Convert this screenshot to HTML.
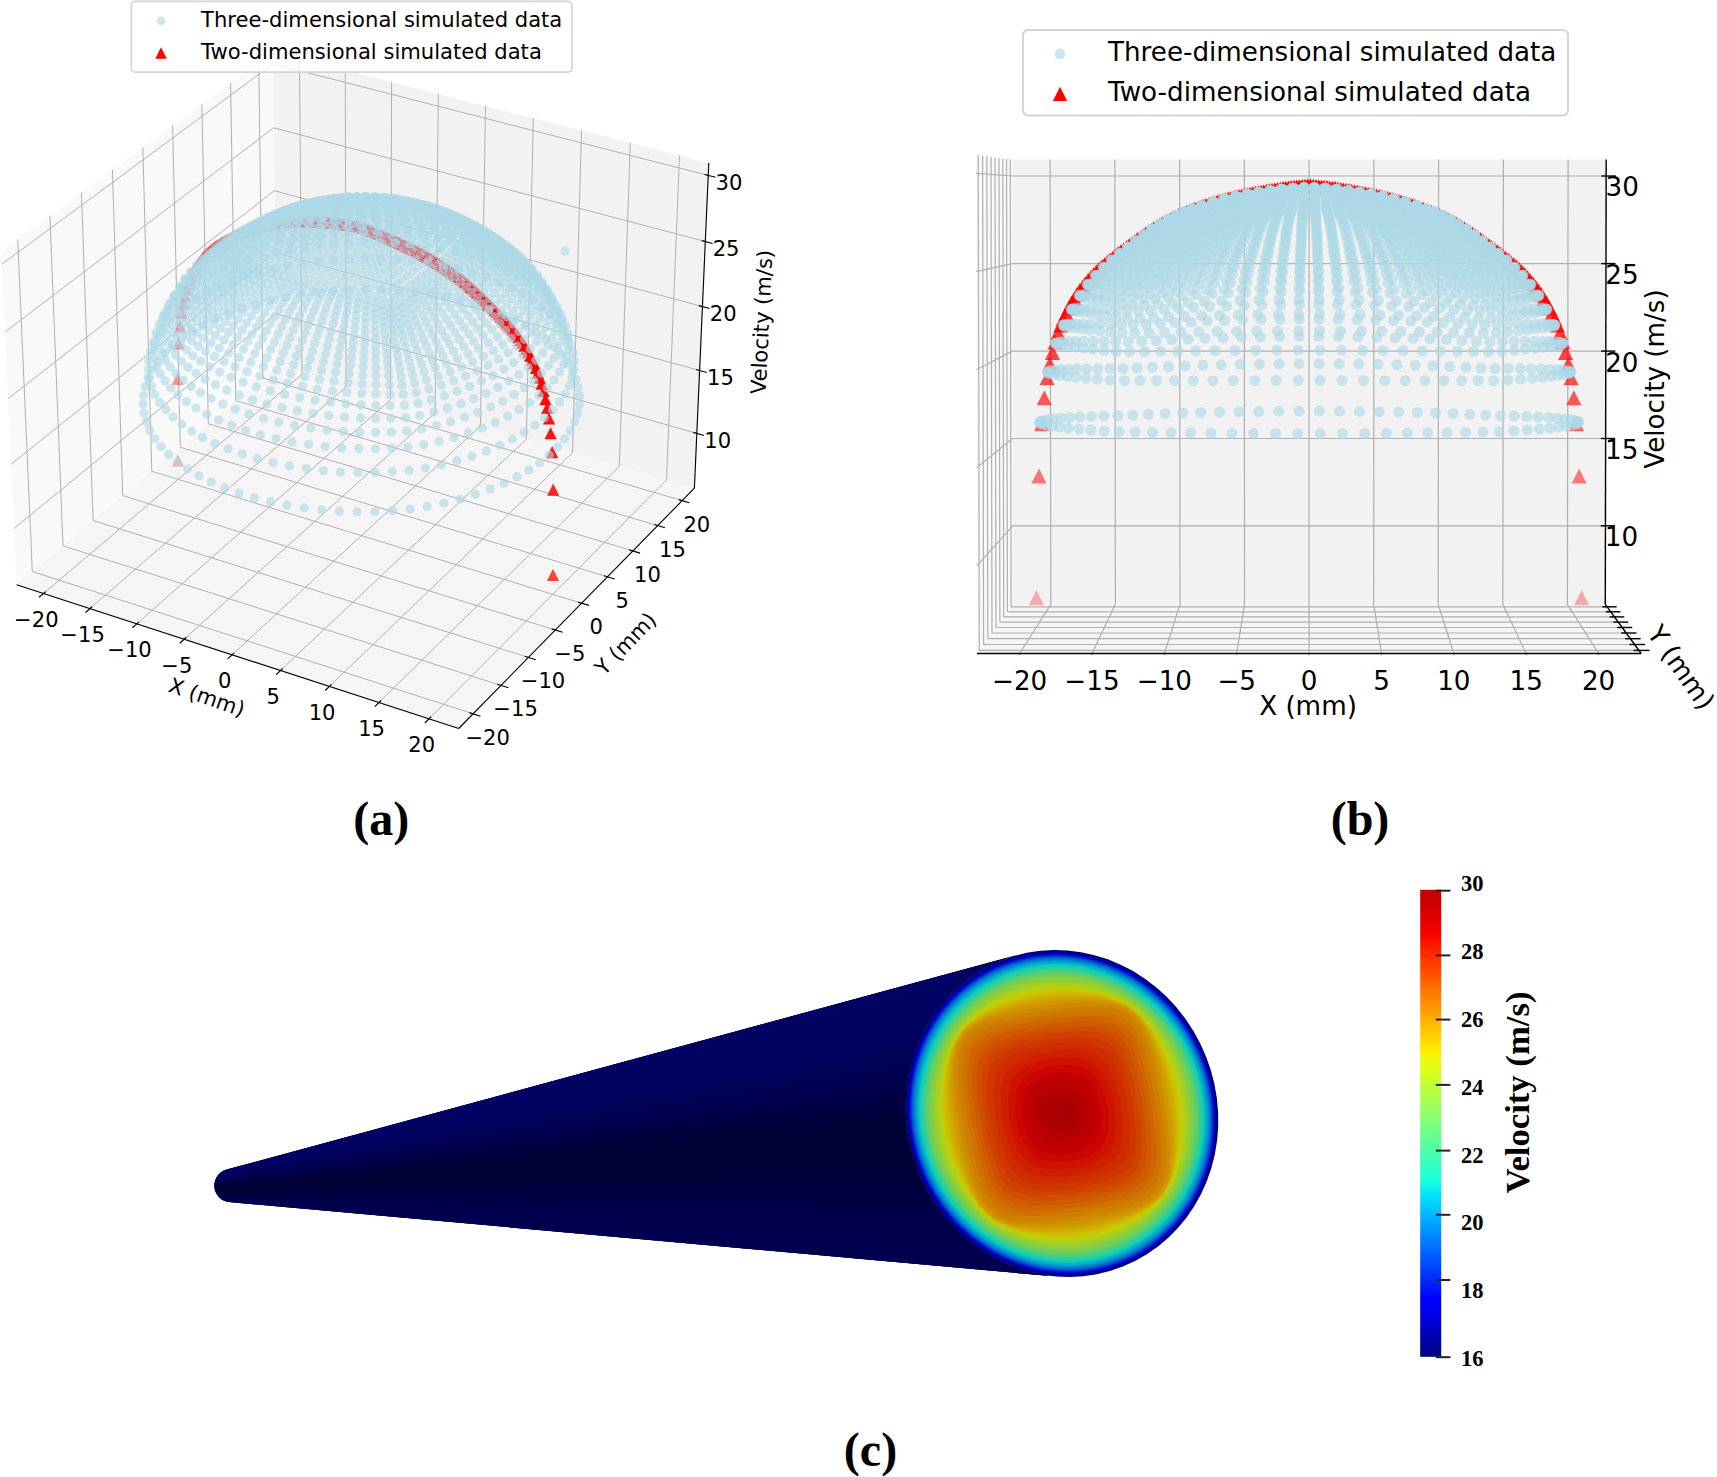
<!DOCTYPE html>
<html><head><meta charset="utf-8"><title>Velocity profiles</title>
<style>html,body{margin:0;padding:0;background:#fff}svg{display:block}</style></head>
<body><svg width="1717" height="1477" viewBox="0 0 1717 1477">
<rect width="1717" height="1477" fill="#fff"/>
<polygon points="16.5,584.7 276.3,366.7 272.9,51.8 1.1,251.4" fill="#f9f9f9"/>
<polygon points="276.3,366.7 694.4,488.2 708.8,162.9 272.9,51.8" fill="#f2f2f2"/>
<polygon points="16.5,584.7 458.7,728.5 694.4,488.2 276.3,366.7" fill="#f5f5f5"/>
<g stroke-linejoin="round"><polyline points="43.6,593.5 302,374.2 299.5,58.6" fill="none" stroke="#b0b0b0" stroke-width="1.00"/><polyline points="89.9,608.6 346,386.9 345.3,70.2" fill="none" stroke="#b0b0b0" stroke-width="1.00"/><polyline points="136.8,623.8 390.4,399.8 391.6,82" fill="none" stroke="#b0b0b0" stroke-width="1.00"/><polyline points="184.1,639.2 435.2,412.9 438.3,93.9" fill="none" stroke="#b0b0b0" stroke-width="1.00"/><polyline points="232,654.8 480.5,426 485.5,106" fill="none" stroke="#b0b0b0" stroke-width="1.00"/><polyline points="280.5,670.5 526.3,439.3 533.3,118.1" fill="none" stroke="#b0b0b0" stroke-width="1.00"/><polyline points="329.4,686.4 572.5,452.8 581.5,130.4" fill="none" stroke="#b0b0b0" stroke-width="1.00"/><polyline points="378.9,702.5 619.3,466.4 630.3,142.9" fill="none" stroke="#b0b0b0" stroke-width="1.00"/><polyline points="429,718.8 666.5,480.1 679.5,155.4" fill="none" stroke="#b0b0b0" stroke-width="1.00"/><polyline points="17.7,239.3 32.3,571.5 473.1,713.8" fill="none" stroke="#b0b0b0" stroke-width="1.00"/><polyline points="49.9,215.6 63,545.8 501,685.4" fill="none" stroke="#b0b0b0" stroke-width="1.00"/><polyline points="81.4,192.4 93.1,520.5 528.4,657.4" fill="none" stroke="#b0b0b0" stroke-width="1.00"/><polyline points="112.4,169.7 122.7,495.6 555.3,630" fill="none" stroke="#b0b0b0" stroke-width="1.00"/><polyline points="142.8,147.3 151.8,471.3 581.7,603.2" fill="none" stroke="#b0b0b0" stroke-width="1.00"/><polyline points="172.6,125.4 180.3,447.3 607.5,576.8" fill="none" stroke="#b0b0b0" stroke-width="1.00"/><polyline points="201.9,103.9 208.3,423.8 632.9,550.9" fill="none" stroke="#b0b0b0" stroke-width="1.00"/><polyline points="230.6,82.8 235.8,400.7 657.8,525.6" fill="none" stroke="#b0b0b0" stroke-width="1.00"/><polyline points="258.8,62.1 262.8,378 682.2,500.6" fill="none" stroke="#b0b0b0" stroke-width="1.00"/><polyline points="13.9,528.7 275.8,313.6 696.9,433.4" fill="none" stroke="#b0b0b0" stroke-width="1.00"/><polyline points="11,464.3 275.1,252.7 699.6,370.5" fill="none" stroke="#b0b0b0" stroke-width="1.00"/><polyline points="7.9,398.8 274.4,190.7 702.4,306.6" fill="none" stroke="#b0b0b0" stroke-width="1.00"/><polyline points="4.9,332.1 273.7,127.8 705.3,241.5" fill="none" stroke="#b0b0b0" stroke-width="1.00"/><polyline points="1.7,264.3 273,63.9 708.2,175.4" fill="none" stroke="#b0b0b0" stroke-width="1.00"/></g>
<polyline points="16.5,584.7 458.7,728.5" fill="none" stroke="#000" stroke-width="1.15"/>
<polyline points="458.7,728.5 694.4,488.2" fill="none" stroke="#000" stroke-width="1.15"/>
<polyline points="694.4,488.2 708.8,162.9" fill="none" stroke="#000" stroke-width="1.15"/>
<polyline points="39.1,597.3 45.8,591.6" fill="none" stroke="#000" stroke-width="1.15"/><polyline points="85.5,612.5 92.1,606.7" fill="none" stroke="#000" stroke-width="1.15"/><polyline points="132.4,627.7 139,621.9" fill="none" stroke="#000" stroke-width="1.15"/><polyline points="179.8,643.2 186.3,637.3" fill="none" stroke="#000" stroke-width="1.15"/><polyline points="227.7,658.8 234.2,652.8" fill="none" stroke="#000" stroke-width="1.15"/><polyline points="276.2,674.6 282.6,668.5" fill="none" stroke="#000" stroke-width="1.15"/><polyline points="325.2,690.5 331.5,684.4" fill="none" stroke="#000" stroke-width="1.15"/><polyline points="374.8,706.7 381,700.5" fill="none" stroke="#000" stroke-width="1.15"/><polyline points="424.9,723 431.1,716.7" fill="none" stroke="#000" stroke-width="1.15"/><polyline points="480.5,716.2 469.4,712.6" fill="none" stroke="#000" stroke-width="1.15"/><polyline points="508.4,687.7 497.3,684.2" fill="none" stroke="#000" stroke-width="1.15"/><polyline points="535.7,659.7 524.8,656.3" fill="none" stroke="#000" stroke-width="1.15"/><polyline points="562.6,632.3 551.7,628.9" fill="none" stroke="#000" stroke-width="1.15"/><polyline points="588.9,605.4 578,602.1" fill="none" stroke="#000" stroke-width="1.15"/><polyline points="614.7,579 603.9,575.7" fill="none" stroke="#000" stroke-width="1.15"/><polyline points="640,553.1 629.3,549.9" fill="none" stroke="#000" stroke-width="1.15"/><polyline points="664.9,527.7 654.3,524.5" fill="none" stroke="#000" stroke-width="1.15"/><polyline points="689.3,502.7 678.7,499.6" fill="none" stroke="#000" stroke-width="1.15"/><polyline points="703.9,435.5 693.3,432.4" fill="none" stroke="#000" stroke-width="1.15"/><polyline points="706.8,372.5 696.1,369.5" fill="none" stroke="#000" stroke-width="1.15"/><polyline points="709.6,308.5 698.8,305.6" fill="none" stroke="#000" stroke-width="1.15"/><polyline points="712.6,243.5 701.7,240.6" fill="none" stroke="#000" stroke-width="1.15"/><polyline points="715.5,177.3 704.6,174.5" fill="none" stroke="#000" stroke-width="1.15"/>
<g font-family="'DejaVu Sans','Liberation Sans',sans-serif" font-size="21.1" text-anchor="middle" dominant-baseline="central" fill="#000"><text x="36.3" y="619.6">−20</text><text x="82.6" y="634.7">−15</text><text x="129.5" y="649.9">−10</text><text x="176.8" y="665.3">−5</text><text x="224.7" y="680.9">0</text><text x="273.2" y="696.6">5</text><text x="322.1" y="712.5">10</text><text x="371.6" y="728.6">15</text><text x="421.7" y="744.9">20</text><text x="487.7" y="737.2">−20</text><text x="515.6" y="708.8">−15</text><text x="543" y="680.8">−10</text><text x="569.9" y="653.4">−5</text><text x="596.3" y="626.6">0</text><text x="622.1" y="600.2">5</text><text x="647.5" y="574.3">10</text><text x="672.4" y="549">15</text><text x="696.8" y="524">20</text><text x="717.7" y="440.4">10</text><text x="720.4" y="377.5">15</text><text x="723.2" y="313.6">20</text><text x="726.1" y="248.5">25</text><text x="729" y="182.4">30</text><text x="207" y="697" transform="rotate(19 207 697)">X (mm)</text><text x="625.5" y="643.5" transform="rotate(-46 625.5 643.5)">Y (mm)</text><text x="761.5" y="322" transform="rotate(-87.3 761.5 322)">Velocity (m/s)</text></g>
<g fill="#f00"><path d="M177.9 454.4l6.1 12.2h-12.2z" opacity="0.30"/><path d="M177.7 372.7l6.1 12.2h-12.2z" opacity="0.41"/><path d="M178.7 337.3l6.1 12.2h-12.2z" opacity="0.46"/><path d="M180.1 320l6.1 12.2h-12.2z" opacity="0.49"/><path d="M181.6 306.6l6.1 12.2h-12.2z" opacity="0.51"/><path d="M183.3 297.5l6.1 12.2h-12.2z" opacity="0.52"/><path d="M184.9 290.1l6.1 12.2h-12.2z" opacity="0.53"/><path d="M186.6 283.2l6.1 12.2h-12.2z" opacity="0.55"/><path d="M188.3 277.2l6.1 12.2h-12.2z" opacity="0.56"/><path d="M190.1 272.5l6.1 12.2h-12.2z" opacity="0.57"/><path d="M191.8 268.6l6.1 12.2h-12.2z" opacity="0.57"/><path d="M193.6 265.1l6.1 12.2h-12.2z" opacity="0.58"/><path d="M195.4 261.9l6.1 12.2h-12.2z" opacity="0.59"/><path d="M197.2 259l6.1 12.2h-12.2z" opacity="0.59"/><path d="M199 256.4l6.1 12.2h-12.2z" opacity="0.60"/><path d="M200.8 254l6.1 12.2h-12.2z" opacity="0.61"/><path d="M202.6 251.8l6.1 12.2h-12.2z" opacity="0.61"/><path d="M204.4 249.9l6.1 12.2h-12.2z" opacity="0.62"/><path d="M206.2 248l6.1 12.2h-12.2z" opacity="0.62"/><path d="M208.1 246.3l6.1 12.2h-12.2z" opacity="0.63"/><path d="M209.9 244.7l6.1 12.2h-12.2z" opacity="0.63"/><path d="M211.7 243.2l6.1 12.2h-12.2z" opacity="0.64"/><path d="M213.6 241.8l6.1 12.2h-12.2z" opacity="0.64"/><path d="M215.4 240.6l6.1 12.2h-12.2z" opacity="0.65"/><path d="M217.3 239.3l6.1 12.2h-12.2z" opacity="0.65"/><path d="M219.1 238.2l6.1 12.2h-12.2z" opacity="0.66"/><path d="M221 237.1l6.1 12.2h-12.2z" opacity="0.66"/><path d="M222.8 236.1l6.1 12.2h-12.2z" opacity="0.67"/><path d="M224.7 235.1l6.1 12.2h-12.2z" opacity="0.67"/><path d="M226.5 234.1l6.1 12.2h-12.2z" opacity="0.67"/><path d="M228.4 233.1l6.1 12.2h-12.2z" opacity="0.68"/><path d="M230.3 232.2l6.1 12.2h-12.2z" opacity="0.68"/><path d="M232.1 231.2l6.1 12.2h-12.2z" opacity="0.69"/><path d="M234 230.3l6.1 12.2h-12.2z" opacity="0.69"/><path d="M235.9 229.4l6.1 12.2h-12.2z" opacity="0.69"/><path d="M237.7 228.5l6.1 12.2h-12.2z" opacity="0.70"/><path d="M239.6 227.6l6.1 12.2h-12.2z" opacity="0.70"/><path d="M241.5 226.7l6.1 12.2h-12.2z" opacity="0.71"/><path d="M243.3 225.9l6.1 12.2h-12.2z" opacity="0.71"/><path d="M245.2 225.1l6.1 12.2h-12.2z" opacity="0.72"/><path d="M247.1 224.3l6.1 12.2h-12.2z" opacity="0.72"/><path d="M249 223.5l6.1 12.2h-12.2z" opacity="0.72"/><path d="M250.9 222.8l6.1 12.2h-12.2z" opacity="0.73"/><path d="M252.7 222.1l6.1 12.2h-12.2z" opacity="0.73"/><path d="M553 568.7l6.1 12.2h-12.2z" opacity="0.73"/><path d="M254.6 221.4l6.1 12.2h-12.2z" opacity="0.73"/><path d="M256.5 220.8l6.1 12.2h-12.2z" opacity="0.74"/><path d="M258.4 220.2l6.1 12.2h-12.2z" opacity="0.74"/><path d="M260.3 219.6l6.1 12.2h-12.2z" opacity="0.75"/><path d="M262.2 219.1l6.1 12.2h-12.2z" opacity="0.75"/><path d="M264.1 218.6l6.1 12.2h-12.2z" opacity="0.75"/><path d="M266 218.2l6.1 12.2h-12.2z" opacity="0.76"/><path d="M267.9 217.8l6.1 12.2h-12.2z" opacity="0.76"/><path d="M269.8 217.5l6.1 12.2h-12.2z" opacity="0.76"/><path d="M271.7 217.2l6.1 12.2h-12.2z" opacity="0.77"/><path d="M273.6 216.9l6.1 12.2h-12.2z" opacity="0.77"/><path d="M275.5 216.6l6.1 12.2h-12.2z" opacity="0.77"/><path d="M277.4 216.4l6.1 12.2h-12.2z" opacity="0.78"/><path d="M279.3 216.2l6.1 12.2h-12.2z" opacity="0.78"/><path d="M281.2 216l6.1 12.2h-12.2z" opacity="0.78"/><path d="M283.1 215.8l6.1 12.2h-12.2z" opacity="0.79"/><path d="M285 215.6l6.1 12.2h-12.2z" opacity="0.79"/><path d="M286.9 215.5l6.1 12.2h-12.2z" opacity="0.79"/><path d="M288.9 215.4l6.1 12.2h-12.2z" opacity="0.80"/><path d="M290.8 215.3l6.1 12.2h-12.2z" opacity="0.80"/><path d="M292.7 215.2l6.1 12.2h-12.2z" opacity="0.80"/><path d="M294.6 215.1l6.1 12.2h-12.2z" opacity="0.81"/><path d="M296.5 215l6.1 12.2h-12.2z" opacity="0.81"/><path d="M298.5 215l6.1 12.2h-12.2z" opacity="0.81"/><path d="M300.4 215l6.1 12.2h-12.2z" opacity="0.82"/><path d="M302.3 215l6.1 12.2h-12.2z" opacity="0.82"/><path d="M304.2 215l6.1 12.2h-12.2z" opacity="0.82"/><path d="M306.1 215l6.1 12.2h-12.2z" opacity="0.82"/><path d="M308.1 215.1l6.1 12.2h-12.2z" opacity="0.83"/><path d="M310 215.1l6.1 12.2h-12.2z" opacity="0.83"/><path d="M311.9 215.2l6.1 12.2h-12.2z" opacity="0.83"/><path d="M313.9 215.3l6.1 12.2h-12.2z" opacity="0.84"/><path d="M315.8 215.4l6.1 12.2h-12.2z" opacity="0.84"/><path d="M317.7 215.6l6.1 12.2h-12.2z" opacity="0.84"/><path d="M319.7 215.7l6.1 12.2h-12.2z" opacity="0.84"/><path d="M553.2 483.6l6.1 12.2h-12.2z" opacity="0.85"/><path d="M321.6 215.9l6.1 12.2h-12.2z" opacity="0.85"/><path d="M323.5 216l6.1 12.2h-12.2z" opacity="0.85"/><path d="M325.5 216.2l6.1 12.2h-12.2z" opacity="0.85"/><path d="M327.4 216.3l6.1 12.2h-12.2z" opacity="0.86"/><path d="M329.4 216.5l6.1 12.2h-12.2z" opacity="0.86"/><path d="M331.3 216.7l6.1 12.2h-12.2z" opacity="0.86"/><path d="M333.2 216.9l6.1 12.2h-12.2z" opacity="0.86"/><path d="M335.2 217.1l6.1 12.2h-12.2z" opacity="0.87"/><path d="M337.1 217.3l6.1 12.2h-12.2z" opacity="0.87"/><path d="M339.1 217.5l6.1 12.2h-12.2z" opacity="0.87"/><path d="M341 217.8l6.1 12.2h-12.2z" opacity="0.87"/><path d="M343 218l6.1 12.2h-12.2z" opacity="0.88"/><path d="M344.9 218.3l6.1 12.2h-12.2z" opacity="0.88"/><path d="M346.9 218.5l6.1 12.2h-12.2z" opacity="0.88"/><path d="M348.8 218.8l6.1 12.2h-12.2z" opacity="0.89"/><path d="M350.8 219.1l6.1 12.2h-12.2z" opacity="0.89"/><path d="M352.7 219.4l6.1 12.2h-12.2z" opacity="0.89"/><path d="M354.7 219.8l6.1 12.2h-12.2z" opacity="0.89"/><path d="M552.2 446l6.1 12.2h-12.2z" opacity="0.90"/><path d="M356.6 220.1l6.1 12.2h-12.2z" opacity="0.90"/><path d="M358.6 220.5l6.1 12.2h-12.2z" opacity="0.90"/><path d="M360.5 220.8l6.1 12.2h-12.2z" opacity="0.90"/><path d="M362.5 221.4l6.1 12.2h-12.2z" opacity="0.90"/><path d="M364.4 222.1l6.1 12.2h-12.2z" opacity="0.91"/><path d="M366.4 222.8l6.1 12.2h-12.2z" opacity="0.91"/><path d="M368.4 223.5l6.1 12.2h-12.2z" opacity="0.91"/><path d="M370.3 224.2l6.1 12.2h-12.2z" opacity="0.91"/><path d="M372.3 225l6.1 12.2h-12.2z" opacity="0.91"/><path d="M374.2 225.7l6.1 12.2h-12.2z" opacity="0.92"/><path d="M376.2 226.5l6.1 12.2h-12.2z" opacity="0.92"/><path d="M550.6 427.1l6.1 12.2h-12.2z" opacity="0.92"/><path d="M378.2 227.3l6.1 12.2h-12.2z" opacity="0.92"/><path d="M380.1 228.1l6.1 12.2h-12.2z" opacity="0.92"/><path d="M382.1 228.9l6.1 12.2h-12.2z" opacity="0.92"/><path d="M384.1 229.8l6.1 12.2h-12.2z" opacity="0.93"/><path d="M386 230.6l6.1 12.2h-12.2z" opacity="0.93"/><path d="M388 231.5l6.1 12.2h-12.2z" opacity="0.93"/><path d="M389.9 232.4l6.1 12.2h-12.2z" opacity="0.93"/><path d="M391.9 233.2l6.1 12.2h-12.2z" opacity="0.93"/><path d="M393.9 234.1l6.1 12.2h-12.2z" opacity="0.94"/><path d="M549 412.2l6.1 12.2h-12.2z" opacity="0.94"/><path d="M395.9 235l6.1 12.2h-12.2z" opacity="0.94"/><path d="M397.8 235.9l6.1 12.2h-12.2z" opacity="0.94"/><path d="M399.8 236.8l6.1 12.2h-12.2z" opacity="0.94"/><path d="M401.8 237.7l6.1 12.2h-12.2z" opacity="0.94"/><path d="M403.7 238.6l6.1 12.2h-12.2z" opacity="0.94"/><path d="M405.7 239.6l6.1 12.2h-12.2z" opacity="0.95"/><path d="M547.2 401.7l6.1 12.2h-12.2z" opacity="0.95"/><path d="M407.7 240.5l6.1 12.2h-12.2z" opacity="0.95"/><path d="M409.7 241.5l6.1 12.2h-12.2z" opacity="0.95"/><path d="M411.6 242.4l6.1 12.2h-12.2z" opacity="0.95"/><path d="M413.6 243.4l6.1 12.2h-12.2z" opacity="0.95"/><path d="M415.6 244.4l6.1 12.2h-12.2z" opacity="0.96"/><path d="M417.6 245.4l6.1 12.2h-12.2z" opacity="0.96"/><path d="M545.4 393l6.1 12.2h-12.2z" opacity="0.96"/><path d="M419.5 246.5l6.1 12.2h-12.2z" opacity="0.96"/><path d="M421.5 247.5l6.1 12.2h-12.2z" opacity="0.96"/><path d="M423.5 248.6l6.1 12.2h-12.2z" opacity="0.96"/><path d="M425.5 249.7l6.1 12.2h-12.2z" opacity="0.96"/><path d="M427.4 250.8l6.1 12.2h-12.2z" opacity="0.97"/><path d="M543.6 384.8l6.1 12.2h-12.2z" opacity="0.97"/><path d="M429.4 252l6.1 12.2h-12.2z" opacity="0.97"/><path d="M431.4 253.1l6.1 12.2h-12.2z" opacity="0.97"/><path d="M433.4 254.3l6.1 12.2h-12.2z" opacity="0.97"/><path d="M435.3 255.5l6.1 12.2h-12.2z" opacity="0.97"/><path d="M541.7 377.5l6.1 12.2h-12.2z" opacity="0.97"/><path d="M437.3 256.7l6.1 12.2h-12.2z" opacity="0.97"/><path d="M439.3 257.9l6.1 12.2h-12.2z" opacity="0.97"/><path d="M441.3 259.1l6.1 12.2h-12.2z" opacity="0.98"/><path d="M443.3 260.4l6.1 12.2h-12.2z" opacity="0.98"/><path d="M539.8 371.6l6.1 12.2h-12.2z" opacity="0.98"/><path d="M445.3 261.7l6.1 12.2h-12.2z" opacity="0.98"/><path d="M447.2 263l6.1 12.2h-12.2z" opacity="0.98"/><path d="M449.2 264.3l6.1 12.2h-12.2z" opacity="0.98"/><path d="M537.9 366.5l6.1 12.2h-12.2z" opacity="0.98"/><path d="M451.2 265.6l6.1 12.2h-12.2z" opacity="0.98"/><path d="M453.2 267l6.1 12.2h-12.2z" opacity="0.98"/><path d="M536 361.8l6.1 12.2h-12.2z" opacity="0.98"/><path d="M455.2 268.4l6.1 12.2h-12.2z" opacity="0.98"/><path d="M457.1 269.8l6.1 12.2h-12.2z" opacity="0.99"/><path d="M459.1 271.3l6.1 12.2h-12.2z" opacity="0.99"/><path d="M534.1 357.4l6.1 12.2h-12.2z" opacity="0.99"/><path d="M461.1 272.8l6.1 12.2h-12.2z" opacity="0.99"/><path d="M463.1 274.4l6.1 12.2h-12.2z" opacity="0.99"/><path d="M465.1 276l6.1 12.2h-12.2z" opacity="0.99"/><path d="M532.1 353.3l6.1 12.2h-12.2z" opacity="0.99"/><path d="M467.1 277.6l6.1 12.2h-12.2z" opacity="0.99"/><path d="M469 279.3l6.1 12.2h-12.2z" opacity="0.99"/><path d="M530.2 349.5l6.1 12.2h-12.2z" opacity="0.99"/><path d="M471 281l6.1 12.2h-12.2z" opacity="0.99"/><path d="M473 282.8l6.1 12.2h-12.2z" opacity="0.99"/><path d="M475 284.6l6.1 12.2h-12.2z" opacity="0.99"/><path d="M528.3 346l6.1 12.2h-12.2z" opacity="0.99"/><path d="M477 286.4l6.1 12.2h-12.2z" opacity="0.99"/><path d="M478.9 288.3l6.1 12.2h-12.2z" opacity="0.99"/><path d="M526.3 342.7l6.1 12.2h-12.2z" opacity="1.00"/><path d="M480.9 290.2l6.1 12.2h-12.2z" opacity="1.00"/><path d="M482.9 292.1l6.1 12.2h-12.2z" opacity="1.00"/><path d="M484.9 294l6.1 12.2h-12.2z" opacity="1.00"/><path d="M524.4 339.5l6.1 12.2h-12.2z" opacity="1.00"/><path d="M486.9 296l6.1 12.2h-12.2z" opacity="1.00"/><path d="M488.8 298l6.1 12.2h-12.2z" opacity="1.00"/><path d="M522.4 336.5l6.1 12.2h-12.2z" opacity="1.00"/><path d="M490.8 300l6.1 12.2h-12.2z" opacity="1.00"/><path d="M492.8 302l6.1 12.2h-12.2z" opacity="1.00"/><path d="M520.4 333.7l6.1 12.2h-12.2z" opacity="1.00"/><path d="M494.8 304l6.1 12.2h-12.2z" opacity="1.00"/><path d="M496.7 306.1l6.1 12.2h-12.2z" opacity="1.00"/><path d="M498.7 308.2l6.1 12.2h-12.2z" opacity="1.00"/><path d="M518.5 331l6.1 12.2h-12.2z" opacity="1.00"/><path d="M500.7 310.2l6.1 12.2h-12.2z" opacity="1.00"/><path d="M516.5 328.3l6.1 12.2h-12.2z" opacity="1.00"/><path d="M502.7 312.3l6.1 12.2h-12.2z" opacity="1.00"/><path d="M504.7 314.5l6.1 12.2h-12.2z" opacity="1.00"/><path d="M514.5 325.8l6.1 12.2h-12.2z" opacity="1.00"/><path d="M506.6 316.6l6.1 12.2h-12.2z" opacity="1.00"/><path d="M512.6 323.4l6.1 12.2h-12.2z" opacity="1.00"/><path d="M508.6 318.8l6.1 12.2h-12.2z" opacity="1.00"/><path d="M510.6 321.1l6.1 12.2h-12.2z" opacity="1.00"/></g>
<g fill="#add8e6" fill-opacity="0.62" class="da"><circle cx="365.5" cy="289.4" r="4.6"/><circle cx="349.2" cy="289.8" r="4.6"/><circle cx="381.9" cy="289.6" r="4.6"/><circle cx="332.9" cy="290.9" r="4.6"/><circle cx="398.2" cy="290.5" r="4.6"/><circle cx="316.8" cy="292.5" r="4.6"/><circle cx="414.3" cy="292" r="4.6"/><circle cx="301" cy="294.6" r="4.6"/><circle cx="430.2" cy="294.2" r="4.6"/><circle cx="285.5" cy="297.2" r="4.6"/><circle cx="445.7" cy="297" r="4.6"/><circle cx="270.3" cy="300.4" r="4.6"/><circle cx="460.7" cy="300.4" r="4.6"/><circle cx="364.8" cy="258.6" r="4.6"/><circle cx="348.9" cy="259.1" r="4.6"/><circle cx="380.7" cy="258.7" r="4.6"/><circle cx="333.2" cy="260.2" r="4.6"/><circle cx="255.7" cy="304.2" r="4.6"/><circle cx="396.6" cy="259.4" r="4.6"/><circle cx="475.2" cy="304.4" r="4.6"/><circle cx="317.7" cy="261.9" r="4.6"/><circle cx="412.4" cy="260.8" r="4.6"/><circle cx="302.5" cy="263.9" r="4.6"/><circle cx="428" cy="262.8" r="4.6"/><circle cx="241.5" cy="308.5" r="4.6"/><circle cx="489.1" cy="309" r="4.6"/><circle cx="287.6" cy="266.2" r="4.6"/><circle cx="443.3" cy="265.5" r="4.6"/><circle cx="364" cy="242" r="4.6"/><circle cx="348.7" cy="242.6" r="4.6"/><circle cx="379.5" cy="242" r="4.6"/><circle cx="333.5" cy="243.8" r="4.6"/><circle cx="273" cy="269.1" r="4.6"/><circle cx="228" cy="313.4" r="4.6"/><circle cx="395" cy="242.7" r="4.6"/><circle cx="318.7" cy="245.5" r="4.6"/><circle cx="502.2" cy="314.2" r="4.6"/><circle cx="458.2" cy="268.8" r="4.6"/><circle cx="410.5" cy="244" r="4.6"/><circle cx="304.1" cy="247.5" r="4.6"/><circle cx="258.8" cy="272.6" r="4.6"/><circle cx="425.8" cy="245.9" r="4.6"/><circle cx="472.5" cy="272.7" r="4.6"/><circle cx="289.8" cy="249.6" r="4.6"/><circle cx="363.3" cy="232.5" r="4.6"/><circle cx="215.3" cy="318.8" r="4.6"/><circle cx="348.5" cy="233.1" r="4.6"/><circle cx="378.3" cy="232.5" r="4.6"/><circle cx="333.9" cy="234.3" r="4.6"/><circle cx="514.5" cy="319.9" r="4.6"/><circle cx="440.8" cy="248.4" r="4.6"/><circle cx="393.4" cy="233" r="4.6"/><circle cx="319.6" cy="236" r="4.6"/><circle cx="245" cy="276.7" r="4.6"/><circle cx="408.5" cy="234.2" r="4.6"/><circle cx="275.7" cy="252.2" r="4.6"/><circle cx="305.7" cy="237.8" r="4.6"/><circle cx="486.2" cy="277.3" r="4.6"/><circle cx="455.5" cy="251.7" r="4.6"/><circle cx="423.5" cy="236.1" r="4.6"/><circle cx="203.3" cy="324.8" r="4.6"/><circle cx="348.4" cy="225.6" r="4.6"/><circle cx="362.6" cy="224.9" r="4.6"/><circle cx="292" cy="239.8" r="4.6"/><circle cx="334.3" cy="226.9" r="4.6"/><circle cx="377.2" cy="224.8" r="4.6"/><circle cx="262" cy="255.5" r="4.6"/><circle cx="526" cy="326" r="4.6"/><circle cx="231.8" cy="281.3" r="4.6"/><circle cx="320.6" cy="228.6" r="4.6"/><circle cx="391.8" cy="225.2" r="4.6"/><circle cx="438.3" cy="238.6" r="4.6"/><circle cx="469.6" cy="255.5" r="4.6"/><circle cx="499.2" cy="282.3" r="4.6"/><circle cx="406.6" cy="226.3" r="4.6"/><circle cx="307.3" cy="230.4" r="4.6"/><circle cx="278.5" cy="242.3" r="4.6"/><circle cx="248.7" cy="259.3" r="4.6"/><circle cx="452.7" cy="241.7" r="4.6"/><circle cx="421.2" cy="228" r="4.6"/><circle cx="348.2" cy="219.2" r="4.6"/><circle cx="294.2" cy="232.1" r="4.6"/><circle cx="362" cy="218.4" r="4.6"/><circle cx="334.7" cy="220.5" r="4.6"/><circle cx="192.2" cy="331.2" r="4.6"/><circle cx="376.1" cy="218.2" r="4.6"/><circle cx="483.1" cy="259.9" r="4.6"/><circle cx="219.3" cy="286.5" r="4.6"/><circle cx="321.6" cy="222.3" r="4.6"/><circle cx="265.3" cy="245.4" r="4.6"/><circle cx="536.4" cy="332.7" r="4.6"/><circle cx="390.3" cy="218.5" r="4.6"/><circle cx="435.7" cy="230.4" r="4.6"/><circle cx="511.3" cy="287.9" r="4.6"/><circle cx="308.9" cy="223.9" r="4.6"/><circle cx="466.6" cy="245.5" r="4.6"/><circle cx="281.3" cy="234.4" r="4.6"/><circle cx="404.6" cy="219.5" r="4.6"/><circle cx="235.8" cy="263.7" r="4.6"/><circle cx="348.1" cy="214.3" r="4.6"/><circle cx="361.4" cy="213.6" r="4.6"/><circle cx="252.4" cy="249" r="4.6"/><circle cx="419" cy="221.2" r="4.6"/><circle cx="449.8" cy="233.4" r="4.6"/><circle cx="335.2" cy="215.6" r="4.6"/><circle cx="296.4" cy="225.5" r="4.6"/><circle cx="495.8" cy="264.9" r="4.6"/><circle cx="375" cy="213.4" r="4.6"/><circle cx="322.6" cy="217.3" r="4.6"/><circle cx="268.6" cy="237.2" r="4.6"/><circle cx="207.5" cy="292.2" r="4.6"/><circle cx="388.8" cy="213.8" r="4.6"/><circle cx="182.1" cy="338.1" r="4.6"/><circle cx="479.8" cy="249.8" r="4.6"/><circle cx="310.5" cy="218.8" r="4.6"/><circle cx="433.1" cy="223.5" r="4.6"/><circle cx="545.9" cy="339.7" r="4.6"/><circle cx="522.4" cy="294" r="4.6"/><circle cx="402.7" cy="214.7" r="4.6"/><circle cx="284" cy="227.5" r="4.6"/><circle cx="463.5" cy="237.1" r="4.6"/><circle cx="223.6" cy="268.6" r="4.6"/><circle cx="348.1" cy="211" r="4.6"/><circle cx="335.6" cy="212.2" r="4.6"/><circle cx="239.9" cy="253.2" r="4.6"/><circle cx="360.9" cy="210.3" r="4.6"/><circle cx="298.6" cy="220.3" r="4.6"/><circle cx="323.6" cy="213.8" r="4.6"/><circle cx="416.7" cy="216.4" r="4.6"/><circle cx="374" cy="210.1" r="4.6"/><circle cx="256.1" cy="240.6" r="4.6"/><circle cx="507.7" cy="270.4" r="4.6"/><circle cx="447" cy="226.5" r="4.6"/><circle cx="387.3" cy="210.4" r="4.6"/><circle cx="312" cy="215.3" r="4.6"/><circle cx="271.8" cy="230.1" r="4.6"/><circle cx="492.3" cy="254.7" r="4.6"/><circle cx="196.6" cy="298.4" r="4.6"/><circle cx="430.5" cy="218.6" r="4.6"/><circle cx="400.8" cy="211.4" r="4.6"/><circle cx="286.8" cy="222.3" r="4.6"/><circle cx="476.5" cy="241.4" r="4.6"/><circle cx="348" cy="208.4" r="4.6"/><circle cx="336.1" cy="209.5" r="4.6"/><circle cx="173" cy="345.5" r="4.6"/><circle cx="532.7" cy="300.5" r="4.6"/><circle cx="360.3" cy="207.7" r="4.6"/><circle cx="300.8" cy="216.7" r="4.6"/><circle cx="324.6" cy="211.1" r="4.6"/><circle cx="460.4" cy="230.1" r="4.6"/><circle cx="212" cy="274.2" r="4.6"/><circle cx="228" cy="258" r="4.6"/><circle cx="554.3" cy="347.1" r="4.6"/><circle cx="373" cy="207.4" r="4.6"/><circle cx="414.4" cy="212.9" r="4.6"/><circle cx="244" cy="244.6" r="4.6"/><circle cx="259.8" cy="233.3" r="4.6"/><circle cx="313.6" cy="212.5" r="4.6"/><circle cx="444.1" cy="221.5" r="4.6"/><circle cx="385.9" cy="207.7" r="4.6"/><circle cx="518.6" cy="276.4" r="4.6"/><circle cx="275" cy="224.8" r="4.6"/><circle cx="503.9" cy="260.1" r="4.6"/><circle cx="289.5" cy="218.6" r="4.6"/><circle cx="427.9" cy="215.1" r="4.6"/><circle cx="399" cy="208.6" r="4.6"/><circle cx="488.7" cy="246.3" r="4.6"/><circle cx="336.6" cy="207.3" r="4.6"/><circle cx="348" cy="206.2" r="4.6"/><circle cx="325.6" cy="208.8" r="4.6"/><circle cx="302.9" cy="213.8" r="4.6"/><circle cx="359.8" cy="205.5" r="4.6"/><circle cx="473.1" cy="234.3" r="4.6"/><circle cx="372" cy="205.3" r="4.6"/><circle cx="186.6" cy="305.2" r="4.6"/><circle cx="457.2" cy="225" r="4.6"/><circle cx="412.2" cy="210.1" r="4.6"/><circle cx="315.1" cy="210.2" r="4.6"/><circle cx="232.4" cy="249.1" r="4.6"/><circle cx="248.1" cy="237.1" r="4.6"/><circle cx="263.5" cy="227.9" r="4.6"/><circle cx="216.7" cy="263.3" r="4.6"/><circle cx="384.5" cy="205.5" r="4.6"/><circle cx="541.8" cy="307.4" r="4.6"/><circle cx="441.2" cy="217.9" r="4.6"/><circle cx="278.3" cy="221" r="4.6"/><circle cx="201.3" cy="280.2" r="4.6"/><circle cx="292.2" cy="215.6" r="4.6"/><circle cx="165" cy="353.1" r="4.6"/><circle cx="397.2" cy="206.4" r="4.6"/><circle cx="337.1" cy="205.5" r="4.6"/><circle cx="425.3" cy="212.2" r="4.6"/><circle cx="326.6" cy="207" r="4.6"/><circle cx="561.6" cy="354.9" r="4.6"/><circle cx="305" cy="211.4" r="4.6"/><circle cx="348.1" cy="204.4" r="4.6"/><circle cx="528.5" cy="282.8" r="4.6"/><circle cx="514.6" cy="266" r="4.6"/><circle cx="500.1" cy="251.6" r="4.6"/><circle cx="359.4" cy="203.8" r="4.6"/><circle cx="485.1" cy="239" r="4.6"/><circle cx="316.7" cy="208.2" r="4.6"/><circle cx="469.7" cy="229.1" r="4.6"/><circle cx="371.1" cy="203.5" r="4.6"/><circle cx="410" cy="207.8" r="4.6"/><circle cx="454" cy="221.4" r="4.6"/><circle cx="267.2" cy="224" r="4.6"/><circle cx="281.4" cy="217.9" r="4.6"/><circle cx="252.2" cy="231.6" r="4.6"/><circle cx="383.1" cy="203.8" r="4.6"/><circle cx="438.3" cy="214.9" r="4.6"/><circle cx="236.8" cy="241.5" r="4.6"/><circle cx="294.8" cy="213.1" r="4.6"/><circle cx="221.4" cy="254.3" r="4.6"/><circle cx="327.5" cy="205.5" r="4.6"/><circle cx="337.6" cy="204.1" r="4.6"/><circle cx="307.1" cy="209.4" r="4.6"/><circle cx="348.1" cy="203" r="4.6"/><circle cx="395.4" cy="204.6" r="4.6"/><circle cx="177.6" cy="312.3" r="4.6"/><circle cx="422.8" cy="209.8" r="4.6"/><circle cx="206.1" cy="269.2" r="4.6"/><circle cx="359" cy="202.3" r="4.6"/><circle cx="318.2" cy="206.7" r="4.6"/><circle cx="550" cy="314.6" r="4.6"/><circle cx="191.4" cy="286.7" r="4.6"/><circle cx="370.2" cy="202.1" r="4.6"/><circle cx="481.4" cy="233.8" r="4.6"/><circle cx="496.2" cy="244.2" r="4.6"/><circle cx="510.5" cy="257.4" r="4.6"/><circle cx="466.2" cy="225.4" r="4.6"/><circle cx="524.3" cy="272.2" r="4.6"/><circle cx="407.8" cy="205.9" r="4.6"/><circle cx="450.8" cy="218.3" r="4.6"/><circle cx="270.8" cy="220.7" r="4.6"/><circle cx="537.5" cy="289.5" r="4.6"/><circle cx="284.6" cy="215.2" r="4.6"/><circle cx="256.3" cy="227.5" r="4.6"/><circle cx="297.4" cy="211" r="4.6"/><circle cx="381.8" cy="202.3" r="4.6"/><circle cx="158.2" cy="361.2" r="4.6"/><circle cx="328.5" cy="204.1" r="4.6"/><circle cx="435.3" cy="212.5" r="4.6"/><circle cx="241.2" cy="235.8" r="4.6"/><circle cx="309.1" cy="207.8" r="4.6"/><circle cx="338.2" cy="202.8" r="4.6"/><circle cx="567.7" cy="363" r="4.6"/><circle cx="348.2" cy="201.7" r="4.6"/><circle cx="319.7" cy="205.3" r="4.6"/><circle cx="393.6" cy="203" r="4.6"/><circle cx="226.1" cy="246.4" r="4.6"/><circle cx="420.2" cy="207.9" r="4.6"/><circle cx="358.6" cy="201" r="4.6"/><circle cx="211" cy="259.9" r="4.6"/><circle cx="369.4" cy="200.7" r="4.6"/><circle cx="274.4" cy="217.9" r="4.6"/><circle cx="477.6" cy="229.9" r="4.6"/><circle cx="287.7" cy="213.1" r="4.6"/><circle cx="462.7" cy="222.2" r="4.6"/><circle cx="405.6" cy="204.3" r="4.6"/><circle cx="300" cy="209.3" r="4.6"/><circle cx="492.2" cy="238.9" r="4.6"/><circle cx="260.3" cy="224" r="4.6"/><circle cx="447.5" cy="215.8" r="4.6"/><circle cx="329.5" cy="202.9" r="4.6"/><circle cx="196.5" cy="275.6" r="4.6"/><circle cx="506.3" cy="249.9" r="4.6"/><circle cx="380.5" cy="200.8" r="4.6"/><circle cx="311.2" cy="206.2" r="4.6"/><circle cx="338.7" cy="201.5" r="4.6"/><circle cx="245.7" cy="231.6" r="4.6"/><circle cx="519.9" cy="263.5" r="4.6"/><circle cx="432.4" cy="210.5" r="4.6"/><circle cx="169.7" cy="319.8" r="4.6"/><circle cx="321.1" cy="204" r="4.6"/><circle cx="348.3" cy="200.5" r="4.6"/><circle cx="182.6" cy="293.7" r="4.6"/><circle cx="532.9" cy="278.8" r="4.6"/><circle cx="557" cy="322.1" r="4.6"/><circle cx="391.9" cy="201.5" r="4.6"/><circle cx="230.8" cy="240.6" r="4.6"/><circle cx="417.6" cy="206.1" r="4.6"/><circle cx="358.2" cy="199.7" r="4.6"/><circle cx="545.3" cy="296.5" r="4.6"/><circle cx="290.8" cy="211.2" r="4.6"/><circle cx="278" cy="215.6" r="4.6"/><circle cx="368.6" cy="199.4" r="4.6"/><circle cx="302.5" cy="207.6" r="4.6"/><circle cx="330.5" cy="201.7" r="4.6"/><circle cx="264.3" cy="221.1" r="4.6"/><circle cx="459.1" cy="219.6" r="4.6"/><circle cx="216" cy="252" r="4.6"/><circle cx="473.8" cy="226.6" r="4.6"/><circle cx="403.4" cy="202.7" r="4.6"/><circle cx="444.2" cy="213.7" r="4.6"/><circle cx="313.2" cy="204.8" r="4.6"/><circle cx="488.2" cy="234.9" r="4.6"/><circle cx="152.6" cy="369.4" r="4.6"/><circle cx="339.3" cy="200.4" r="4.6"/><circle cx="250.1" cy="228" r="4.6"/><circle cx="379.2" cy="199.5" r="4.6"/><circle cx="322.6" cy="202.7" r="4.6"/><circle cx="572.5" cy="371.1" r="4.6"/><circle cx="502.1" cy="244.3" r="4.6"/><circle cx="429.4" cy="208.6" r="4.6"/><circle cx="348.4" cy="199.3" r="4.6"/><circle cx="201.6" cy="266.2" r="4.6"/><circle cx="515.5" cy="255.9" r="4.6"/><circle cx="235.5" cy="236.3" r="4.6"/><circle cx="357.9" cy="198.6" r="4.6"/><circle cx="390.2" cy="200.1" r="4.6"/><circle cx="415" cy="204.5" r="4.6"/><circle cx="528.3" cy="269.9" r="4.6"/><circle cx="293.8" cy="209.4" r="4.6"/><circle cx="281.5" cy="213.5" r="4.6"/><circle cx="187.8" cy="282.4" r="4.6"/><circle cx="331.5" cy="200.7" r="4.6"/><circle cx="305.1" cy="206" r="4.6"/><circle cx="268.4" cy="218.7" r="4.6"/><circle cx="367.8" cy="198.3" r="4.6"/><circle cx="315.1" cy="203.5" r="4.6"/><circle cx="455.5" cy="217.4" r="4.6"/><circle cx="470" cy="223.9" r="4.6"/><circle cx="540.5" cy="285.6" r="4.6"/><circle cx="221" cy="246" r="4.6"/><circle cx="339.9" cy="199.4" r="4.6"/><circle cx="324" cy="201.6" r="4.6"/><circle cx="440.9" cy="211.7" r="4.6"/><circle cx="484.1" cy="231.5" r="4.6"/><circle cx="254.5" cy="224.9" r="4.6"/><circle cx="401.3" cy="201.3" r="4.6"/><circle cx="163.1" cy="327.6" r="4.6"/><circle cx="174.9" cy="301.1" r="4.6"/><circle cx="378" cy="198.4" r="4.6"/><circle cx="562.9" cy="329.9" r="4.6"/><circle cx="497.8" cy="240.2" r="4.6"/><circle cx="348.6" cy="198.4" r="4.6"/><circle cx="552.1" cy="303.9" r="4.6"/><circle cx="426.5" cy="206.9" r="4.6"/><circle cx="240.3" cy="232.5" r="4.6"/><circle cx="206.7" cy="258" r="4.6"/><circle cx="357.7" cy="197.8" r="4.6"/><circle cx="511.1" cy="250.2" r="4.6"/><circle cx="296.8" cy="207.7" r="4.6"/><circle cx="285.1" cy="211.6" r="4.6"/><circle cx="332.5" cy="199.8" r="4.6"/><circle cx="388.5" cy="199" r="4.6"/><circle cx="412.5" cy="203" r="4.6"/><circle cx="307.6" cy="204.6" r="4.6"/><circle cx="272.3" cy="216.4" r="4.6"/><circle cx="317.1" cy="202.3" r="4.6"/><circle cx="523.7" cy="262.2" r="4.6"/><circle cx="367.1" cy="197.5" r="4.6"/><circle cx="325.5" cy="200.7" r="4.6"/><circle cx="340.5" cy="198.6" r="4.6"/><circle cx="466.1" cy="221.6" r="4.6"/><circle cx="226" cy="241.5" r="4.6"/><circle cx="451.9" cy="215.3" r="4.6"/><circle cx="258.9" cy="222.3" r="4.6"/><circle cx="193.1" cy="272.8" r="4.6"/><circle cx="480" cy="228.6" r="4.6"/><circle cx="437.6" cy="209.9" r="4.6"/><circle cx="148.3" cy="377.9" r="4.6"/><circle cx="399.2" cy="200.1" r="4.6"/><circle cx="535.7" cy="276.6" r="4.6"/><circle cx="348.8" cy="197.7" r="4.6"/><circle cx="493.5" cy="236.7" r="4.6"/><circle cx="376.8" cy="197.6" r="4.6"/><circle cx="576.2" cy="379.3" r="4.6"/><circle cx="245" cy="229.3" r="4.6"/><circle cx="423.5" cy="205.3" r="4.6"/><circle cx="333.5" cy="199" r="4.6"/><circle cx="357.4" cy="197.1" r="4.6"/><circle cx="299.8" cy="206.2" r="4.6"/><circle cx="506.6" cy="245.9" r="4.6"/><circle cx="288.5" cy="209.8" r="4.6"/><circle cx="211.9" cy="252" r="4.6"/><circle cx="180.2" cy="289.6" r="4.6"/><circle cx="310" cy="203.4" r="4.6"/><circle cx="547.1" cy="292.7" r="4.6"/><circle cx="276.3" cy="214.3" r="4.6"/><circle cx="319" cy="201.4" r="4.6"/><circle cx="386.9" cy="198.2" r="4.6"/><circle cx="326.9" cy="199.9" r="4.6"/><circle cx="409.9" cy="201.8" r="4.6"/><circle cx="341.1" cy="198" r="4.6"/><circle cx="231" cy="237.5" r="4.6"/><circle cx="263.3" cy="219.9" r="4.6"/><circle cx="366.4" cy="196.9" r="4.6"/><circle cx="462.2" cy="219.4" r="4.6"/><circle cx="519" cy="256.2" r="4.6"/><circle cx="448.2" cy="213.4" r="4.6"/><circle cx="475.9" cy="226.2" r="4.6"/><circle cx="557.8" cy="311.4" r="4.6"/><circle cx="168.3" cy="308.8" r="4.6"/><circle cx="434.3" cy="208.2" r="4.6"/><circle cx="349" cy="197.2" r="4.6"/><circle cx="157.6" cy="335.7" r="4.6"/><circle cx="567.5" cy="337.6" r="4.6"/><circle cx="397.1" cy="199.2" r="4.6"/><circle cx="489.2" cy="233.7" r="4.6"/><circle cx="198.4" cy="264.6" r="4.6"/><circle cx="249.7" cy="226.5" r="4.6"/><circle cx="375.7" cy="197" r="4.6"/><circle cx="334.5" cy="198.5" r="4.6"/><circle cx="530.9" cy="268.8" r="4.6"/><circle cx="420.6" cy="204" r="4.6"/><circle cx="302.8" cy="204.9" r="4.6"/><circle cx="292" cy="208.1" r="4.6"/><circle cx="312.4" cy="202.4" r="4.6"/><circle cx="217.2" cy="247.2" r="4.6"/><circle cx="502" cy="242.2" r="4.6"/><circle cx="357.2" cy="196.7" r="4.6"/><circle cx="320.9" cy="200.6" r="4.6"/><circle cx="328.3" cy="199.3" r="4.6"/><circle cx="280.2" cy="212.3" r="4.6"/><circle cx="341.7" cy="197.6" r="4.6"/><circle cx="385.3" cy="197.7" r="4.6"/><circle cx="236" cy="234.2" r="4.6"/><circle cx="267.6" cy="217.6" r="4.6"/><circle cx="407.4" cy="200.9" r="4.6"/><circle cx="542.1" cy="283.6" r="4.6"/><circle cx="185.7" cy="279.9" r="4.6"/><circle cx="365.8" cy="196.6" r="4.6"/><circle cx="514.3" cy="251.8" r="4.6"/><circle cx="458.2" cy="217.4" r="4.6"/><circle cx="471.7" cy="223.9" r="4.6"/><circle cx="444.6" cy="211.6" r="4.6"/><circle cx="349.3" cy="197" r="4.6"/><circle cx="254.5" cy="223.9" r="4.6"/><circle cx="484.8" cy="231.1" r="4.6"/><circle cx="335.5" cy="198.2" r="4.6"/><circle cx="430.9" cy="206.8" r="4.6"/><circle cx="203.8" cy="258.3" r="4.6"/><circle cx="145.2" cy="386.6" r="4.6"/><circle cx="395" cy="198.7" r="4.6"/><circle cx="374.6" cy="196.9" r="4.6"/><circle cx="552.6" cy="299.9" r="4.6"/><circle cx="305.7" cy="203.8" r="4.6"/><circle cx="329.7" cy="199" r="4.6"/><circle cx="314.8" cy="201.6" r="4.6"/><circle cx="322.8" cy="200.1" r="4.6"/><circle cx="526" cy="262.6" r="4.6"/><circle cx="295.4" cy="206.7" r="4.6"/><circle cx="222.4" cy="243.1" r="4.6"/><circle cx="497.5" cy="239" r="4.6"/><circle cx="578.5" cy="387.7" r="4.6"/><circle cx="417.6" cy="203" r="4.6"/><circle cx="357.1" cy="196.7" r="4.6"/><circle cx="284.1" cy="210.6" r="4.6"/><circle cx="173.8" cy="297.2" r="4.6"/><circle cx="342.4" cy="197.5" r="4.6"/><circle cx="241.1" cy="231.2" r="4.6"/><circle cx="272" cy="215.5" r="4.6"/><circle cx="383.7" cy="197.5" r="4.6"/><circle cx="509.6" cy="247.9" r="4.6"/><circle cx="404.9" cy="200.3" r="4.6"/><circle cx="365.2" cy="196.7" r="4.6"/><circle cx="537.1" cy="275.5" r="4.6"/><circle cx="454.2" cy="215.5" r="4.6"/><circle cx="467.5" cy="221.8" r="4.6"/><circle cx="562.3" cy="318.7" r="4.6"/><circle cx="440.9" cy="210.1" r="4.6"/><circle cx="349.5" cy="197.1" r="4.6"/><circle cx="259.2" cy="221.4" r="4.6"/><circle cx="191.1" cy="271.5" r="4.6"/><circle cx="480.4" cy="228.8" r="4.6"/><circle cx="163" cy="316.7" r="4.6"/><circle cx="209.2" cy="253.5" r="4.6"/><circle cx="427.6" cy="205.7" r="4.6"/><circle cx="324.7" cy="199.8" r="4.6"/><circle cx="317.2" cy="201.1" r="4.6"/><circle cx="308.6" cy="203" r="4.6"/><circle cx="571" cy="345.3" r="4.6"/><circle cx="153.4" cy="344" r="4.6"/><circle cx="334.1" cy="198.5" r="4.6"/><circle cx="227.7" cy="239.6" r="4.6"/><circle cx="393" cy="198.6" r="4.6"/><circle cx="521.1" cy="257.9" r="4.6"/><circle cx="298.8" cy="205.6" r="4.6"/><circle cx="492.9" cy="236.3" r="4.6"/><circle cx="373.6" cy="197.1" r="4.6"/><circle cx="288" cy="209.1" r="4.6"/><circle cx="356.9" cy="197" r="4.6"/><circle cx="547.5" cy="290.7" r="4.6"/><circle cx="414.6" cy="202.4" r="4.6"/><circle cx="246.1" cy="228.5" r="4.6"/><circle cx="276.3" cy="213.5" r="4.6"/><circle cx="504.8" cy="244.6" r="4.6"/><circle cx="340.7" cy="198" r="4.6"/><circle cx="179.4" cy="287.3" r="4.6"/><circle cx="382.2" cy="197.8" r="4.6"/><circle cx="364.6" cy="197.2" r="4.6"/><circle cx="402.4" cy="200.2" r="4.6"/><circle cx="463.2" cy="219.7" r="4.6"/><circle cx="532.1" cy="269.1" r="4.6"/><circle cx="450.2" cy="213.8" r="4.6"/><circle cx="263.9" cy="219.1" r="4.6"/><circle cx="475.9" cy="226.4" r="4.6"/><circle cx="437.1" cy="208.8" r="4.6"/><circle cx="196.7" cy="265.1" r="4.6"/><circle cx="214.7" cy="249.2" r="4.6"/><circle cx="319.5" cy="201" r="4.6"/><circle cx="311.4" cy="202.6" r="4.6"/><circle cx="329.4" cy="199.5" r="4.6"/><circle cx="233" cy="236.5" r="4.6"/><circle cx="347.6" cy="197.9" r="4.6"/><circle cx="516.3" cy="253.8" r="4.6"/><circle cx="488.2" cy="233.8" r="4.6"/><circle cx="302.1" cy="204.8" r="4.6"/><circle cx="424.2" cy="204.9" r="4.6"/><circle cx="556.9" cy="306.9" r="4.6"/><circle cx="391" cy="199" r="4.6"/><circle cx="372.5" cy="197.7" r="4.6"/><circle cx="291.8" cy="207.9" r="4.6"/><circle cx="251.1" cy="225.8" r="4.6"/><circle cx="143.5" cy="395.4" r="4.6"/><circle cx="542.4" cy="282.5" r="4.6"/><circle cx="280.6" cy="211.9" r="4.6"/><circle cx="411.7" cy="202.2" r="4.6"/><circle cx="500.1" cy="241.7" r="4.6"/><circle cx="168.6" cy="304.9" r="4.6"/><circle cx="354.7" cy="197.9" r="4.6"/><circle cx="565" cy="251.1" r="4.6"/><circle cx="579.6" cy="396.2" r="4.6"/><circle cx="527.1" cy="264.1" r="4.6"/><circle cx="380.7" cy="198.5" r="4.6"/><circle cx="268.6" cy="217.1" r="4.6"/><circle cx="458.9" cy="217.9" r="4.6"/><circle cx="446.2" cy="212.4" r="4.6"/><circle cx="399.9" cy="200.5" r="4.6"/><circle cx="471.4" cy="224.3" r="4.6"/><circle cx="220.2" cy="245.5" r="4.6"/><circle cx="185" cy="278.7" r="4.6"/><circle cx="511.4" cy="250.3" r="4.6"/><circle cx="202.3" cy="260.1" r="4.6"/><circle cx="314.2" cy="202.5" r="4.6"/><circle cx="433.4" cy="207.9" r="4.6"/><circle cx="238.3" cy="233.5" r="4.6"/><circle cx="324.5" cy="200.8" r="4.6"/><circle cx="362.1" cy="198.1" r="4.6"/><circle cx="483.6" cy="231.4" r="4.6"/><circle cx="565.5" cy="325.9" r="4.6"/><circle cx="305.5" cy="204.4" r="4.6"/><circle cx="336.9" cy="199.5" r="4.6"/><circle cx="295.6" cy="207.1" r="4.6"/><circle cx="420.8" cy="204.6" r="4.6"/><circle cx="256.2" cy="223.3" r="4.6"/><circle cx="158.9" cy="324.8" r="4.6"/><circle cx="551.5" cy="297.3" r="4.6"/><circle cx="389" cy="199.6" r="4.6"/><circle cx="495.3" cy="239.1" r="4.6"/><circle cx="284.8" cy="210.6" r="4.6"/><circle cx="537.3" cy="275.7" r="4.6"/><circle cx="573.2" cy="353.1" r="4.6"/><circle cx="150.4" cy="352.5" r="4.6"/><circle cx="369.8" cy="198.6" r="4.6"/><circle cx="408.7" cy="202.4" r="4.6"/><circle cx="522.1" cy="259.9" r="4.6"/><circle cx="343.6" cy="199.3" r="4.6"/><circle cx="273.3" cy="215.3" r="4.6"/><circle cx="506.5" cy="247.2" r="4.6"/><circle cx="225.7" cy="242.2" r="4.6"/><circle cx="454.6" cy="216.3" r="4.6"/><circle cx="174.3" cy="295" r="4.6"/><circle cx="466.9" cy="222.3" r="4.6"/><circle cx="442.1" cy="211.3" r="4.6"/><circle cx="207.9" cy="255.6" r="4.6"/><circle cx="243.6" cy="230.7" r="4.6"/><circle cx="397.4" cy="201.1" r="4.6"/><circle cx="319.5" cy="202.4" r="4.6"/><circle cx="478.9" cy="229.1" r="4.6"/><circle cx="308.7" cy="204.4" r="4.6"/><circle cx="190.7" cy="272.2" r="4.6"/><circle cx="429.6" cy="207.4" r="4.6"/><circle cx="377.6" cy="199.4" r="4.6"/><circle cx="332.2" cy="200.8" r="4.6"/><circle cx="350.5" cy="199.3" r="4.6"/><circle cx="299.4" cy="206.7" r="4.6"/><circle cx="261.2" cy="221.1" r="4.6"/><circle cx="490.5" cy="236.5" r="4.6"/><circle cx="417.4" cy="204.8" r="4.6"/><circle cx="532.2" cy="270.5" r="4.6"/><circle cx="559.9" cy="313.6" r="4.6"/><circle cx="546.2" cy="288.8" r="4.6"/><circle cx="289.1" cy="209.8" r="4.6"/><circle cx="517.1" cy="256.2" r="4.6"/><circle cx="357.8" cy="199.5" r="4.6"/><circle cx="405.7" cy="203" r="4.6"/><circle cx="385.7" cy="200.5" r="4.6"/><circle cx="501.6" cy="244.4" r="4.6"/><circle cx="278" cy="213.9" r="4.6"/><circle cx="231.2" cy="239.1" r="4.6"/><circle cx="164.6" cy="312.9" r="4.6"/><circle cx="213.6" cy="251.8" r="4.6"/><circle cx="450.2" cy="215.1" r="4.6"/><circle cx="462.4" cy="220.5" r="4.6"/><circle cx="249" cy="228" r="4.6"/><circle cx="437.9" cy="210.7" r="4.6"/><circle cx="474.2" cy="226.9" r="4.6"/><circle cx="143.1" cy="404.2" r="4.6"/><circle cx="314.3" cy="204.3" r="4.6"/><circle cx="196.4" cy="267" r="4.6"/><circle cx="327.3" cy="202.3" r="4.6"/><circle cx="365.3" cy="200" r="4.6"/><circle cx="425.8" cy="207.4" r="4.6"/><circle cx="303.2" cy="206.7" r="4.6"/><circle cx="527.2" cy="266.1" r="4.6"/><circle cx="180" cy="286.2" r="4.6"/><circle cx="485.7" cy="234" r="4.6"/><circle cx="339.7" cy="201.1" r="4.6"/><circle cx="266.3" cy="219.2" r="4.6"/><circle cx="512.2" cy="252.9" r="4.6"/><circle cx="393.8" cy="202" r="4.6"/><circle cx="579.3" cy="404.8" r="4.6"/><circle cx="293.3" cy="209.3" r="4.6"/><circle cx="540.9" cy="281.7" r="4.6"/><circle cx="413.9" cy="205.2" r="4.6"/><circle cx="496.7" cy="241.7" r="4.6"/><circle cx="567.6" cy="333.2" r="4.6"/><circle cx="554.3" cy="303.5" r="4.6"/><circle cx="373" cy="200.7" r="4.6"/><circle cx="346.5" cy="201.1" r="4.6"/><circle cx="236.8" cy="236.1" r="4.6"/><circle cx="282.6" cy="212.9" r="4.6"/><circle cx="156" cy="333.1" r="4.6"/><circle cx="219.3" cy="248.3" r="4.6"/><circle cx="254.3" cy="225.6" r="4.6"/><circle cx="457.8" cy="219.1" r="4.6"/><circle cx="445.8" cy="214.2" r="4.6"/><circle cx="469.5" cy="225" r="4.6"/><circle cx="522.1" cy="262.1" r="4.6"/><circle cx="433.8" cy="210.4" r="4.6"/><circle cx="401.9" cy="203.8" r="4.6"/><circle cx="507.2" cy="249.9" r="4.6"/><circle cx="202.2" cy="262.4" r="4.6"/><circle cx="480.9" cy="231.7" r="4.6"/><circle cx="148.8" cy="361" r="4.6"/><circle cx="574.2" cy="361.1" r="4.6"/><circle cx="322.2" cy="204.1" r="4.6"/><circle cx="309" cy="206.5" r="4.6"/><circle cx="421.9" cy="207.7" r="4.6"/><circle cx="271.3" cy="217.6" r="4.6"/><circle cx="353.5" cy="201.3" r="4.6"/><circle cx="335" cy="202.6" r="4.6"/><circle cx="535.7" cy="276.2" r="4.6"/><circle cx="170.4" cy="302.8" r="4.6"/><circle cx="381" cy="201.8" r="4.6"/><circle cx="185.8" cy="279.4" r="4.6"/><circle cx="297.6" cy="209.3" r="4.6"/><circle cx="491.9" cy="239.1" r="4.6"/><circle cx="242.4" cy="233.2" r="4.6"/><circle cx="548.7" cy="294.6" r="4.6"/><circle cx="287.3" cy="212.4" r="4.6"/><circle cx="517.2" cy="258.6" r="4.6"/><circle cx="225" cy="245" r="4.6"/><circle cx="360.8" cy="201.7" r="4.6"/><circle cx="409.9" cy="205.9" r="4.6"/><circle cx="502.3" cy="247.1" r="4.6"/><circle cx="259.7" cy="223.5" r="4.6"/><circle cx="453.2" cy="217.9" r="4.6"/><circle cx="561.8" cy="320.6" r="4.6"/><circle cx="464.8" cy="223.3" r="4.6"/><circle cx="441.4" cy="213.7" r="4.6"/><circle cx="389.2" cy="203.2" r="4.6"/><circle cx="208" cy="258.3" r="4.6"/><circle cx="530.4" cy="271.5" r="4.6"/><circle cx="476.1" cy="229.6" r="4.6"/><circle cx="429.6" cy="210.5" r="4.6"/><circle cx="276.4" cy="216.5" r="4.6"/><circle cx="487" cy="236.7" r="4.6"/><circle cx="368.5" cy="202.4" r="4.6"/><circle cx="330.1" cy="204.3" r="4.6"/><circle cx="317" cy="206.2" r="4.6"/><circle cx="191.7" cy="274.1" r="4.6"/><circle cx="161.8" cy="320.9" r="4.6"/><circle cx="303.6" cy="209" r="4.6"/><circle cx="342.6" cy="203.2" r="4.6"/><circle cx="512.2" cy="255.4" r="4.6"/><circle cx="417.7" cy="208.4" r="4.6"/><circle cx="176.2" cy="293.8" r="4.6"/><circle cx="497.4" cy="244.3" r="4.6"/><circle cx="248" cy="230.6" r="4.6"/><circle cx="543.1" cy="287.1" r="4.6"/><circle cx="292" cy="212.2" r="4.6"/><circle cx="397.3" cy="205" r="4.6"/><circle cx="230.8" cy="241.8" r="4.6"/><circle cx="525.3" cy="267.2" r="4.6"/><circle cx="265" cy="221.8" r="4.6"/><circle cx="448.5" cy="217.2" r="4.6"/><circle cx="144" cy="413.1" r="4.6"/><circle cx="460" cy="221.9" r="4.6"/><circle cx="213.9" cy="254.7" r="4.6"/><circle cx="376.4" cy="203.4" r="4.6"/><circle cx="436.9" cy="213.6" r="4.6"/><circle cx="349.4" cy="203.4" r="4.6"/><circle cx="471.3" cy="227.7" r="4.6"/><circle cx="556" cy="310" r="4.6"/><circle cx="281.4" cy="215.9" r="4.6"/><circle cx="482.1" cy="234.4" r="4.6"/><circle cx="507.3" cy="252.5" r="4.6"/><circle cx="577.7" cy="413.4" r="4.6"/><circle cx="568.5" cy="340.8" r="4.6"/><circle cx="197.6" cy="269.3" r="4.6"/><circle cx="492.5" cy="241.7" r="4.6"/><circle cx="425.1" cy="211.1" r="4.6"/><circle cx="356.5" cy="203.8" r="4.6"/><circle cx="520.1" cy="263.4" r="4.6"/><circle cx="324.9" cy="206.4" r="4.6"/><circle cx="537.6" cy="281.3" r="4.6"/><circle cx="405.3" cy="207.2" r="4.6"/><circle cx="337.8" cy="204.9" r="4.6"/><circle cx="154.4" cy="341.4" r="4.6"/><circle cx="311.6" cy="208.7" r="4.6"/><circle cx="384.5" cy="204.8" r="4.6"/><circle cx="253.6" cy="228.3" r="4.6"/><circle cx="236.5" cy="238.8" r="4.6"/><circle cx="298.3" cy="211.9" r="4.6"/><circle cx="270.4" cy="220.5" r="4.6"/><circle cx="182.1" cy="286.8" r="4.6"/><circle cx="455.2" cy="220.9" r="4.6"/><circle cx="443.8" cy="216.8" r="4.6"/><circle cx="219.7" cy="251.2" r="4.6"/><circle cx="167.7" cy="310.7" r="4.6"/><circle cx="466.4" cy="226.1" r="4.6"/><circle cx="502.4" cy="249.6" r="4.6"/><circle cx="148.4" cy="369.6" r="4.6"/><circle cx="477.3" cy="232.3" r="4.6"/><circle cx="363.9" cy="204.5" r="4.6"/><circle cx="574" cy="369.2" r="4.6"/><circle cx="286.5" cy="215.5" r="4.6"/><circle cx="515" cy="260" r="4.6"/><circle cx="532" cy="276.2" r="4.6"/><circle cx="550.2" cy="300.6" r="4.6"/><circle cx="487.7" cy="239.2" r="4.6"/><circle cx="203.5" cy="265.1" r="4.6"/><circle cx="432.3" cy="214.1" r="4.6"/><circle cx="413" cy="209.6" r="4.6"/><circle cx="392.7" cy="206.6" r="4.6"/><circle cx="259.2" cy="226.4" r="4.6"/><circle cx="242.3" cy="236" r="4.6"/><circle cx="497.6" cy="246.8" r="4.6"/><circle cx="371.8" cy="205.4" r="4.6"/><circle cx="332.9" cy="206.9" r="4.6"/><circle cx="275.8" cy="219.7" r="4.6"/><circle cx="562.6" cy="327.8" r="4.6"/><circle cx="450.4" cy="220.3" r="4.6"/><circle cx="319.6" cy="208.7" r="4.6"/><circle cx="345.5" cy="205.9" r="4.6"/><circle cx="461.6" cy="224.8" r="4.6"/><circle cx="225.6" cy="247.8" r="4.6"/><circle cx="509.9" cy="256.8" r="4.6"/><circle cx="188" cy="281.3" r="4.6"/><circle cx="472.4" cy="230.4" r="4.6"/><circle cx="306.2" cy="211.5" r="4.6"/><circle cx="526.5" cy="271.7" r="4.6"/><circle cx="482.8" cy="236.9" r="4.6"/><circle cx="293" cy="215.1" r="4.6"/><circle cx="160.3" cy="329" r="4.6"/><circle cx="544.4" cy="292.9" r="4.6"/><circle cx="209.4" cy="261.3" r="4.6"/><circle cx="439" cy="217.2" r="4.6"/><circle cx="400.7" cy="208.7" r="4.6"/><circle cx="173.6" cy="301.5" r="4.6"/><circle cx="420.4" cy="212.4" r="4.6"/><circle cx="352.3" cy="206.3" r="4.6"/><circle cx="492.8" cy="244.2" r="4.6"/><circle cx="379.9" cy="206.8" r="4.6"/><circle cx="504.9" cy="253.7" r="4.6"/><circle cx="264.9" cy="224.9" r="4.6"/><circle cx="248.1" cy="233.5" r="4.6"/><circle cx="456.7" cy="223.8" r="4.6"/><circle cx="521.1" cy="267.6" r="4.6"/><circle cx="281.2" cy="219.1" r="4.6"/><circle cx="467.5" cy="228.8" r="4.6"/><circle cx="231.5" cy="244.6" r="4.6"/><circle cx="194" cy="276.3" r="4.6"/><circle cx="478" cy="234.9" r="4.6"/><circle cx="359.5" cy="206.9" r="4.6"/><circle cx="340.7" cy="207.8" r="4.6"/><circle cx="327.6" cy="209.2" r="4.6"/><circle cx="556.7" cy="316.8" r="4.6"/><circle cx="538.7" cy="286.7" r="4.6"/><circle cx="146.3" cy="421.9" r="4.6"/><circle cx="488" cy="241.7" r="4.6"/><circle cx="215.4" cy="257.6" r="4.6"/><circle cx="314.2" cy="211.5" r="4.6"/><circle cx="445.5" cy="220.5" r="4.6"/><circle cx="388" cy="208.5" r="4.6"/><circle cx="499.9" cy="250.7" r="4.6"/><circle cx="408.4" cy="211.2" r="4.6"/><circle cx="427.5" cy="215.4" r="4.6"/><circle cx="515.6" cy="263.8" r="4.6"/><circle cx="568.2" cy="348.5" r="4.6"/><circle cx="270.6" cy="223.9" r="4.6"/><circle cx="300.9" cy="214.7" r="4.6"/><circle cx="179.5" cy="294.3" r="4.6"/><circle cx="574.7" cy="422" r="4.6"/><circle cx="367.2" cy="207.8" r="4.6"/><circle cx="254" cy="231.3" r="4.6"/><circle cx="462.7" cy="227.5" r="4.6"/><circle cx="154.1" cy="349.7" r="4.6"/><circle cx="473.2" cy="233" r="4.6"/><circle cx="237.4" cy="241.6" r="4.6"/><circle cx="166.1" cy="318.6" r="4.6"/><circle cx="532.9" cy="281.3" r="4.6"/><circle cx="287.9" cy="218.6" r="4.6"/><circle cx="199.9" cy="271.9" r="4.6"/><circle cx="483.3" cy="239.4" r="4.6"/><circle cx="495" cy="247.8" r="4.6"/><circle cx="510.2" cy="260.2" r="4.6"/><circle cx="221.3" cy="254.1" r="4.6"/><circle cx="451.6" cy="223.9" r="4.6"/><circle cx="396" cy="210.7" r="4.6"/><circle cx="550.8" cy="306.9" r="4.6"/><circle cx="149.3" cy="378.1" r="4.6"/><circle cx="335.6" cy="210" r="4.6"/><circle cx="375.2" cy="209.1" r="4.6"/><circle cx="415.7" cy="214" r="4.6"/><circle cx="434.1" cy="218.5" r="4.6"/><circle cx="348.3" cy="209.2" r="4.6"/><circle cx="276.2" cy="223.1" r="4.6"/><circle cx="322.3" cy="211.9" r="4.6"/><circle cx="468.4" cy="231.4" r="4.6"/><circle cx="572.4" cy="377.5" r="4.6"/><circle cx="259.8" cy="229.6" r="4.6"/><circle cx="527.2" cy="276.4" r="4.6"/><circle cx="478.6" cy="237.4" r="4.6"/><circle cx="185.4" cy="288.6" r="4.6"/><circle cx="490.1" cy="245.1" r="4.6"/><circle cx="504.9" cy="256.8" r="4.6"/><circle cx="243.4" cy="238.9" r="4.6"/><circle cx="205.9" cy="267.9" r="4.6"/><circle cx="308.9" cy="214.6" r="4.6"/><circle cx="355.2" cy="209.8" r="4.6"/><circle cx="562.3" cy="335.1" r="4.6"/><circle cx="457.5" cy="227.4" r="4.6"/><circle cx="227.3" cy="250.7" r="4.6"/><circle cx="383.4" cy="210.8" r="4.6"/><circle cx="295.8" cy="218.2" r="4.6"/><circle cx="521.5" cy="272" r="4.6"/><circle cx="544.9" cy="298.9" r="4.6"/><circle cx="403.7" cy="213.2" r="4.6"/><circle cx="172" cy="309.3" r="4.6"/><circle cx="473.9" cy="235.5" r="4.6"/><circle cx="485.2" cy="242.6" r="4.6"/><circle cx="440.3" cy="221.8" r="4.6"/><circle cx="422.6" cy="217" r="4.6"/><circle cx="499.6" cy="253.4" r="4.6"/><circle cx="265.7" cy="228.3" r="4.6"/><circle cx="159.9" cy="337.1" r="4.6"/><circle cx="362.6" cy="210.6" r="4.6"/><circle cx="283.1" cy="222.4" r="4.6"/><circle cx="343.5" cy="211.3" r="4.6"/><circle cx="191.4" cy="283.4" r="4.6"/><circle cx="249.4" cy="236.5" r="4.6"/><circle cx="211.9" cy="264.1" r="4.6"/><circle cx="330.3" cy="212.6" r="4.6"/><circle cx="515.8" cy="267.9" r="4.6"/><circle cx="463.2" cy="231" r="4.6"/><circle cx="480.4" cy="240.4" r="4.6"/><circle cx="538.9" cy="292.5" r="4.6"/><circle cx="233.3" cy="247.4" r="4.6"/><circle cx="494.3" cy="250.3" r="4.6"/><circle cx="316.9" cy="215" r="4.6"/><circle cx="391.4" cy="213" r="4.6"/><circle cx="271.6" cy="227.3" r="4.6"/><circle cx="446.3" cy="225.1" r="4.6"/><circle cx="370.5" cy="211.7" r="4.6"/><circle cx="556.3" cy="323.7" r="4.6"/><circle cx="410.9" cy="216" r="4.6"/><circle cx="429" cy="220.1" r="4.6"/><circle cx="510.1" cy="264" r="4.6"/><circle cx="177.9" cy="301.8" r="4.6"/><circle cx="303.8" cy="218.1" r="4.6"/><circle cx="255.3" cy="234.5" r="4.6"/><circle cx="197.3" cy="278.8" r="4.6"/><circle cx="475.5" cy="238.3" r="4.6"/><circle cx="217.9" cy="260.4" r="4.6"/><circle cx="149.9" cy="430.4" r="4.6"/><circle cx="489" cy="247.3" r="4.6"/><circle cx="533" cy="286.7" r="4.6"/><circle cx="468.7" cy="234.8" r="4.6"/><circle cx="239.3" cy="244.5" r="4.6"/><circle cx="165.7" cy="326.5" r="4.6"/><circle cx="291" cy="222" r="4.6"/><circle cx="154.9" cy="358" r="4.6"/><circle cx="351.2" cy="212.8" r="4.6"/><circle cx="338.4" cy="213.7" r="4.6"/><circle cx="566.7" cy="356.4" r="4.6"/><circle cx="504.5" cy="260.2" r="4.6"/><circle cx="378.7" cy="213.3" r="4.6"/><circle cx="452" cy="228.5" r="4.6"/><circle cx="570.3" cy="430.6" r="4.6"/><circle cx="399" cy="215.5" r="4.6"/><circle cx="483.8" cy="244.6" r="4.6"/><circle cx="527.1" cy="281.5" r="4.6"/><circle cx="324.9" cy="215.6" r="4.6"/><circle cx="261.4" cy="232.9" r="4.6"/><circle cx="278.6" cy="226.5" r="4.6"/><circle cx="203.3" cy="274.6" r="4.6"/><circle cx="435" cy="223.3" r="4.6"/><circle cx="417.5" cy="218.9" r="4.6"/><circle cx="223.9" cy="256.8" r="4.6"/><circle cx="550.3" cy="313.5" r="4.6"/><circle cx="183.8" cy="295.8" r="4.6"/><circle cx="358.2" cy="213.5" r="4.6"/><circle cx="498.9" cy="256.5" r="4.6"/><circle cx="151.5" cy="386.6" r="4.6"/><circle cx="245.3" cy="241.9" r="4.6"/><circle cx="311.7" cy="218.4" r="4.6"/><circle cx="478.6" cy="242.1" r="4.6"/><circle cx="521.2" cy="276.7" r="4.6"/><circle cx="457.5" cy="232" r="4.6"/><circle cx="267.4" cy="231.7" r="4.6"/><circle cx="386.7" cy="215.5" r="4.6"/><circle cx="569.5" cy="385.7" r="4.6"/><circle cx="209.3" cy="270.7" r="4.6"/><circle cx="493.3" cy="253.1" r="4.6"/><circle cx="365.8" cy="214.5" r="4.6"/><circle cx="229.9" cy="253.4" r="4.6"/><circle cx="298.9" cy="222" r="4.6"/><circle cx="171.5" cy="317" r="4.6"/><circle cx="346.4" cy="215" r="4.6"/><circle cx="440.8" cy="226.5" r="4.6"/><circle cx="473.4" cy="240" r="4.6"/><circle cx="406" cy="218.3" r="4.6"/><circle cx="544.3" cy="305.2" r="4.6"/><circle cx="189.7" cy="290.5" r="4.6"/><circle cx="515.3" cy="272.3" r="4.6"/><circle cx="466.4" cy="236.5" r="4.6"/><circle cx="423.7" cy="222" r="4.6"/><circle cx="251.4" cy="239.6" r="4.6"/><circle cx="560.7" cy="342.7" r="4.6"/><circle cx="333" cy="216.6" r="4.6"/><circle cx="160.6" cy="345.1" r="4.6"/><circle cx="286.5" cy="226.1" r="4.6"/><circle cx="487.7" cy="249.8" r="4.6"/><circle cx="509.4" cy="268" r="4.6"/><circle cx="215.2" cy="266.8" r="4.6"/><circle cx="319.7" cy="219.1" r="4.6"/><circle cx="538.3" cy="298.4" r="4.6"/><circle cx="235.9" cy="250.2" r="4.6"/><circle cx="374" cy="216" r="4.6"/><circle cx="274.4" cy="230.8" r="4.6"/><circle cx="195.6" cy="285.7" r="4.6"/><circle cx="446.3" cy="229.8" r="4.6"/><circle cx="257.5" cy="237.7" r="4.6"/><circle cx="394.2" cy="218.1" r="4.6"/><circle cx="482.2" cy="246.9" r="4.6"/><circle cx="177.3" cy="309.3" r="4.6"/><circle cx="429.6" cy="225.1" r="4.6"/><circle cx="412.4" cy="221.2" r="4.6"/><circle cx="503.6" cy="263.9" r="4.6"/><circle cx="306.9" cy="222.3" r="4.6"/><circle cx="532.2" cy="292.4" r="4.6"/><circle cx="455.2" cy="234" r="4.6"/><circle cx="354.2" cy="216.7" r="4.6"/><circle cx="221.2" cy="263" r="4.6"/><circle cx="476.7" cy="244.3" r="4.6"/><circle cx="554.8" cy="330.9" r="4.6"/><circle cx="341.1" cy="217.7" r="4.6"/><circle cx="241.9" cy="247.4" r="4.6"/><circle cx="263.5" cy="236.2" r="4.6"/><circle cx="201.5" cy="281.3" r="4.6"/><circle cx="497.7" cy="259.9" r="4.6"/><circle cx="166.4" cy="334.4" r="4.6"/><circle cx="294.6" cy="226.1" r="4.6"/><circle cx="382" cy="218.1" r="4.6"/><circle cx="464.1" cy="238.5" r="4.6"/><circle cx="526.2" cy="286.8" r="4.6"/><circle cx="471.2" cy="242" r="4.6"/><circle cx="154.9" cy="438.6" r="4.6"/><circle cx="327.7" cy="220" r="4.6"/><circle cx="361.3" cy="217.5" r="4.6"/><circle cx="183.2" cy="303" r="4.6"/><circle cx="156.9" cy="366.3" r="4.6"/><circle cx="435.1" cy="228.2" r="4.6"/><circle cx="400.9" cy="220.9" r="4.6"/><circle cx="227.1" cy="259.4" r="4.6"/><circle cx="248" cy="244.8" r="4.6"/><circle cx="491.9" cy="256.2" r="4.6"/><circle cx="418.3" cy="224.1" r="4.6"/><circle cx="282.5" cy="230.4" r="4.6"/><circle cx="207.4" cy="277.2" r="4.6"/><circle cx="563.8" cy="364.3" r="4.6"/><circle cx="520.2" cy="281.8" r="4.6"/><circle cx="564.6" cy="439" r="4.6"/><circle cx="314.9" cy="223" r="4.6"/><circle cx="548.8" cy="320.3" r="4.6"/><circle cx="270.7" cy="235.2" r="4.6"/><circle cx="444" cy="232" r="4.6"/><circle cx="486.1" cy="252.7" r="4.6"/><circle cx="349.2" cy="219" r="4.6"/><circle cx="369.2" cy="218.8" r="4.6"/><circle cx="254" cy="242.7" r="4.6"/><circle cx="189" cy="297.5" r="4.6"/><circle cx="514.1" cy="277" r="4.6"/><circle cx="233.1" cy="256.1" r="4.6"/><circle cx="389.3" cy="220.8" r="4.6"/><circle cx="154.9" cy="394.7" r="4.6"/><circle cx="213.3" cy="273.2" r="4.6"/><circle cx="172" cy="324.7" r="4.6"/><circle cx="480.3" cy="249.6" r="4.6"/><circle cx="302.6" cy="226.4" r="4.6"/><circle cx="423.8" cy="227.1" r="4.6"/><circle cx="406.9" cy="223.8" r="4.6"/><circle cx="452.8" cy="236.2" r="4.6"/><circle cx="335.8" cy="220.9" r="4.6"/><circle cx="508.1" cy="272.4" r="4.6"/><circle cx="260.1" cy="240.9" r="4.6"/><circle cx="542.7" cy="311.7" r="4.6"/><circle cx="474.6" cy="246.8" r="4.6"/><circle cx="239" cy="253" r="4.6"/><circle cx="194.8" cy="292.5" r="4.6"/><circle cx="565.2" cy="393.9" r="4.6"/><circle cx="290.7" cy="230.3" r="4.6"/><circle cx="162.5" cy="353.1" r="4.6"/><circle cx="219.1" cy="269.3" r="4.6"/><circle cx="461.6" cy="240.9" r="4.6"/><circle cx="502.1" cy="267.9" r="4.6"/><circle cx="432.7" cy="230.6" r="4.6"/><circle cx="323" cy="223.8" r="4.6"/><circle cx="468.8" cy="244.4" r="4.6"/><circle cx="557.9" cy="350.3" r="4.6"/><circle cx="377.3" cy="220.9" r="4.6"/><circle cx="536.6" cy="304.7" r="4.6"/><circle cx="278.9" cy="234.8" r="4.6"/><circle cx="177.7" cy="316.7" r="4.6"/><circle cx="395.6" cy="223.6" r="4.6"/><circle cx="245" cy="250.1" r="4.6"/><circle cx="357.1" cy="220.8" r="4.6"/><circle cx="412.5" cy="226.6" r="4.6"/><circle cx="496.1" cy="263.7" r="4.6"/><circle cx="200.5" cy="287.9" r="4.6"/><circle cx="225" cy="265.5" r="4.6"/><circle cx="267.2" cy="239.7" r="4.6"/><circle cx="441.5" cy="234.5" r="4.6"/><circle cx="343.8" cy="222.1" r="4.6"/><circle cx="310.7" cy="227" r="4.6"/><circle cx="530.5" cy="298.3" r="4.6"/><circle cx="490.1" cy="259.7" r="4.6"/><circle cx="250.9" cy="247.7" r="4.6"/><circle cx="206.2" cy="283.7" r="4.6"/><circle cx="364.5" cy="221.8" r="4.6"/><circle cx="421.4" cy="229.7" r="4.6"/><circle cx="183.4" cy="310.2" r="4.6"/><circle cx="230.8" cy="261.9" r="4.6"/><circle cx="168" cy="342.2" r="4.6"/><circle cx="484.1" cy="255.9" r="4.6"/><circle cx="524.4" cy="292.5" r="4.6"/><circle cx="298.9" cy="230.6" r="4.6"/><circle cx="450.3" cy="238.8" r="4.6"/><circle cx="384.1" cy="223.6" r="4.6"/><circle cx="331" cy="224.8" r="4.6"/><circle cx="552" cy="338.1" r="4.6"/><circle cx="256.9" cy="245.6" r="4.6"/><circle cx="401.2" cy="226.4" r="4.6"/><circle cx="478.1" cy="252.6" r="4.6"/><circle cx="212" cy="279.5" r="4.6"/><circle cx="518.3" cy="287.2" r="4.6"/><circle cx="287.2" cy="234.7" r="4.6"/><circle cx="236.6" cy="258.6" r="4.6"/><circle cx="189" cy="304.5" r="4.6"/><circle cx="160.3" cy="373.9" r="4.6"/><circle cx="430.2" cy="233.2" r="4.6"/><circle cx="472.2" cy="249.6" r="4.6"/><circle cx="161.1" cy="446.6" r="4.6"/><circle cx="458.9" cy="243.5" r="4.6"/><circle cx="352" cy="223.5" r="4.6"/><circle cx="318.9" cy="227.9" r="4.6"/><circle cx="512.2" cy="282.1" r="4.6"/><circle cx="275.6" cy="239.2" r="4.6"/><circle cx="466.2" cy="247.1" r="4.6"/><circle cx="410.1" cy="229.3" r="4.6"/><circle cx="372.4" cy="224" r="4.6"/><circle cx="217.6" cy="275.5" r="4.6"/><circle cx="242.4" cy="255.5" r="4.6"/><circle cx="264.1" cy="244.3" r="4.6"/><circle cx="173.5" cy="332.3" r="4.6"/><circle cx="546" cy="327.3" r="4.6"/><circle cx="506.1" cy="277.1" r="4.6"/><circle cx="389.9" cy="226.4" r="4.6"/><circle cx="559.6" cy="372.2" r="4.6"/><circle cx="194.6" cy="299.2" r="4.6"/><circle cx="557.6" cy="447.2" r="4.6"/><circle cx="438.9" cy="237.2" r="4.6"/><circle cx="307.2" cy="231.2" r="4.6"/><circle cx="339.1" cy="225.9" r="4.6"/><circle cx="248.2" cy="252.8" r="4.6"/><circle cx="223.3" cy="271.5" r="4.6"/><circle cx="500" cy="272.3" r="4.6"/><circle cx="159.8" cy="402.3" r="4.6"/><circle cx="418.8" cy="232.6" r="4.6"/><circle cx="200.2" cy="294.4" r="4.6"/><circle cx="295.6" cy="234.9" r="4.6"/><circle cx="253.9" cy="250.4" r="4.6"/><circle cx="493.9" cy="267.8" r="4.6"/><circle cx="540" cy="318.5" r="4.6"/><circle cx="398.7" cy="229.2" r="4.6"/><circle cx="228.9" cy="267.8" r="4.6"/><circle cx="360" cy="225.4" r="4.6"/><circle cx="327.2" cy="228.9" r="4.6"/><circle cx="447.5" cy="241.6" r="4.6"/><circle cx="179" cy="324" r="4.6"/><circle cx="378.6" cy="226.6" r="4.6"/><circle cx="165.7" cy="360.4" r="4.6"/><circle cx="487.8" cy="263.5" r="4.6"/><circle cx="205.7" cy="290" r="4.6"/><circle cx="284" cy="239.1" r="4.6"/><circle cx="559.6" cy="402" r="4.6"/><circle cx="234.5" cy="264.3" r="4.6"/><circle cx="533.9" cy="311.2" r="4.6"/><circle cx="481.7" cy="259.5" r="4.6"/><circle cx="427.5" cy="236.2" r="4.6"/><circle cx="272.6" cy="243.8" r="4.6"/><circle cx="347.3" cy="227.3" r="4.6"/><circle cx="315.6" cy="232.1" r="4.6"/><circle cx="553.8" cy="358" r="4.6"/><circle cx="475.6" cy="256" r="4.6"/><circle cx="211.2" cy="285.8" r="4.6"/><circle cx="456" cy="246.4" r="4.6"/><circle cx="261.1" cy="249" r="4.6"/><circle cx="184.4" cy="317.2" r="4.6"/><circle cx="407.4" cy="232.4" r="4.6"/><circle cx="469.4" cy="252.9" r="4.6"/><circle cx="240.1" cy="261" r="4.6"/><circle cx="527.8" cy="304.5" r="4.6"/><circle cx="387.3" cy="229.4" r="4.6"/><circle cx="463.3" cy="250.2" r="4.6"/><circle cx="367.2" cy="227.3" r="4.6"/><circle cx="216.7" cy="281.6" r="4.6"/><circle cx="304.1" cy="235.4" r="4.6"/><circle cx="245.7" cy="258" r="4.6"/><circle cx="521.7" cy="298.4" r="4.6"/><circle cx="335.7" cy="230" r="4.6"/><circle cx="171.1" cy="349.1" r="4.6"/><circle cx="436" cy="240.3" r="4.6"/><circle cx="189.8" cy="311.3" r="4.6"/><circle cx="251.2" cy="255.4" r="4.6"/><circle cx="222.1" cy="277.6" r="4.6"/><circle cx="515.6" cy="292.8" r="4.6"/><circle cx="292.6" cy="239.1" r="4.6"/><circle cx="415.9" cy="235.9" r="4.6"/><circle cx="355.8" cy="228.8" r="4.6"/><circle cx="195.2" cy="305.9" r="4.6"/><circle cx="324.2" cy="232.9" r="4.6"/><circle cx="547.9" cy="345.5" r="4.6"/><circle cx="509.4" cy="287.4" r="4.6"/><circle cx="395.8" cy="232.5" r="4.6"/><circle cx="227.4" cy="273.7" r="4.6"/><circle cx="281.2" cy="243.5" r="4.6"/><circle cx="375.7" cy="229.9" r="4.6"/><circle cx="444.5" cy="244.8" r="4.6"/><circle cx="503.3" cy="282.1" r="4.6"/><circle cx="269.7" cy="248.3" r="4.6"/><circle cx="200.5" cy="300.9" r="4.6"/><circle cx="165" cy="381" r="4.6"/><circle cx="232.8" cy="270" r="4.6"/><circle cx="176.5" cy="338.9" r="4.6"/><circle cx="168.7" cy="454.4" r="4.6"/><circle cx="312.8" cy="236.1" r="4.6"/><circle cx="258.3" cy="253.7" r="4.6"/><circle cx="344.4" cy="231.1" r="4.6"/><circle cx="497.2" cy="277" r="4.6"/><circle cx="424.4" cy="239.6" r="4.6"/><circle cx="238.1" cy="266.5" r="4.6"/><circle cx="205.7" cy="296.3" r="4.6"/><circle cx="491" cy="272.2" r="4.6"/><circle cx="363" cy="230.7" r="4.6"/><circle cx="452.9" cy="249.6" r="4.6"/><circle cx="404.2" cy="235.9" r="4.6"/><circle cx="484.9" cy="267.7" r="4.6"/><circle cx="542" cy="334.4" r="4.6"/><circle cx="301.3" cy="239.5" r="4.6"/><circle cx="243.4" cy="263.3" r="4.6"/><circle cx="210.9" cy="292" r="4.6"/><circle cx="333" cy="233.8" r="4.6"/><circle cx="384" cy="233" r="4.6"/><circle cx="478.7" cy="263.5" r="4.6"/><circle cx="549.2" cy="455.2" r="4.6"/><circle cx="554" cy="380.1" r="4.6"/><circle cx="248.6" cy="260.4" r="4.6"/><circle cx="472.5" cy="259.7" r="4.6"/><circle cx="460.1" cy="253.5" r="4.6"/><circle cx="466.3" cy="256.4" r="4.6"/><circle cx="181.8" cy="330.2" r="4.6"/><circle cx="216.1" cy="287.7" r="4.6"/><circle cx="289.9" cy="243.4" r="4.6"/><circle cx="432.7" cy="243.7" r="4.6"/><circle cx="165.9" cy="409.8" r="4.6"/><circle cx="321.6" cy="236.8" r="4.6"/><circle cx="536" cy="325.4" r="4.6"/><circle cx="221.2" cy="283.6" r="4.6"/><circle cx="278.5" cy="247.9" r="4.6"/><circle cx="350.5" cy="233.2" r="4.6"/><circle cx="170.3" cy="367" r="4.6"/><circle cx="187.1" cy="323.1" r="4.6"/><circle cx="412.5" cy="239.5" r="4.6"/><circle cx="267" cy="252.9" r="4.6"/><circle cx="226.3" cy="279.6" r="4.6"/><circle cx="255.6" cy="258.4" r="4.6"/><circle cx="371.1" cy="233.8" r="4.6"/><circle cx="392.1" cy="236.3" r="4.6"/><circle cx="530" cy="317.8" r="4.6"/><circle cx="310.2" cy="240" r="4.6"/><circle cx="231.3" cy="275.8" r="4.6"/><circle cx="192.4" cy="316.9" r="4.6"/><circle cx="441.1" cy="248.2" r="4.6"/><circle cx="338.8" cy="235.8" r="4.6"/><circle cx="236.3" cy="272.1" r="4.6"/><circle cx="552.6" cy="410" r="4.6"/><circle cx="523.9" cy="310.9" r="4.6"/><circle cx="241.3" cy="268.7" r="4.6"/><circle cx="298.7" cy="243.5" r="4.6"/><circle cx="197.6" cy="311.2" r="4.6"/><circle cx="548.3" cy="365.6" r="4.6"/><circle cx="246.2" cy="265.6" r="4.6"/><circle cx="517.9" cy="304.5" r="4.6"/><circle cx="420.8" cy="243.2" r="4.6"/><circle cx="202.8" cy="305.9" r="4.6"/><circle cx="327.2" cy="238.6" r="4.6"/><circle cx="175.7" cy="355.2" r="4.6"/><circle cx="358.5" cy="235.4" r="4.6"/><circle cx="287.3" cy="247.6" r="4.6"/><circle cx="511.8" cy="298.7" r="4.6"/><circle cx="400.3" cy="239.7" r="4.6"/><circle cx="449.4" cy="253" r="4.6"/><circle cx="379.3" cy="236.9" r="4.6"/><circle cx="208" cy="301.1" r="4.6"/><circle cx="505.7" cy="293" r="4.6"/><circle cx="275.9" cy="252.3" r="4.6"/><circle cx="499.6" cy="287.4" r="4.6"/><circle cx="213.1" cy="296.5" r="4.6"/><circle cx="264.4" cy="257.5" r="4.6"/><circle cx="315.7" cy="241.7" r="4.6"/><circle cx="456.6" cy="257.1" r="4.6"/><circle cx="493.5" cy="282.1" r="4.6"/><circle cx="253" cy="263.3" r="4.6"/><circle cx="218.1" cy="291.9" r="4.6"/><circle cx="365.9" cy="237" r="4.6"/><circle cx="462.8" cy="260.2" r="4.6"/><circle cx="487.4" cy="277" r="4.6"/><circle cx="429" cy="247.3" r="4.6"/><circle cx="481.2" cy="272.2" r="4.6"/><circle cx="223.1" cy="287.5" r="4.6"/><circle cx="468.9" cy="263.7" r="4.6"/><circle cx="345.6" cy="238" r="4.6"/><circle cx="475.1" cy="267.7" r="4.6"/><circle cx="542.5" cy="352.9" r="4.6"/><circle cx="181" cy="344.5" r="4.6"/><circle cx="228.1" cy="283.3" r="4.6"/><circle cx="304.2" cy="245.1" r="4.6"/><circle cx="233" cy="279.3" r="4.6"/><circle cx="408.5" cy="243.3" r="4.6"/><circle cx="237.9" cy="275.4" r="4.6"/><circle cx="170.9" cy="388" r="4.6"/><circle cx="387.4" cy="240.2" r="4.6"/><circle cx="177.6" cy="461.9" r="4.6"/><circle cx="242.8" cy="271.8" r="4.6"/><circle cx="247.6" cy="268.5" r="4.6"/><circle cx="333.5" cy="240.7" r="4.6"/><circle cx="292.8" cy="249" r="4.6"/><circle cx="437.3" cy="251.8" r="4.6"/><circle cx="186.3" cy="335.5" r="4.6"/><circle cx="281.3" cy="253.4" r="4.6"/><circle cx="536.7" cy="341.6" r="4.6"/><circle cx="321.7" cy="243.7" r="4.6"/><circle cx="539.6" cy="462.8" r="4.6"/><circle cx="269.9" cy="258.4" r="4.6"/><circle cx="373.9" cy="240.4" r="4.6"/><circle cx="353.7" cy="240.2" r="4.6"/><circle cx="191.6" cy="328" r="4.6"/><circle cx="416.6" cy="247" r="4.6"/><circle cx="258.4" cy="264" r="4.6"/><circle cx="547.2" cy="387.8" r="4.6"/><circle cx="395.6" cy="243.6" r="4.6"/><circle cx="445.5" cy="256.7" r="4.6"/><circle cx="196.8" cy="321.4" r="4.6"/><circle cx="310.1" cy="246.9" r="4.6"/><circle cx="530.8" cy="332.4" r="4.6"/><circle cx="173.2" cy="417.1" r="4.6"/><circle cx="202.1" cy="315.3" r="4.6"/><circle cx="176.1" cy="373.6" r="4.6"/><circle cx="207.3" cy="309.7" r="4.6"/><circle cx="340.8" cy="243" r="4.6"/><circle cx="212.5" cy="304.4" r="4.6"/><circle cx="298.5" cy="250.6" r="4.6"/><circle cx="361.7" cy="242" r="4.6"/><circle cx="452.6" cy="260.9" r="4.6"/><circle cx="524.9" cy="324.6" r="4.6"/><circle cx="217.6" cy="299.4" r="4.6"/><circle cx="253" cy="269.1" r="4.6"/><circle cx="424.8" cy="251.2" r="4.6"/><circle cx="222.8" cy="294.4" r="4.6"/><circle cx="248" cy="272.7" r="4.6"/><circle cx="227.9" cy="289.6" r="4.6"/><circle cx="243" cy="276.5" r="4.6"/><circle cx="232.9" cy="285.1" r="4.6"/><circle cx="238" cy="280.7" r="4.6"/><circle cx="382.1" cy="243.9" r="4.6"/><circle cx="458.7" cy="264.3" r="4.6"/><circle cx="518.9" cy="317.4" r="4.6"/><circle cx="287" cy="254.8" r="4.6"/><circle cx="403.8" cy="247.2" r="4.6"/><circle cx="513" cy="310.8" r="4.6"/><circle cx="328.5" cy="245.9" r="4.6"/><circle cx="464.8" cy="268" r="4.6"/><circle cx="275.5" cy="259.6" r="4.6"/><circle cx="544.3" cy="417.8" r="4.6"/><circle cx="368.9" cy="243.7" r="4.6"/><circle cx="507" cy="304.7" r="4.6"/><circle cx="501" cy="298.7" r="4.6"/><circle cx="470.8" cy="272.2" r="4.6"/><circle cx="264" cy="265" r="4.6"/><circle cx="181.3" cy="361.3" r="4.6"/><circle cx="495" cy="292.9" r="4.6"/><circle cx="476.9" cy="276.9" r="4.6"/><circle cx="541.6" cy="373.2" r="4.6"/><circle cx="489" cy="287.3" r="4.6"/><circle cx="482.9" cy="281.9" r="4.6"/><circle cx="433" cy="255.7" r="4.6"/><circle cx="316.5" cy="248.9" r="4.6"/><circle cx="348.9" cy="245.3" r="4.6"/><circle cx="411.9" cy="251" r="4.6"/><circle cx="390.4" cy="247.5" r="4.6"/><circle cx="304.7" cy="252.4" r="4.6"/><circle cx="186.5" cy="350.1" r="4.6"/><circle cx="258.6" cy="270.1" r="4.6"/><circle cx="441.2" cy="260.5" r="4.6"/><circle cx="293" cy="256.5" r="4.6"/><circle cx="336" cy="248.2" r="4.6"/><circle cx="376.8" cy="247.4" r="4.6"/><circle cx="253.5" cy="273.9" r="4.6"/><circle cx="535.9" cy="360.3" r="4.6"/><circle cx="187.7" cy="469" r="4.6"/><circle cx="281.4" cy="261.1" r="4.6"/><circle cx="357.1" cy="247.2" r="4.6"/><circle cx="191.7" cy="340.8" r="4.6"/><circle cx="248.4" cy="277.9" r="4.6"/><circle cx="178" cy="394.9" r="4.6"/><circle cx="269.8" cy="266.2" r="4.6"/><circle cx="420.1" cy="255.1" r="4.6"/><circle cx="243.3" cy="282.3" r="4.6"/><circle cx="448.2" cy="264.8" r="4.6"/><circle cx="238.2" cy="287" r="4.6"/><circle cx="196.9" cy="333" r="4.6"/><circle cx="398.6" cy="251.1" r="4.6"/><circle cx="323.5" cy="251.2" r="4.6"/><circle cx="233.1" cy="292" r="4.6"/><circle cx="228" cy="297.1" r="4.6"/><circle cx="202.2" cy="326" r="4.6"/><circle cx="222.9" cy="302.4" r="4.6"/><circle cx="217.7" cy="307.9" r="4.6"/><circle cx="207.4" cy="319.5" r="4.6"/><circle cx="212.5" cy="313.5" r="4.6"/><circle cx="528.9" cy="470.1" r="4.6"/><circle cx="454.1" cy="268.5" r="4.6"/><circle cx="364.8" cy="248.9" r="4.6"/><circle cx="530.2" cy="348.7" r="4.6"/><circle cx="311.3" cy="254.5" r="4.6"/><circle cx="428.3" cy="259.6" r="4.6"/><circle cx="460" cy="272.5" r="4.6"/><circle cx="385" cy="251.1" r="4.6"/><circle cx="344.1" cy="250.5" r="4.6"/><circle cx="539" cy="395.4" r="4.6"/><circle cx="264.4" cy="271.5" r="4.6"/><circle cx="299.4" cy="258.4" r="4.6"/><circle cx="371.9" cy="250.6" r="4.6"/><circle cx="406.8" cy="254.9" r="4.6"/><circle cx="524.4" cy="339.3" r="4.6"/><circle cx="465.9" cy="276.9" r="4.6"/><circle cx="183" cy="380.1" r="4.6"/><circle cx="181.8" cy="424.2" r="4.6"/><circle cx="287.6" cy="262.8" r="4.6"/><circle cx="471.8" cy="281.8" r="4.6"/><circle cx="259.3" cy="275.3" r="4.6"/><circle cx="518.6" cy="331.3" r="4.6"/><circle cx="477.7" cy="287.1" r="4.6"/><circle cx="275.9" cy="267.7" r="4.6"/><circle cx="331.1" cy="253.5" r="4.6"/><circle cx="512.8" cy="323.9" r="4.6"/><circle cx="483.5" cy="292.7" r="4.6"/><circle cx="436.5" cy="264.5" r="4.6"/><circle cx="489.4" cy="298.6" r="4.6"/><circle cx="507" cy="317.1" r="4.6"/><circle cx="495.3" cy="304.6" r="4.6"/><circle cx="501.1" cy="310.8" r="4.6"/><circle cx="254.2" cy="279.6" r="4.6"/><circle cx="352.3" cy="252.5" r="4.6"/><circle cx="393.2" cy="254.8" r="4.6"/><circle cx="249.2" cy="284.3" r="4.6"/><circle cx="415.1" cy="259.1" r="4.6"/><circle cx="188.1" cy="367.3" r="4.6"/><circle cx="534.8" cy="425.2" r="4.6"/><circle cx="318.5" cy="256.7" r="4.6"/><circle cx="443.4" cy="268.9" r="4.6"/><circle cx="244.1" cy="289.2" r="4.6"/><circle cx="379.8" cy="254.5" r="4.6"/><circle cx="533.6" cy="380.6" r="4.6"/><circle cx="239" cy="294.5" r="4.6"/><circle cx="306.3" cy="260.4" r="4.6"/><circle cx="360.4" cy="254.3" r="4.6"/><circle cx="270.6" cy="273.1" r="4.6"/><circle cx="233.9" cy="300" r="4.6"/><circle cx="193.1" cy="355.8" r="4.6"/><circle cx="339.2" cy="255.8" r="4.6"/><circle cx="449.1" cy="272.9" r="4.6"/><circle cx="294.2" cy="264.7" r="4.6"/><circle cx="228.8" cy="305.7" r="4.6"/><circle cx="423.3" cy="263.6" r="4.6"/><circle cx="401.5" cy="258.8" r="4.6"/><circle cx="223.7" cy="311.5" r="4.6"/><circle cx="282.3" cy="269.4" r="4.6"/><circle cx="198.2" cy="346.1" r="4.6"/><circle cx="218.6" cy="317.5" r="4.6"/><circle cx="265.6" cy="277.1" r="4.6"/><circle cx="199" cy="475.8" r="4.6"/><circle cx="367.9" cy="256.1" r="4.6"/><circle cx="213.5" cy="323.8" r="4.6"/><circle cx="203.3" cy="338" r="4.6"/><circle cx="454.7" cy="277" r="4.6"/><circle cx="208.4" cy="330.6" r="4.6"/><circle cx="528" cy="367.5" r="4.6"/><circle cx="326.3" cy="259" r="4.6"/><circle cx="186.4" cy="401.6" r="4.6"/><circle cx="387.9" cy="258.4" r="4.6"/><circle cx="260.5" cy="281.5" r="4.6"/><circle cx="431.5" cy="268.5" r="4.6"/><circle cx="460.4" cy="281.7" r="4.6"/><circle cx="374.9" cy="257.8" r="4.6"/><circle cx="517" cy="476.9" r="4.6"/><circle cx="347.5" cy="257.8" r="4.6"/><circle cx="409.8" cy="263" r="4.6"/><circle cx="313.6" cy="262.6" r="4.6"/><circle cx="466" cy="286.8" r="4.6"/><circle cx="255.5" cy="286.4" r="4.6"/><circle cx="277.2" cy="274.9" r="4.6"/><circle cx="522.5" cy="355.8" r="4.6"/><circle cx="301.2" cy="266.7" r="4.6"/><circle cx="471.7" cy="292.3" r="4.6"/><circle cx="438.3" cy="273.1" r="4.6"/><circle cx="250.5" cy="291.6" r="4.6"/><circle cx="477.3" cy="298.2" r="4.6"/><circle cx="289" cy="271.3" r="4.6"/><circle cx="355.7" cy="259.8" r="4.6"/><circle cx="334.4" cy="261.3" r="4.6"/><circle cx="396.1" cy="262.5" r="4.6"/><circle cx="191.2" cy="386.4" r="4.6"/><circle cx="483" cy="304.2" r="4.6"/><circle cx="529.7" cy="402.7" r="4.6"/><circle cx="516.9" cy="346.2" r="4.6"/><circle cx="191.7" cy="431" r="4.6"/><circle cx="245.5" cy="297.2" r="4.6"/><circle cx="418.1" cy="267.6" r="4.6"/><circle cx="488.6" cy="310.5" r="4.6"/><circle cx="272.2" cy="279.1" r="4.6"/><circle cx="511.2" cy="338" r="4.6"/><circle cx="494.3" cy="316.9" r="4.6"/><circle cx="499.9" cy="323.4" r="4.6"/><circle cx="505.6" cy="330.4" r="4.6"/><circle cx="443.6" cy="277.2" r="4.6"/><circle cx="240.5" cy="303" r="4.6"/><circle cx="382.8" cy="261.9" r="4.6"/><circle cx="321.4" cy="264.9" r="4.6"/><circle cx="363.5" cy="261.6" r="4.6"/><circle cx="235.5" cy="309" r="4.6"/><circle cx="196" cy="373.3" r="4.6"/><circle cx="267.3" cy="283.7" r="4.6"/><circle cx="230.5" cy="315.2" r="4.6"/><circle cx="426.3" cy="272.6" r="4.6"/><circle cx="524.2" cy="432.3" r="4.6"/><circle cx="448.9" cy="281.6" r="4.6"/><circle cx="404.4" cy="266.9" r="4.6"/><circle cx="308.7" cy="268.9" r="4.6"/><circle cx="342.7" cy="263.4" r="4.6"/><circle cx="284.1" cy="276.9" r="4.6"/><circle cx="225.5" cy="321.6" r="4.6"/><circle cx="371" cy="263.5" r="4.6"/><circle cx="524.4" cy="387.7" r="4.6"/><circle cx="296.2" cy="273.4" r="4.6"/><circle cx="262.4" cy="288.8" r="4.6"/><circle cx="200.8" cy="361.3" r="4.6"/><circle cx="220.5" cy="328.2" r="4.6"/><circle cx="454.3" cy="286.5" r="4.6"/><circle cx="390.9" cy="266.2" r="4.6"/><circle cx="215.6" cy="335.3" r="4.6"/><circle cx="205.7" cy="351.4" r="4.6"/><circle cx="210.7" cy="343" r="4.6"/><circle cx="432.9" cy="277.3" r="4.6"/><circle cx="211.4" cy="482.1" r="4.6"/><circle cx="377.9" cy="265.4" r="4.6"/><circle cx="329.5" cy="267.1" r="4.6"/><circle cx="257.5" cy="294.3" r="4.6"/><circle cx="459.6" cy="291.9" r="4.6"/><circle cx="279.4" cy="281.3" r="4.6"/><circle cx="412.7" cy="271.6" r="4.6"/><circle cx="351" cy="265.5" r="4.6"/><circle cx="504" cy="483.3" r="4.6"/><circle cx="465" cy="297.6" r="4.6"/><circle cx="519" cy="374.5" r="4.6"/><circle cx="252.7" cy="300.1" r="4.6"/><circle cx="196" cy="408" r="4.6"/><circle cx="316.5" cy="271.1" r="4.6"/><circle cx="437.8" cy="281.6" r="4.6"/><circle cx="470.3" cy="303.6" r="4.6"/><circle cx="399" cy="270.8" r="4.6"/><circle cx="291.5" cy="279" r="4.6"/><circle cx="274.7" cy="286.1" r="4.6"/><circle cx="359" cy="267.5" r="4.6"/><circle cx="247.8" cy="306.2" r="4.6"/><circle cx="421" cy="276.7" r="4.6"/><circle cx="303.8" cy="275.5" r="4.6"/><circle cx="475.7" cy="309.8" r="4.6"/><circle cx="337.9" cy="269.4" r="4.6"/><circle cx="385.8" cy="269.9" r="4.6"/><circle cx="513.6" cy="362.6" r="4.6"/><circle cx="481.1" cy="316.3" r="4.6"/><circle cx="243" cy="312.5" r="4.6"/><circle cx="442.8" cy="286.2" r="4.6"/><circle cx="366.7" cy="269.4" r="4.6"/><circle cx="486.5" cy="322.9" r="4.6"/><circle cx="270" cy="291.4" r="4.6"/><circle cx="200.5" cy="392.6" r="4.6"/><circle cx="508.2" cy="352.8" r="4.6"/><circle cx="202.7" cy="437.4" r="4.6"/><circle cx="491.9" cy="329.6" r="4.6"/><circle cx="519.2" cy="409.7" r="4.6"/><circle cx="238.2" cy="319" r="4.6"/><circle cx="502.8" cy="344.4" r="4.6"/><circle cx="287" cy="283.7" r="4.6"/><circle cx="497.3" cy="336.7" r="4.6"/><circle cx="407.3" cy="275.6" r="4.6"/><circle cx="427.4" cy="281.5" r="4.6"/><circle cx="324.7" cy="273.4" r="4.6"/><circle cx="447.7" cy="291.4" r="4.6"/><circle cx="374" cy="271.4" r="4.6"/><circle cx="346.2" cy="271.5" r="4.6"/><circle cx="233.4" cy="325.7" r="4.6"/><circle cx="265.3" cy="297.1" r="4.6"/><circle cx="393.8" cy="274.6" r="4.6"/><circle cx="311.6" cy="277.8" r="4.6"/><circle cx="205.1" cy="379.1" r="4.6"/><circle cx="299.2" cy="281.3" r="4.6"/><circle cx="228.6" cy="332.6" r="4.6"/><circle cx="512.5" cy="439" r="4.6"/><circle cx="452.7" cy="296.9" r="4.6"/><circle cx="381" cy="273.5" r="4.6"/><circle cx="431.8" cy="285.9" r="4.6"/><circle cx="282.6" cy="288.6" r="4.6"/><circle cx="415.6" cy="280.7" r="4.6"/><circle cx="223.8" cy="340" r="4.6"/><circle cx="260.6" cy="303.1" r="4.6"/><circle cx="354.3" cy="273.6" r="4.6"/><circle cx="209.7" cy="366.8" r="4.6"/><circle cx="224.8" cy="487.9" r="4.6"/><circle cx="219.1" cy="348" r="4.6"/><circle cx="333" cy="275.7" r="4.6"/><circle cx="514.1" cy="394.5" r="4.6"/><circle cx="457.7" cy="302.8" r="4.6"/><circle cx="214.4" cy="356.6" r="4.6"/><circle cx="256" cy="309.5" r="4.6"/><circle cx="490.2" cy="489.1" r="4.6"/><circle cx="402" cy="279.6" r="4.6"/><circle cx="295.1" cy="286.1" r="4.6"/><circle cx="462.7" cy="308.9" r="4.6"/><circle cx="436.3" cy="290.8" r="4.6"/><circle cx="278.1" cy="294.1" r="4.6"/><circle cx="362.2" cy="275.7" r="4.6"/><circle cx="319.8" cy="280" r="4.6"/><circle cx="421.7" cy="285.6" r="4.6"/><circle cx="388.8" cy="278.4" r="4.6"/><circle cx="307.4" cy="283.6" r="4.6"/><circle cx="467.8" cy="315.3" r="4.6"/><circle cx="251.4" cy="316.1" r="4.6"/><circle cx="508.9" cy="381.1" r="4.6"/><circle cx="341.3" cy="277.9" r="4.6"/><circle cx="206.8" cy="414.2" r="4.6"/><circle cx="369.8" cy="277.8" r="4.6"/><circle cx="472.9" cy="321.9" r="4.6"/><circle cx="440.9" cy="296.1" r="4.6"/><circle cx="273.7" cy="300" r="4.6"/><circle cx="246.8" cy="322.9" r="4.6"/><circle cx="410.3" cy="284.8" r="4.6"/><circle cx="291" cy="291.3" r="4.6"/><circle cx="478" cy="328.6" r="4.6"/><circle cx="425.8" cy="290.3" r="4.6"/><circle cx="503.8" cy="369.1" r="4.6"/><circle cx="377" cy="280" r="4.6"/><circle cx="483.1" cy="335.5" r="4.6"/><circle cx="328.1" cy="282.3" r="4.6"/><circle cx="445.5" cy="301.8" r="4.6"/><circle cx="349.6" cy="280.1" r="4.6"/><circle cx="242.2" cy="329.9" r="4.6"/><circle cx="396.9" cy="283.6" r="4.6"/><circle cx="488.3" cy="342.8" r="4.6"/><circle cx="214.9" cy="443.5" r="4.6"/><circle cx="498.6" cy="359.2" r="4.6"/><circle cx="303.7" cy="288.6" r="4.6"/><circle cx="269.4" cy="306.3" r="4.6"/><circle cx="211" cy="398.5" r="4.6"/><circle cx="493.4" cy="350.7" r="4.6"/><circle cx="507.7" cy="416.2" r="4.6"/><circle cx="384" cy="282.3" r="4.6"/><circle cx="315.8" cy="286" r="4.6"/><circle cx="237.7" cy="337" r="4.6"/><circle cx="416.1" cy="289.8" r="4.6"/><circle cx="450.1" cy="307.8" r="4.6"/><circle cx="287" cy="296.9" r="4.6"/><circle cx="429.8" cy="295.3" r="4.6"/><circle cx="357.6" cy="282.3" r="4.6"/><circle cx="265" cy="312.9" r="4.6"/><circle cx="215.4" cy="384.7" r="4.6"/><circle cx="239.2" cy="493.2" r="4.6"/><circle cx="499.8" cy="445.2" r="4.6"/><circle cx="233.1" cy="344.7" r="4.6"/><circle cx="336.5" cy="284.6" r="4.6"/><circle cx="454.7" cy="314.1" r="4.6"/><circle cx="405" cy="288.9" r="4.6"/><circle cx="228.6" cy="352.9" r="4.6"/><circle cx="475.4" cy="494.4" r="4.6"/><circle cx="300" cy="293.9" r="4.6"/><circle cx="219.7" cy="372.2" r="4.6"/><circle cx="224.2" cy="361.8" r="4.6"/><circle cx="365.4" cy="284.5" r="4.6"/><circle cx="433.9" cy="300.7" r="4.6"/><circle cx="260.7" cy="319.7" r="4.6"/><circle cx="282.9" cy="303" r="4.6"/><circle cx="502.8" cy="400.9" r="4.6"/><circle cx="419.7" cy="294.6" r="4.6"/><circle cx="391.9" cy="287.6" r="4.6"/><circle cx="324.3" cy="288.3" r="4.6"/><circle cx="459.4" cy="320.6" r="4.6"/><circle cx="312.6" cy="291.1" r="4.6"/><circle cx="344.8" cy="286.9" r="4.6"/><circle cx="372.9" cy="286.8" r="4.6"/><circle cx="464.1" cy="327.3" r="4.6"/><circle cx="256.3" cy="326.8" r="4.6"/><circle cx="438" cy="306.6" r="4.6"/><circle cx="410.6" cy="294" r="4.6"/><circle cx="278.8" cy="309.4" r="4.6"/><circle cx="296.3" cy="299.7" r="4.6"/><circle cx="497.9" cy="387.4" r="4.6"/><circle cx="423.2" cy="299.8" r="4.6"/><circle cx="468.9" cy="334.1" r="4.6"/><circle cx="380.1" cy="289.1" r="4.6"/><circle cx="218.7" cy="420" r="4.6"/><circle cx="333" cy="290.7" r="4.6"/><circle cx="399.9" cy="293" r="4.6"/><circle cx="252" cy="334" r="4.6"/><circle cx="352.9" cy="289.2" r="4.6"/><circle cx="442.2" cy="312.7" r="4.6"/><circle cx="473.7" cy="341.1" r="4.6"/><circle cx="309.3" cy="296.6" r="4.6"/><circle cx="321.7" cy="293.6" r="4.6"/><circle cx="387" cy="291.6" r="4.6"/><circle cx="493.1" cy="375.3" r="4.6"/><circle cx="478.5" cy="348.5" r="4.6"/><circle cx="274.8" cy="316.2" r="4.6"/><circle cx="413.6" cy="298.9" r="4.6"/><circle cx="228.1" cy="449.1" r="4.6"/><circle cx="483.3" cy="356.5" r="4.6"/><circle cx="426.8" cy="305.3" r="4.6"/><circle cx="247.7" cy="341.3" r="4.6"/><circle cx="488.2" cy="365.2" r="4.6"/><circle cx="292.7" cy="305.9" r="4.6"/><circle cx="446.4" cy="319.1" r="4.6"/><circle cx="254.4" cy="497.8" r="4.6"/><circle cx="360.8" cy="291.5" r="4.6"/><circle cx="495.3" cy="422.3" r="4.6"/><circle cx="222.7" cy="404.1" r="4.6"/><circle cx="341.6" cy="293" r="4.6"/><circle cx="459.9" cy="499.1" r="4.6"/><circle cx="405.2" cy="298.3" r="4.6"/><circle cx="243.5" cy="349.2" r="4.6"/><circle cx="270.8" cy="323.3" r="4.6"/><circle cx="486.2" cy="450.9" r="4.6"/><circle cx="450.7" cy="325.7" r="4.6"/><circle cx="306.1" cy="302.5" r="4.6"/><circle cx="368.5" cy="293.8" r="4.6"/><circle cx="330.8" cy="296" r="4.6"/><circle cx="430.5" cy="311.2" r="4.6"/><circle cx="394.9" cy="297.2" r="4.6"/><circle cx="416.7" cy="304.2" r="4.6"/><circle cx="226.8" cy="390.1" r="4.6"/><circle cx="239.2" cy="357.7" r="4.6"/><circle cx="318.9" cy="299.1" r="4.6"/><circle cx="289" cy="312.6" r="4.6"/><circle cx="350" cy="295.3" r="4.6"/><circle cx="235" cy="366.8" r="4.6"/><circle cx="230.9" cy="377.3" r="4.6"/><circle cx="455" cy="332.4" r="4.6"/><circle cx="376" cy="296.3" r="4.6"/><circle cx="266.8" cy="330.5" r="4.6"/><circle cx="490.7" cy="406.8" r="4.6"/><circle cx="407.7" cy="303.3" r="4.6"/><circle cx="434.2" cy="317.4" r="4.6"/><circle cx="419.8" cy="309.8" r="4.6"/><circle cx="340" cy="298.3" r="4.6"/><circle cx="459.3" cy="339.3" r="4.6"/><circle cx="383.1" cy="298.8" r="4.6"/><circle cx="302.9" cy="308.8" r="4.6"/><circle cx="358.3" cy="297.6" r="4.6"/><circle cx="399.9" cy="302.7" r="4.6"/><circle cx="285.3" cy="319.5" r="4.6"/><circle cx="262.8" cy="337.9" r="4.6"/><circle cx="328.6" cy="301.6" r="4.6"/><circle cx="390.1" cy="301.6" r="4.6"/><circle cx="316.2" cy="305.1" r="4.6"/><circle cx="437.9" cy="323.8" r="4.6"/><circle cx="463.7" cy="346.4" r="4.6"/><circle cx="486.2" cy="393.3" r="4.6"/><circle cx="270.4" cy="501.9" r="4.6"/><circle cx="410.3" cy="308.6" r="4.6"/><circle cx="231.7" cy="425.4" r="4.6"/><circle cx="366.3" cy="300" r="4.6"/><circle cx="443.8" cy="503.1" r="4.6"/><circle cx="423" cy="315.8" r="4.6"/><circle cx="348.9" cy="300.6" r="4.6"/><circle cx="468.1" cy="353.9" r="4.6"/><circle cx="258.8" cy="345.5" r="4.6"/><circle cx="281.7" cy="326.7" r="4.6"/><circle cx="481.6" cy="381" r="4.6"/><circle cx="401.9" cy="307.7" r="4.6"/><circle cx="472.6" cy="362" r="4.6"/><circle cx="441.7" cy="330.5" r="4.6"/><circle cx="299.7" cy="315.6" r="4.6"/><circle cx="242.3" cy="454.1" r="4.6"/><circle cx="374" cy="302.5" r="4.6"/><circle cx="477.1" cy="370.8" r="4.6"/><circle cx="338.3" cy="304" r="4.6"/><circle cx="482.1" cy="427.9" r="4.6"/><circle cx="394.8" cy="307.2" r="4.6"/><circle cx="357.7" cy="302.9" r="4.6"/><circle cx="412.9" cy="314.3" r="4.6"/><circle cx="254.8" cy="353.6" r="4.6"/><circle cx="426.2" cy="322" r="4.6"/><circle cx="313.5" cy="311.6" r="4.6"/><circle cx="235.4" cy="409.3" r="4.6"/><circle cx="471.9" cy="456.1" r="4.6"/><circle cx="381.5" cy="305.2" r="4.6"/><circle cx="326.4" cy="307.7" r="4.6"/><circle cx="445.6" cy="337.3" r="4.6"/><circle cx="278" cy="334.2" r="4.6"/><circle cx="388.7" cy="308" r="4.6"/><circle cx="366.1" cy="305.3" r="4.6"/><circle cx="404" cy="313.1" r="4.6"/><circle cx="250.9" cy="362.2" r="4.6"/><circle cx="296.4" cy="322.7" r="4.6"/><circle cx="347.8" cy="306.4" r="4.6"/><circle cx="239.2" cy="395.1" r="4.6"/><circle cx="429.4" cy="328.4" r="4.6"/><circle cx="449.5" cy="344.1" r="4.6"/><circle cx="415.5" cy="320.2" r="4.6"/><circle cx="396.3" cy="312.2" r="4.6"/><circle cx="374.3" cy="307.8" r="4.6"/><circle cx="247" cy="371.5" r="4.6"/><circle cx="287" cy="505.2" r="4.6"/><circle cx="243.1" cy="382.2" r="4.6"/><circle cx="427.2" cy="506.5" r="4.6"/><circle cx="477.9" cy="412.3" r="4.6"/><circle cx="274.4" cy="341.7" r="4.6"/><circle cx="336.6" cy="310.2" r="4.6"/><circle cx="310.7" cy="318.5" r="4.6"/><circle cx="382.2" cy="310.4" r="4.6"/><circle cx="357" cy="308.7" r="4.6"/><circle cx="324.2" cy="314.3" r="4.6"/><circle cx="453.4" cy="351.3" r="4.6"/><circle cx="406.1" cy="318.7" r="4.6"/><circle cx="389.8" cy="313.1" r="4.6"/><circle cx="293.2" cy="330" r="4.6"/><circle cx="432.7" cy="335" r="4.6"/><circle cx="418.2" cy="326.4" r="4.6"/><circle cx="366" cy="311.1" r="4.6"/><circle cx="397.8" cy="317.5" r="4.6"/><circle cx="473.8" cy="398.7" r="4.6"/><circle cx="457.4" cy="358.9" r="4.6"/><circle cx="270.7" cy="349.5" r="4.6"/><circle cx="346.6" cy="312.6" r="4.6"/><circle cx="374.6" cy="313.4" r="4.6"/><circle cx="245.6" cy="430.4" r="4.6"/><circle cx="461.4" cy="367.1" r="4.6"/><circle cx="307.9" cy="325.6" r="4.6"/><circle cx="436.1" cy="341.8" r="4.6"/><circle cx="257.3" cy="458.7" r="4.6"/><circle cx="382.9" cy="315.9" r="4.6"/><circle cx="408.2" cy="324.6" r="4.6"/><circle cx="469.6" cy="386.4" r="4.6"/><circle cx="334.9" cy="316.8" r="4.6"/><circle cx="390.9" cy="318.5" r="4.6"/><circle cx="465.5" cy="376" r="4.6"/><circle cx="289.9" cy="337.6" r="4.6"/><circle cx="304.1" cy="507.9" r="4.6"/><circle cx="410.1" cy="509" r="4.6"/><circle cx="420.9" cy="332.8" r="4.6"/><circle cx="321.9" cy="321.2" r="4.6"/><circle cx="356.3" cy="314.9" r="4.6"/><circle cx="456.9" cy="460.7" r="4.6"/><circle cx="267.1" cy="357.7" r="4.6"/><circle cx="468.2" cy="432.9" r="4.6"/><circle cx="399.4" cy="323.1" r="4.6"/><circle cx="365.8" cy="317.2" r="4.6"/><circle cx="439.5" cy="348.7" r="4.6"/><circle cx="249.1" cy="414.1" r="4.6"/><circle cx="410.3" cy="330.7" r="4.6"/><circle cx="345.4" cy="319.1" r="4.6"/><circle cx="374.9" cy="319.4" r="4.6"/><circle cx="263.4" cy="366.4" r="4.6"/><circle cx="305.1" cy="333.1" r="4.6"/><circle cx="423.7" cy="339.4" r="4.6"/><circle cx="286.6" cy="345.3" r="4.6"/><circle cx="383.6" cy="321.7" r="4.6"/><circle cx="392" cy="324.1" r="4.6"/><circle cx="392.6" cy="510.6" r="4.6"/><circle cx="321.6" cy="509.9" r="4.6"/><circle cx="252.7" cy="399.8" r="4.6"/><circle cx="333.1" cy="323.7" r="4.6"/><circle cx="442.9" cy="355.9" r="4.6"/><circle cx="401" cy="328.9" r="4.6"/><circle cx="319.6" cy="328.4" r="4.6"/><circle cx="259.8" cy="375.9" r="4.6"/><circle cx="464.5" cy="417.3" r="4.6"/><circle cx="355.6" cy="321.4" r="4.6"/><circle cx="256.2" cy="386.7" r="4.6"/><circle cx="412.5" cy="337" r="4.6"/><circle cx="426.5" cy="346.1" r="4.6"/><circle cx="365.5" cy="323.6" r="4.6"/><circle cx="446.4" cy="363.6" r="4.6"/><circle cx="374.9" cy="511.5" r="4.6"/><circle cx="339.3" cy="511.2" r="4.6"/><circle cx="283.3" cy="353.1" r="4.6"/><circle cx="302.2" cy="340.7" r="4.6"/><circle cx="393.1" cy="330" r="4.6"/><circle cx="375.1" cy="325.7" r="4.6"/><circle cx="384.3" cy="327.8" r="4.6"/><circle cx="344.1" cy="326" r="4.6"/><circle cx="460.8" cy="403.7" r="4.6"/><circle cx="357.1" cy="511.7" r="4.6"/><circle cx="402.6" cy="334.9" r="4.6"/><circle cx="450" cy="371.8" r="4.6"/><circle cx="273.1" cy="462.6" r="4.6"/><circle cx="317.2" cy="335.9" r="4.6"/><circle cx="441.4" cy="464.7" r="4.6"/><circle cx="331.2" cy="330.9" r="4.6"/><circle cx="260.5" cy="434.8" r="4.6"/><circle cx="457.2" cy="391.3" r="4.6"/><circle cx="429.4" cy="352.9" r="4.6"/><circle cx="414.7" cy="343.5" r="4.6"/><circle cx="453.5" cy="380.7" r="4.6"/><circle cx="354.9" cy="328.2" r="4.6"/><circle cx="280.1" cy="361.4" r="4.6"/><circle cx="453.8" cy="437.5" r="4.6"/><circle cx="394.2" cy="336" r="4.6"/><circle cx="299.4" cy="348.5" r="4.6"/><circle cx="365.3" cy="330.3" r="4.6"/><circle cx="404.2" cy="341" r="4.6"/><circle cx="384.9" cy="334.2" r="4.6"/><circle cx="375.3" cy="332.3" r="4.6"/><circle cx="432.3" cy="360.1" r="4.6"/><circle cx="342.8" cy="333.2" r="4.6"/><circle cx="276.8" cy="370.3" r="4.6"/><circle cx="417" cy="350.1" r="4.6"/><circle cx="263.7" cy="418.5" r="4.6"/><circle cx="314.8" cy="343.5" r="4.6"/><circle cx="329.4" cy="338.4" r="4.6"/><circle cx="354" cy="335.3" r="4.6"/><circle cx="395.3" cy="342.3" r="4.6"/><circle cx="450.6" cy="421.7" r="4.6"/><circle cx="435.2" cy="367.8" r="4.6"/><circle cx="296.5" cy="356.4" r="4.6"/><circle cx="405.8" cy="347.4" r="4.6"/><circle cx="273.5" cy="379.9" r="4.6"/><circle cx="266.9" cy="404" r="4.6"/><circle cx="385.6" cy="340.7" r="4.6"/><circle cx="364.9" cy="337.2" r="4.6"/><circle cx="270.2" cy="390.8" r="4.6"/><circle cx="375.5" cy="339" r="4.6"/><circle cx="419.3" cy="356.8" r="4.6"/><circle cx="425.4" cy="468" r="4.6"/><circle cx="289.4" cy="465.9" r="4.6"/><circle cx="438.2" cy="376.1" r="4.6"/><circle cx="341.4" cy="340.6" r="4.6"/><circle cx="447.5" cy="408.1" r="4.6"/><circle cx="312.4" cy="351.3" r="4.6"/><circle cx="327.5" cy="346" r="4.6"/><circle cx="396.5" cy="348.7" r="4.6"/><circle cx="441.3" cy="385.1" r="4.6"/><circle cx="293.6" cy="364.8" r="4.6"/><circle cx="407.5" cy="353.8" r="4.6"/><circle cx="444.4" cy="395.7" r="4.6"/><circle cx="276" cy="438.6" r="4.6"/><circle cx="353.2" cy="342.6" r="4.6"/><circle cx="421.6" cy="364" r="4.6"/><circle cx="438.9" cy="441.4" r="4.6"/><circle cx="386.2" cy="347.4" r="4.6"/><circle cx="364.6" cy="344.4" r="4.6"/><circle cx="375.6" cy="346" r="4.6"/><circle cx="290.7" cy="373.8" r="4.6"/><circle cx="340" cy="348.2" r="4.6"/><circle cx="310" cy="359.3" r="4.6"/><circle cx="409.2" cy="360.5" r="4.6"/><circle cx="424" cy="371.7" r="4.6"/><circle cx="397.6" cy="355.2" r="4.6"/><circle cx="278.9" cy="422.2" r="4.6"/><circle cx="409" cy="470.4" r="4.6"/><circle cx="325.5" cy="353.8" r="4.6"/><circle cx="306.2" cy="468.6" r="4.6"/><circle cx="436.3" cy="425.6" r="4.6"/><circle cx="352.3" cy="350.1" r="4.6"/><circle cx="386.9" cy="354.2" r="4.6"/><circle cx="287.7" cy="383.4" r="4.6"/><circle cx="426.4" cy="380" r="4.6"/><circle cx="281.9" cy="407.7" r="4.6"/><circle cx="375.7" cy="353.1" r="4.6"/><circle cx="364.2" cy="351.7" r="4.6"/><circle cx="284.8" cy="394.5" r="4.6"/><circle cx="410.9" cy="367.7" r="4.6"/><circle cx="433.8" cy="412.1" r="4.6"/><circle cx="307.5" cy="367.7" r="4.6"/><circle cx="398.7" cy="362" r="4.6"/><circle cx="428.8" cy="389" r="4.6"/><circle cx="338.5" cy="355.9" r="4.6"/><circle cx="431.3" cy="399.7" r="4.6"/><circle cx="423.6" cy="444.8" r="4.6"/><circle cx="292" cy="441.9" r="4.6"/><circle cx="323.5" cy="361.8" r="4.6"/><circle cx="392.3" cy="471.8" r="4.6"/><circle cx="323.4" cy="470.6" r="4.6"/><circle cx="387.5" cy="361.2" r="4.6"/><circle cx="412.7" cy="375.3" r="4.6"/><circle cx="351.3" cy="357.7" r="4.6"/><circle cx="305" cy="376.8" r="4.6"/><circle cx="375.8" cy="360.3" r="4.6"/><circle cx="399.8" cy="369.2" r="4.6"/><circle cx="363.8" cy="359.1" r="4.6"/><circle cx="375.2" cy="472.5" r="4.6"/><circle cx="340.6" cy="471.9" r="4.6"/><circle cx="421.7" cy="429" r="4.6"/><circle cx="294.6" cy="425.4" r="4.6"/><circle cx="337" cy="363.9" r="4.6"/><circle cx="414.4" cy="383.5" r="4.6"/><circle cx="321.5" cy="370.2" r="4.6"/><circle cx="357.9" cy="472.5" r="4.6"/><circle cx="302.4" cy="386.4" r="4.6"/><circle cx="388.1" cy="368.7" r="4.6"/><circle cx="419.8" cy="415.5" r="4.6"/><circle cx="297.3" cy="410.8" r="4.6"/><circle cx="416.2" cy="392.5" r="4.6"/><circle cx="407.9" cy="447.1" r="4.6"/><circle cx="401" cy="376.9" r="4.6"/><circle cx="299.8" cy="397.6" r="4.6"/><circle cx="350.3" cy="365.6" r="4.6"/><circle cx="418" cy="403.3" r="4.6"/><circle cx="308.5" cy="444.5" r="4.6"/><circle cx="375.9" cy="367.9" r="4.6"/><circle cx="363.3" cy="366.9" r="4.6"/><circle cx="319.4" cy="379.3" r="4.6"/><circle cx="335.5" cy="372.3" r="4.6"/><circle cx="402.1" cy="385.2" r="4.6"/><circle cx="388.7" cy="376.6" r="4.6"/><circle cx="406.7" cy="431.1" r="4.6"/><circle cx="310.7" cy="428" r="4.6"/><circle cx="349.2" cy="373.9" r="4.6"/><circle cx="391.8" cy="448.2" r="4.6"/><circle cx="375.9" cy="376.1" r="4.6"/><circle cx="317.3" cy="389" r="4.6"/><circle cx="403.3" cy="394.3" r="4.6"/><circle cx="405.6" cy="417.6" r="4.6"/><circle cx="362.8" cy="375.2" r="4.6"/><circle cx="325.2" cy="446.5" r="4.6"/><circle cx="404.4" cy="405.2" r="4.6"/><circle cx="333.9" cy="381.3" r="4.6"/><circle cx="312.9" cy="413.4" r="4.6"/><circle cx="389.2" cy="385.1" r="4.6"/><circle cx="315.1" cy="400.2" r="4.6"/><circle cx="375.4" cy="448.7" r="4.6"/><circle cx="342" cy="447.9" r="4.6"/><circle cx="391.3" cy="432" r="4.6"/><circle cx="348.2" cy="382.9" r="4.6"/><circle cx="375.9" cy="384.8" r="4.6"/><circle cx="327" cy="430" r="4.6"/><circle cx="389.8" cy="394.5" r="4.6"/><circle cx="358.8" cy="448.6" r="4.6"/><circle cx="332.2" cy="391" r="4.6"/><circle cx="362.2" cy="384" r="4.6"/><circle cx="390.8" cy="418.2" r="4.6"/><circle cx="390.3" cy="405.5" r="4.6"/><circle cx="328.8" cy="415.5" r="4.6"/><circle cx="330.5" cy="402.2" r="4.6"/><circle cx="375.6" cy="432.4" r="4.6"/><circle cx="375.9" cy="394.2" r="4.6"/><circle cx="347" cy="392.5" r="4.6"/><circle cx="343.3" cy="431.4" r="4.6"/><circle cx="361.6" cy="393.6" r="4.6"/><circle cx="359.5" cy="432.2" r="4.6"/><circle cx="375.7" cy="418.3" r="4.6"/><circle cx="375.8" cy="405.4" r="4.6"/><circle cx="344.6" cy="417" r="4.6"/><circle cx="345.8" cy="403.7" r="4.6"/><circle cx="360.3" cy="417.9" r="4.6"/><circle cx="360.9" cy="404.8" r="4.6"/></g><rect x="131.2" y="1.4" width="440.8" height="70.7" rx="4.2" fill="#fff" fill-opacity="0.8" stroke="#d4d4d4" stroke-width="1.6"/><circle cx="161" cy="20.9" r="4.3" fill="#add8e6" opacity="0.64"/><path d="M161 47.3l5.8 11.5h-11.5z" fill="#f00"/><g font-family="'DejaVu Sans','Liberation Sans',sans-serif" font-size="21.1" fill="#000"><text x="201.1" y="26.6">Three-dimensional simulated data</text><text x="201.1" y="58.7">Two-dimensional simulated data</text></g>
<polygon points="977,653.5 1012.9,604.3 1012,159.6 976,155" fill="#f9f9f9"/>
<polygon points="1012.9,604.3 1605.3,604.3 1606.2,159.6 1012,159.6" fill="#f2f2f2"/>
<polygon points="977,653.5 1641.2,653.5 1605.3,604.3 1012.9,604.3" fill="#f5f5f5"/>
<g stroke-linejoin="round"><polyline points="1019.6,653.5 1050.8,604.3 1050.1,159.6" fill="none" stroke="#b0b0b0" stroke-width="1.24"/><polyline points="1092,653.5 1115.4,604.3 1114.8,159.6" fill="none" stroke="#b0b0b0" stroke-width="1.24"/><polyline points="1164.4,653.5 1180,604.3 1179.6,159.6" fill="none" stroke="#b0b0b0" stroke-width="1.24"/><polyline points="1236.7,653.5 1244.5,604.3 1244.3,159.6" fill="none" stroke="#b0b0b0" stroke-width="1.24"/><polyline points="1309.1,653.5 1309.1,604.3 1309.1,159.6" fill="none" stroke="#b0b0b0" stroke-width="1.24"/><polyline points="1381.5,653.5 1373.7,604.3 1373.9,159.6" fill="none" stroke="#b0b0b0" stroke-width="1.24"/><polyline points="1453.8,653.5 1438.2,604.3 1438.6,159.6" fill="none" stroke="#b0b0b0" stroke-width="1.24"/><polyline points="1526.2,653.5 1502.8,604.3 1503.4,159.6" fill="none" stroke="#b0b0b0" stroke-width="1.24"/><polyline points="1598.6,653.5 1567.4,604.3 1568.1,159.6" fill="none" stroke="#b0b0b0" stroke-width="1.24"/><polyline points="978.2,155.3 979.3,650.4 1638.9,650.4" fill="none" stroke="#b0b0b0" stroke-width="1.24"/><polyline points="982.6,155.8 983.6,644.5 1634.6,644.5" fill="none" stroke="#b0b0b0" stroke-width="1.24"/><polyline points="986.8,156.3 987.8,638.7 1630.4,638.7" fill="none" stroke="#b0b0b0" stroke-width="1.24"/><polyline points="991,156.9 992,633 1626.2,633" fill="none" stroke="#b0b0b0" stroke-width="1.24"/><polyline points="995,157.4 996,627.5 1622.2,627.5" fill="none" stroke="#b0b0b0" stroke-width="1.24"/><polyline points="999,157.9 999.9,622.1 1618.3,622.1" fill="none" stroke="#b0b0b0" stroke-width="1.24"/><polyline points="1002.8,158.4 1003.7,616.9 1614.5,616.9" fill="none" stroke="#b0b0b0" stroke-width="1.24"/><polyline points="1006.5,158.9 1007.4,611.8 1610.8,611.8" fill="none" stroke="#b0b0b0" stroke-width="1.24"/><polyline points="1010.2,159.3 1011.1,606.8 1607.1,606.8" fill="none" stroke="#b0b0b0" stroke-width="1.24"/><polyline points="976.9,565.6 1012.7,525.8 1605.5,525.8" fill="none" stroke="#b0b0b0" stroke-width="1.24"/><polyline points="976.6,467.7 1012.5,438.5 1605.7,438.5" fill="none" stroke="#b0b0b0" stroke-width="1.24"/><polyline points="976.4,369.7 1012.4,351.1 1605.8,351.1" fill="none" stroke="#b0b0b0" stroke-width="1.24"/><polyline points="976.2,271.7 1012.2,263.6 1606,263.6" fill="none" stroke="#b0b0b0" stroke-width="1.24"/><polyline points="976,173.4 1012,176 1606.2,176" fill="none" stroke="#b0b0b0" stroke-width="1.24"/></g>
<polyline points="977,653.5 1641.2,653.5" fill="none" stroke="#000" stroke-width="1.42"/>
<polyline points="1641.2,653.5 1605.3,604.3" fill="none" stroke="#000" stroke-width="1.42"/>
<polyline points="1605.3,604.3 1606.2,159.6" fill="none" stroke="#000" stroke-width="1.42"/>
<polyline points="1019,654.4 1019.9,653.1" fill="none" stroke="#000" stroke-width="1.42"/><polyline points="1091.6,654.4 1092.2,653.1" fill="none" stroke="#000" stroke-width="1.42"/><polyline points="1164.1,654.4 1164.5,653.1" fill="none" stroke="#000" stroke-width="1.42"/><polyline points="1236.6,654.4 1236.8,653.1" fill="none" stroke="#000" stroke-width="1.42"/><polyline points="1309.1,654.4 1309.1,653.1" fill="none" stroke="#000" stroke-width="1.42"/><polyline points="1381.6,654.4 1381.4,653.1" fill="none" stroke="#000" stroke-width="1.42"/><polyline points="1454.1,654.4 1453.7,653.1" fill="none" stroke="#000" stroke-width="1.42"/><polyline points="1526.6,654.4 1526,653.1" fill="none" stroke="#000" stroke-width="1.42"/><polyline points="1599.2,654.4 1598.3,653.1" fill="none" stroke="#000" stroke-width="1.42"/><polyline points="1649.5,650.4 1633.6,650.4" fill="none" stroke="#000" stroke-width="1.42"/><polyline points="1645,644.5 1629.4,644.5" fill="none" stroke="#000" stroke-width="1.42"/><polyline points="1640.6,638.7 1625.2,638.7" fill="none" stroke="#000" stroke-width="1.42"/><polyline points="1636.4,633 1621.2,633" fill="none" stroke="#000" stroke-width="1.42"/><polyline points="1632.2,627.5 1617.2,627.5" fill="none" stroke="#000" stroke-width="1.42"/><polyline points="1628.2,622.1 1613.4,622.1" fill="none" stroke="#000" stroke-width="1.42"/><polyline points="1624.3,616.9 1609.6,616.9" fill="none" stroke="#000" stroke-width="1.42"/><polyline points="1620.4,611.8 1605.9,611.8" fill="none" stroke="#000" stroke-width="1.42"/><polyline points="1616.7,606.8 1602.4,606.8" fill="none" stroke="#000" stroke-width="1.42"/><polyline points="1615,525.8 1600.7,525.8" fill="none" stroke="#000" stroke-width="1.42"/><polyline points="1615.1,438.5 1600.9,438.5" fill="none" stroke="#000" stroke-width="1.42"/><polyline points="1615.3,351.1 1601.1,351.1" fill="none" stroke="#000" stroke-width="1.42"/><polyline points="1615.5,263.6 1601.2,263.6" fill="none" stroke="#000" stroke-width="1.42"/><polyline points="1615.7,176 1601.4,176" fill="none" stroke="#000" stroke-width="1.42"/>
<g font-family="'DejaVu Sans','Liberation Sans',sans-serif" font-size="26.2" text-anchor="middle" dominant-baseline="central" fill="#000"><text x="1019.6" y="681.4">−20</text><text x="1092" y="681.4">−15</text><text x="1164.4" y="681.4">−10</text><text x="1236.7" y="681.4">−5</text><text x="1309.1" y="681.4">0</text><text x="1381.5" y="681.4">5</text><text x="1453.8" y="681.4">10</text><text x="1526.2" y="681.4">15</text><text x="1598.6" y="681.4">20</text><text x="1621.5" y="537.2">10</text><text x="1621.7" y="449.9">15</text><text x="1621.8" y="362.5">20</text><text x="1622" y="275">25</text><text x="1622.2" y="187.4">30</text><text x="1308" y="706">X (mm)</text><text x="1681" y="667.5" transform="rotate(55 1681 667.5)">Y (mm)</text><text x="1654.5" y="379" transform="rotate(-90 1654.5 379)">Velocity (m/s)</text></g>
<g fill="#f00"><path d="M1036.5 590.1l7.5 15.1h-15.1z" opacity="0.30"/><path d="M1581.7 590.1l7.5 15.1h-15.1z" opacity="0.30"/><path d="M1579.2 468.5l7.5 15.1h-15.1z" opacity="0.51"/><path d="M1039 468.5l7.5 15.1h-15.1z" opacity="0.51"/><path d="M1041.6 416.1l7.5 15.1h-15.1z" opacity="0.60"/><path d="M1576.6 416.1l7.5 15.1h-15.1z" opacity="0.60"/><path d="M1573.9 390.2l7.5 15.1h-15.1z" opacity="0.64"/><path d="M1044.3 390.2l7.5 15.1h-15.1z" opacity="0.64"/><path d="M1047.1 370.1l7.5 15.1h-15.1z" opacity="0.67"/><path d="M1571.1 370.1l7.5 15.1h-15.1z" opacity="0.67"/><path d="M1568.4 356.3l7.5 15.1h-15.1z" opacity="0.70"/><path d="M1049.8 356.3l7.5 15.1h-15.1z" opacity="0.70"/><path d="M1052.5 344.9l7.5 15.1h-15.1z" opacity="0.72"/><path d="M1565.7 344.9l7.5 15.1h-15.1z" opacity="0.72"/><path d="M1563 334.3l7.5 15.1h-15.1z" opacity="0.73"/><path d="M1055.2 334.3l7.5 15.1h-15.1z" opacity="0.73"/><path d="M1058 324.9l7.5 15.1h-15.1z" opacity="0.75"/><path d="M1560.2 324.9l7.5 15.1h-15.1z" opacity="0.75"/><path d="M1557.5 317.5l7.5 15.1h-15.1z" opacity="0.76"/><path d="M1060.7 317.5l7.5 15.1h-15.1z" opacity="0.76"/><path d="M1063.4 311.2l7.5 15.1h-15.1z" opacity="0.77"/><path d="M1554.8 311.2l7.5 15.1h-15.1z" opacity="0.77"/><path d="M1552 305.5l7.5 15.1h-15.1z" opacity="0.78"/><path d="M1066.2 305.5l7.5 15.1h-15.1z" opacity="0.78"/><path d="M1068.9 300.2l7.5 15.1h-15.1z" opacity="0.79"/><path d="M1549.3 300.2l7.5 15.1h-15.1z" opacity="0.79"/><path d="M1546.6 295.3l7.5 15.1h-15.1z" opacity="0.80"/><path d="M1071.6 295.3l7.5 15.1h-15.1z" opacity="0.80"/><path d="M1074.4 290.9l7.5 15.1h-15.1z" opacity="0.81"/><path d="M1543.8 290.9l7.5 15.1h-15.1z" opacity="0.81"/><path d="M1541.1 286.7l7.5 15.1h-15.1z" opacity="0.82"/><path d="M1077.1 286.7l7.5 15.1h-15.1z" opacity="0.82"/><path d="M1079.8 282.9l7.5 15.1h-15.1z" opacity="0.82"/><path d="M1538.4 282.9l7.5 15.1h-15.1z" opacity="0.82"/><path d="M1535.6 279.4l7.5 15.1h-15.1z" opacity="0.83"/><path d="M1082.6 279.4l7.5 15.1h-15.1z" opacity="0.83"/><path d="M1085.3 276l7.5 15.1h-15.1z" opacity="0.83"/><path d="M1532.9 276l7.5 15.1h-15.1z" opacity="0.83"/><path d="M1530.1 272.8l7.5 15.1h-15.1z" opacity="0.84"/><path d="M1088.1 272.8l7.5 15.1h-15.1z" opacity="0.84"/><path d="M1090.8 269.9l7.5 15.1h-15.1z" opacity="0.84"/><path d="M1527.4 269.9l7.5 15.1h-15.1z" opacity="0.84"/><path d="M1524.6 267l7.5 15.1h-15.1z" opacity="0.85"/><path d="M1093.6 267l7.5 15.1h-15.1z" opacity="0.85"/><path d="M1096.3 264.3l7.5 15.1h-15.1z" opacity="0.85"/><path d="M1521.9 264.3l7.5 15.1h-15.1z" opacity="0.85"/><path d="M1519.2 261.8l7.5 15.1h-15.1z" opacity="0.86"/><path d="M1099 261.8l7.5 15.1h-15.1z" opacity="0.86"/><path d="M1101.8 259.3l7.5 15.1h-15.1z" opacity="0.86"/><path d="M1516.4 259.3l7.5 15.1h-15.1z" opacity="0.86"/><path d="M1513.7 257l7.5 15.1h-15.1z" opacity="0.87"/><path d="M1104.5 257l7.5 15.1h-15.1z" opacity="0.87"/><path d="M1107.3 254.7l7.5 15.1h-15.1z" opacity="0.87"/><path d="M1510.9 254.7l7.5 15.1h-15.1z" opacity="0.87"/><path d="M1508.2 252.5l7.5 15.1h-15.1z" opacity="0.87"/><path d="M1110 252.5l7.5 15.1h-15.1z" opacity="0.87"/><path d="M1112.8 250.4l7.5 15.1h-15.1z" opacity="0.88"/><path d="M1505.4 250.4l7.5 15.1h-15.1z" opacity="0.88"/><path d="M1502.7 248.2l7.5 15.1h-15.1z" opacity="0.88"/><path d="M1115.5 248.2l7.5 15.1h-15.1z" opacity="0.88"/><path d="M1118.2 246.1l7.5 15.1h-15.1z" opacity="0.88"/><path d="M1500 246.1l7.5 15.1h-15.1z" opacity="0.88"/><path d="M1497.2 244.1l7.5 15.1h-15.1z" opacity="0.89"/><path d="M1121 244.1l7.5 15.1h-15.1z" opacity="0.89"/><path d="M1123.7 242l7.5 15.1h-15.1z" opacity="0.89"/><path d="M1494.5 242l7.5 15.1h-15.1z" opacity="0.89"/><path d="M1491.7 240l7.5 15.1h-15.1z" opacity="0.90"/><path d="M1126.5 240l7.5 15.1h-15.1z" opacity="0.90"/><path d="M1129.2 237.9l7.5 15.1h-15.1z" opacity="0.90"/><path d="M1489 237.9l7.5 15.1h-15.1z" opacity="0.90"/><path d="M1486.2 235.9l7.5 15.1h-15.1z" opacity="0.90"/><path d="M1132 235.9l7.5 15.1h-15.1z" opacity="0.90"/><path d="M1134.7 234l7.5 15.1h-15.1z" opacity="0.91"/><path d="M1483.5 234l7.5 15.1h-15.1z" opacity="0.91"/><path d="M1480.8 232l7.5 15.1h-15.1z" opacity="0.91"/><path d="M1137.4 232l7.5 15.1h-15.1z" opacity="0.91"/><path d="M1140.2 230.1l7.5 15.1h-15.1z" opacity="0.91"/><path d="M1478 230.1l7.5 15.1h-15.1z" opacity="0.91"/><path d="M1475.3 228.3l7.5 15.1h-15.1z" opacity="0.92"/><path d="M1142.9 228.3l7.5 15.1h-15.1z" opacity="0.92"/><path d="M1145.7 226.4l7.5 15.1h-15.1z" opacity="0.92"/><path d="M1472.5 226.4l7.5 15.1h-15.1z" opacity="0.92"/><path d="M1469.8 224.6l7.5 15.1h-15.1z" opacity="0.92"/><path d="M1148.4 224.6l7.5 15.1h-15.1z" opacity="0.92"/><path d="M1151.2 222.9l7.5 15.1h-15.1z" opacity="0.92"/><path d="M1467 222.9l7.5 15.1h-15.1z" opacity="0.92"/><path d="M1464.3 221.2l7.5 15.1h-15.1z" opacity="0.93"/><path d="M1153.9 221.2l7.5 15.1h-15.1z" opacity="0.93"/><path d="M1156.7 219.5l7.5 15.1h-15.1z" opacity="0.93"/><path d="M1461.5 219.5l7.5 15.1h-15.1z" opacity="0.93"/><path d="M1458.8 217.9l7.5 15.1h-15.1z" opacity="0.93"/><path d="M1159.4 217.9l7.5 15.1h-15.1z" opacity="0.93"/><path d="M1162.2 216.3l7.5 15.1h-15.1z" opacity="0.94"/><path d="M1456 216.3l7.5 15.1h-15.1z" opacity="0.94"/><path d="M1453.3 214.8l7.5 15.1h-15.1z" opacity="0.94"/><path d="M1164.9 214.8l7.5 15.1h-15.1z" opacity="0.94"/><path d="M1167.6 213.4l7.5 15.1h-15.1z" opacity="0.94"/><path d="M1450.6 213.4l7.5 15.1h-15.1z" opacity="0.94"/><path d="M1447.8 212l7.5 15.1h-15.1z" opacity="0.94"/><path d="M1170.4 212l7.5 15.1h-15.1z" opacity="0.94"/><path d="M1173.1 210.6l7.5 15.1h-15.1z" opacity="0.95"/><path d="M1445.1 210.6l7.5 15.1h-15.1z" opacity="0.95"/><path d="M1442.3 209.4l7.5 15.1h-15.1z" opacity="0.95"/><path d="M1175.9 209.4l7.5 15.1h-15.1z" opacity="0.95"/><path d="M1178.6 208.1l7.5 15.1h-15.1z" opacity="0.95"/><path d="M1439.6 208.1l7.5 15.1h-15.1z" opacity="0.95"/><path d="M1436.8 207l7.5 15.1h-15.1z" opacity="0.95"/><path d="M1181.4 207l7.5 15.1h-15.1z" opacity="0.95"/><path d="M1184.1 205.9l7.5 15.1h-15.1z" opacity="0.95"/><path d="M1434.1 205.9l7.5 15.1h-15.1z" opacity="0.95"/><path d="M1431.3 204.8l7.5 15.1h-15.1z" opacity="0.96"/><path d="M1186.9 204.8l7.5 15.1h-15.1z" opacity="0.96"/><path d="M1189.6 203.8l7.5 15.1h-15.1z" opacity="0.96"/><path d="M1428.6 203.8l7.5 15.1h-15.1z" opacity="0.96"/><path d="M1425.8 202.7l7.5 15.1h-15.1z" opacity="0.96"/><path d="M1192.4 202.7l7.5 15.1h-15.1z" opacity="0.96"/><path d="M1195.1 201.7l7.5 15.1h-15.1z" opacity="0.96"/><path d="M1423.1 201.7l7.5 15.1h-15.1z" opacity="0.96"/><path d="M1420.4 200.7l7.5 15.1h-15.1z" opacity="0.96"/><path d="M1197.8 200.7l7.5 15.1h-15.1z" opacity="0.96"/><path d="M1200.6 199.8l7.5 15.1h-15.1z" opacity="0.96"/><path d="M1417.6 199.8l7.5 15.1h-15.1z" opacity="0.96"/><path d="M1414.9 198.8l7.5 15.1h-15.1z" opacity="0.97"/><path d="M1203.3 198.8l7.5 15.1h-15.1z" opacity="0.97"/><path d="M1206.1 197.9l7.5 15.1h-15.1z" opacity="0.97"/><path d="M1412.1 197.9l7.5 15.1h-15.1z" opacity="0.97"/><path d="M1409.4 197.1l7.5 15.1h-15.1z" opacity="0.97"/><path d="M1208.8 197.1l7.5 15.1h-15.1z" opacity="0.97"/><path d="M1406.6 196.2l7.5 15.1h-15.1z" opacity="0.97"/><path d="M1211.6 196.2l7.5 15.1h-15.1z" opacity="0.97"/><path d="M1214.3 195.4l7.5 15.1h-15.1z" opacity="0.97"/><path d="M1403.9 195.4l7.5 15.1h-15.1z" opacity="0.97"/><path d="M1401.1 194.6l7.5 15.1h-15.1z" opacity="0.97"/><path d="M1217.1 194.6l7.5 15.1h-15.1z" opacity="0.97"/><path d="M1219.8 193.8l7.5 15.1h-15.1z" opacity="0.97"/><path d="M1398.4 193.8l7.5 15.1h-15.1z" opacity="0.97"/><path d="M1395.6 193l7.5 15.1h-15.1z" opacity="0.98"/><path d="M1222.6 193l7.5 15.1h-15.1z" opacity="0.98"/><path d="M1225.3 192.3l7.5 15.1h-15.1z" opacity="0.98"/><path d="M1392.9 192.3l7.5 15.1h-15.1z" opacity="0.98"/><path d="M1390.1 191.6l7.5 15.1h-15.1z" opacity="0.98"/><path d="M1228.1 191.6l7.5 15.1h-15.1z" opacity="0.98"/><path d="M1230.8 190.9l7.5 15.1h-15.1z" opacity="0.98"/><path d="M1387.4 190.9l7.5 15.1h-15.1z" opacity="0.98"/><path d="M1384.6 190.2l7.5 15.1h-15.1z" opacity="0.98"/><path d="M1233.6 190.2l7.5 15.1h-15.1z" opacity="0.98"/><path d="M1236.3 189.6l7.5 15.1h-15.1z" opacity="0.98"/><path d="M1381.9 189.6l7.5 15.1h-15.1z" opacity="0.98"/><path d="M1379.2 189l7.5 15.1h-15.1z" opacity="0.98"/><path d="M1239 189l7.5 15.1h-15.1z" opacity="0.98"/><path d="M1241.8 188.4l7.5 15.1h-15.1z" opacity="0.98"/><path d="M1376.4 188.4l7.5 15.1h-15.1z" opacity="0.98"/><path d="M1373.7 187.8l7.5 15.1h-15.1z" opacity="0.98"/><path d="M1244.5 187.8l7.5 15.1h-15.1z" opacity="0.98"/><path d="M1247.3 187.3l7.5 15.1h-15.1z" opacity="0.99"/><path d="M1370.9 187.3l7.5 15.1h-15.1z" opacity="0.99"/><path d="M1368.2 186.8l7.5 15.1h-15.1z" opacity="0.99"/><path d="M1250 186.8l7.5 15.1h-15.1z" opacity="0.99"/><path d="M1252.8 186.2l7.5 15.1h-15.1z" opacity="0.99"/><path d="M1365.4 186.2l7.5 15.1h-15.1z" opacity="0.99"/><path d="M1362.7 185.7l7.5 15.1h-15.1z" opacity="0.99"/><path d="M1255.5 185.7l7.5 15.1h-15.1z" opacity="0.99"/><path d="M1258.3 185.2l7.5 15.1h-15.1z" opacity="0.99"/><path d="M1359.9 185.2l7.5 15.1h-15.1z" opacity="0.99"/><path d="M1357.2 184.7l7.5 15.1h-15.1z" opacity="0.99"/><path d="M1261 184.7l7.5 15.1h-15.1z" opacity="0.99"/><path d="M1263.8 184.2l7.5 15.1h-15.1z" opacity="0.99"/><path d="M1354.4 184.2l7.5 15.1h-15.1z" opacity="0.99"/><path d="M1266.5 183.7l7.5 15.1h-15.1z" opacity="0.99"/><path d="M1351.7 183.7l7.5 15.1h-15.1z" opacity="0.99"/><path d="M1348.9 183.3l7.5 15.1h-15.1z" opacity="0.99"/><path d="M1269.3 183.3l7.5 15.1h-15.1z" opacity="0.99"/><path d="M1272 182.8l7.5 15.1h-15.1z" opacity="0.99"/><path d="M1346.2 182.8l7.5 15.1h-15.1z" opacity="0.99"/><path d="M1343.4 182.4l7.5 15.1h-15.1z" opacity="0.99"/><path d="M1274.8 182.4l7.5 15.1h-15.1z" opacity="0.99"/><path d="M1277.5 182l7.5 15.1h-15.1z" opacity="0.99"/><path d="M1340.7 182l7.5 15.1h-15.1z" opacity="0.99"/><path d="M1337.9 181.5l7.5 15.1h-15.1z" opacity="0.99"/><path d="M1280.3 181.5l7.5 15.1h-15.1z" opacity="0.99"/><path d="M1283 181.1l7.5 15.1h-15.1z" opacity="1.00"/><path d="M1335.2 181.1l7.5 15.1h-15.1z" opacity="1.00"/><path d="M1332.5 180.8l7.5 15.1h-15.1z" opacity="1.00"/><path d="M1285.7 180.8l7.5 15.1h-15.1z" opacity="1.00"/><path d="M1288.5 180.4l7.5 15.1h-15.1z" opacity="1.00"/><path d="M1329.7 180.4l7.5 15.1h-15.1z" opacity="1.00"/><path d="M1327 180.1l7.5 15.1h-15.1z" opacity="1.00"/><path d="M1291.2 180.1l7.5 15.1h-15.1z" opacity="1.00"/><path d="M1294 179.8l7.5 15.1h-15.1z" opacity="1.00"/><path d="M1324.2 179.8l7.5 15.1h-15.1z" opacity="1.00"/><path d="M1321.5 179.5l7.5 15.1h-15.1z" opacity="1.00"/><path d="M1296.7 179.5l7.5 15.1h-15.1z" opacity="1.00"/><path d="M1318.7 179.2l7.5 15.1h-15.1z" opacity="1.00"/><path d="M1299.5 179.2l7.5 15.1h-15.1z" opacity="1.00"/><path d="M1302.2 178.9l7.5 15.1h-15.1z" opacity="1.00"/><path d="M1316 178.9l7.5 15.1h-15.1z" opacity="1.00"/><path d="M1305 178.7l7.5 15.1h-15.1z" opacity="1.00"/><path d="M1313.2 178.7l7.5 15.1h-15.1z" opacity="1.00"/><path d="M1310.5 178.5l7.5 15.1h-15.1z" opacity="1.00"/><path d="M1307.7 178.5l7.5 15.1h-15.1z" opacity="1.00"/></g>
<g fill="#add8e6" fill-opacity="0.62" class="db"><circle cx="1299" cy="411.1" r="5.5"/><circle cx="1319.2" cy="411.1" r="5.5"/><circle cx="1339.5" cy="411.2" r="5.5"/><circle cx="1278.7" cy="411.2" r="5.5"/><circle cx="1258.7" cy="411.4" r="5.5"/><circle cx="1359.5" cy="411.4" r="5.5"/><circle cx="1319.1" cy="363.7" r="5.5"/><circle cx="1299.1" cy="363.7" r="5.5"/><circle cx="1379.2" cy="411.7" r="5.5"/><circle cx="1239" cy="411.7" r="5.5"/><circle cx="1279.2" cy="363.8" r="5.5"/><circle cx="1339" cy="363.8" r="5.5"/><circle cx="1259.5" cy="364" r="5.5"/><circle cx="1358.7" cy="364" r="5.5"/><circle cx="1398.6" cy="412.1" r="5.5"/><circle cx="1219.6" cy="412.1" r="5.5"/><circle cx="1318.9" cy="336.5" r="5.5"/><circle cx="1299.3" cy="336.5" r="5.5"/><circle cx="1240.2" cy="364.3" r="5.5"/><circle cx="1378" cy="364.3" r="5.5"/><circle cx="1279.7" cy="336.6" r="5.5"/><circle cx="1338.5" cy="336.6" r="5.5"/><circle cx="1357.8" cy="336.8" r="5.5"/><circle cx="1260.4" cy="336.8" r="5.5"/><circle cx="1200.8" cy="412.5" r="5.5"/><circle cx="1417.4" cy="412.5" r="5.5"/><circle cx="1396.9" cy="364.8" r="5.5"/><circle cx="1221.3" cy="364.8" r="5.5"/><circle cx="1299.4" cy="319.2" r="5.5"/><circle cx="1318.8" cy="319.2" r="5.5"/><circle cx="1241.4" cy="337.2" r="5.5"/><circle cx="1376.8" cy="337.2" r="5.5"/><circle cx="1338" cy="319.4" r="5.5"/><circle cx="1280.2" cy="319.4" r="5.5"/><circle cx="1356.9" cy="319.6" r="5.5"/><circle cx="1261.3" cy="319.6" r="5.5"/><circle cx="1203" cy="365.3" r="5.5"/><circle cx="1415.2" cy="365.3" r="5.5"/><circle cx="1182.6" cy="413" r="5.5"/><circle cx="1435.6" cy="413" r="5.5"/><circle cx="1223" cy="337.7" r="5.5"/><circle cx="1395.2" cy="337.7" r="5.5"/><circle cx="1299.6" cy="304.4" r="5.5"/><circle cx="1318.6" cy="304.4" r="5.5"/><circle cx="1375.5" cy="320" r="5.5"/><circle cx="1242.7" cy="320" r="5.5"/><circle cx="1280.8" cy="304.5" r="5.5"/><circle cx="1337.4" cy="304.5" r="5.5"/><circle cx="1262.2" cy="304.8" r="5.5"/><circle cx="1356" cy="304.8" r="5.5"/><circle cx="1413" cy="338.2" r="5.5"/><circle cx="1205.2" cy="338.2" r="5.5"/><circle cx="1224.7" cy="320.5" r="5.5"/><circle cx="1393.5" cy="320.5" r="5.5"/><circle cx="1185.3" cy="365.8" r="5.5"/><circle cx="1432.9" cy="365.8" r="5.5"/><circle cx="1318.4" cy="291.2" r="5.5"/><circle cx="1299.8" cy="291.2" r="5.5"/><circle cx="1244.1" cy="305.3" r="5.5"/><circle cx="1374.1" cy="305.3" r="5.5"/><circle cx="1165.1" cy="413.7" r="5.5"/><circle cx="1453.1" cy="413.7" r="5.5"/><circle cx="1281.3" cy="291.4" r="5.5"/><circle cx="1336.9" cy="291.4" r="5.5"/><circle cx="1263.2" cy="291.8" r="5.5"/><circle cx="1355" cy="291.8" r="5.5"/><circle cx="1207.4" cy="321.1" r="5.5"/><circle cx="1410.8" cy="321.1" r="5.5"/><circle cx="1391.6" cy="305.9" r="5.5"/><circle cx="1226.6" cy="305.9" r="5.5"/><circle cx="1430.1" cy="338.9" r="5.5"/><circle cx="1188.1" cy="338.9" r="5.5"/><circle cx="1300" cy="280.9" r="5.5"/><circle cx="1318.2" cy="280.9" r="5.5"/><circle cx="1372.7" cy="292.3" r="5.5"/><circle cx="1245.5" cy="292.3" r="5.5"/><circle cx="1449.8" cy="366.5" r="5.5"/><circle cx="1168.4" cy="366.5" r="5.5"/><circle cx="1281.9" cy="281.1" r="5.5"/><circle cx="1336.3" cy="281.1" r="5.5"/><circle cx="1264.2" cy="281.4" r="5.5"/><circle cx="1354" cy="281.4" r="5.5"/><circle cx="1148.4" cy="414.3" r="5.5"/><circle cx="1469.8" cy="414.3" r="5.5"/><circle cx="1209.7" cy="306.6" r="5.5"/><circle cx="1408.5" cy="306.6" r="5.5"/><circle cx="1190.9" cy="321.9" r="5.5"/><circle cx="1427.3" cy="321.9" r="5.5"/><circle cx="1389.8" cy="292.9" r="5.5"/><circle cx="1228.4" cy="292.9" r="5.5"/><circle cx="1300.2" cy="272.5" r="5.5"/><circle cx="1318" cy="272.5" r="5.5"/><circle cx="1371.3" cy="281.9" r="5.5"/><circle cx="1246.9" cy="281.9" r="5.5"/><circle cx="1446.4" cy="339.6" r="5.5"/><circle cx="1171.8" cy="339.6" r="5.5"/><circle cx="1335.7" cy="272.6" r="5.5"/><circle cx="1282.5" cy="272.6" r="5.5"/><circle cx="1265.2" cy="273" r="5.5"/><circle cx="1353" cy="273" r="5.5"/><circle cx="1152.4" cy="367.2" r="5.5"/><circle cx="1465.8" cy="367.2" r="5.5"/><circle cx="1212.1" cy="293.7" r="5.5"/><circle cx="1406.1" cy="293.7" r="5.5"/><circle cx="1424.5" cy="307.5" r="5.5"/><circle cx="1193.7" cy="307.5" r="5.5"/><circle cx="1387.9" cy="282.6" r="5.5"/><circle cx="1230.3" cy="282.6" r="5.5"/><circle cx="1443.1" cy="322.6" r="5.5"/><circle cx="1175.1" cy="322.6" r="5.5"/><circle cx="1317.8" cy="264.8" r="5.5"/><circle cx="1300.4" cy="264.8" r="5.5"/><circle cx="1248.4" cy="273.5" r="5.5"/><circle cx="1369.8" cy="273.5" r="5.5"/><circle cx="1335" cy="265" r="5.5"/><circle cx="1283.2" cy="265" r="5.5"/><circle cx="1485.6" cy="415.1" r="5.5"/><circle cx="1132.6" cy="415.1" r="5.5"/><circle cx="1156.3" cy="340.5" r="5.5"/><circle cx="1461.9" cy="340.5" r="5.5"/><circle cx="1266.3" cy="265.4" r="5.5"/><circle cx="1351.9" cy="265.4" r="5.5"/><circle cx="1214.4" cy="283.4" r="5.5"/><circle cx="1403.8" cy="283.4" r="5.5"/><circle cx="1196.5" cy="294.7" r="5.5"/><circle cx="1421.7" cy="294.7" r="5.5"/><circle cx="1476.9" cy="264.9" r="5.5"/><circle cx="1385.9" cy="274.2" r="5.5"/><circle cx="1232.3" cy="274.2" r="5.5"/><circle cx="1178.5" cy="308.4" r="5.5"/><circle cx="1439.7" cy="308.4" r="5.5"/><circle cx="1368.3" cy="266" r="5.5"/><circle cx="1249.9" cy="266" r="5.5"/><circle cx="1300.6" cy="257.9" r="5.5"/><circle cx="1317.6" cy="257.9" r="5.5"/><circle cx="1137.2" cy="368" r="5.5"/><circle cx="1481" cy="368" r="5.5"/><circle cx="1283.9" cy="258.1" r="5.5"/><circle cx="1334.3" cy="258.1" r="5.5"/><circle cx="1160.2" cy="323.5" r="5.5"/><circle cx="1458" cy="323.5" r="5.5"/><circle cx="1401.3" cy="275" r="5.5"/><circle cx="1216.9" cy="275" r="5.5"/><circle cx="1199.4" cy="284.3" r="5.5"/><circle cx="1418.8" cy="284.3" r="5.5"/><circle cx="1267.4" cy="258.5" r="5.5"/><circle cx="1350.8" cy="258.5" r="5.5"/><circle cx="1234.3" cy="266.7" r="5.5"/><circle cx="1383.9" cy="266.7" r="5.5"/><circle cx="1181.8" cy="295.8" r="5.5"/><circle cx="1436.4" cy="295.8" r="5.5"/><circle cx="1251.5" cy="259.1" r="5.5"/><circle cx="1366.7" cy="259.1" r="5.5"/><circle cx="1141.7" cy="341.4" r="5.5"/><circle cx="1476.5" cy="341.4" r="5.5"/><circle cx="1300.9" cy="251.6" r="5.5"/><circle cx="1317.3" cy="251.6" r="5.5"/><circle cx="1164.1" cy="309.5" r="5.5"/><circle cx="1454.1" cy="309.5" r="5.5"/><circle cx="1117.8" cy="415.7" r="5.5"/><circle cx="1500.4" cy="415.7" r="5.5"/><circle cx="1333.6" cy="251.8" r="5.5"/><circle cx="1284.6" cy="251.8" r="5.5"/><circle cx="1415.9" cy="276" r="5.5"/><circle cx="1202.3" cy="276" r="5.5"/><circle cx="1398.9" cy="267.6" r="5.5"/><circle cx="1219.3" cy="267.6" r="5.5"/><circle cx="1185.2" cy="285.4" r="5.5"/><circle cx="1433" cy="285.4" r="5.5"/><circle cx="1268.6" cy="252.3" r="5.5"/><circle cx="1349.6" cy="252.3" r="5.5"/><circle cx="1381.9" cy="259.9" r="5.5"/><circle cx="1236.3" cy="259.9" r="5.5"/><circle cx="1146.2" cy="324.5" r="5.5"/><circle cx="1472" cy="324.5" r="5.5"/><circle cx="1167.9" cy="297" r="5.5"/><circle cx="1450.3" cy="297" r="5.5"/><circle cx="1495.2" cy="368.5" r="5.5"/><circle cx="1123" cy="368.5" r="5.5"/><circle cx="1365" cy="252.9" r="5.5"/><circle cx="1253.2" cy="252.9" r="5.5"/><circle cx="1301.1" cy="245.5" r="5.5"/><circle cx="1317.1" cy="245.5" r="5.5"/><circle cx="1413" cy="268.6" r="5.5"/><circle cx="1205.2" cy="268.6" r="5.5"/><circle cx="1285.3" cy="245.7" r="5.5"/><circle cx="1332.9" cy="245.7" r="5.5"/><circle cx="1396.4" cy="260.8" r="5.5"/><circle cx="1221.8" cy="260.8" r="5.5"/><circle cx="1429.7" cy="277.1" r="5.5"/><circle cx="1188.5" cy="277.1" r="5.5"/><circle cx="1150.6" cy="310.6" r="5.5"/><circle cx="1467.6" cy="310.6" r="5.5"/><circle cx="1379.8" cy="253.7" r="5.5"/><circle cx="1238.4" cy="253.7" r="5.5"/><circle cx="1348.4" cy="246.2" r="5.5"/><circle cx="1269.8" cy="246.2" r="5.5"/><circle cx="1446.4" cy="286.6" r="5.5"/><circle cx="1171.8" cy="286.6" r="5.5"/><circle cx="1128.2" cy="341.7" r="5.5"/><circle cx="1490" cy="341.7" r="5.5"/><circle cx="1254.8" cy="246.9" r="5.5"/><circle cx="1363.4" cy="246.9" r="5.5"/><circle cx="1208.2" cy="261.9" r="5.5"/><circle cx="1410" cy="261.9" r="5.5"/><circle cx="1514.2" cy="416.1" r="5.5"/><circle cx="1104" cy="416.1" r="5.5"/><circle cx="1316.8" cy="239.5" r="5.5"/><circle cx="1301.4" cy="239.5" r="5.5"/><circle cx="1426.3" cy="269.8" r="5.5"/><circle cx="1191.9" cy="269.8" r="5.5"/><circle cx="1224.4" cy="254.7" r="5.5"/><circle cx="1393.8" cy="254.7" r="5.5"/><circle cx="1463.3" cy="298.3" r="5.5"/><circle cx="1154.9" cy="298.3" r="5.5"/><circle cx="1286" cy="239.8" r="5.5"/><circle cx="1332.2" cy="239.8" r="5.5"/><circle cx="1484.9" cy="324.8" r="5.5"/><circle cx="1133.3" cy="324.8" r="5.5"/><circle cx="1442.6" cy="278.3" r="5.5"/><circle cx="1175.6" cy="278.3" r="5.5"/><circle cx="1377.7" cy="247.8" r="5.5"/><circle cx="1240.5" cy="247.8" r="5.5"/><circle cx="1347.2" cy="240.3" r="5.5"/><circle cx="1271" cy="240.3" r="5.5"/><circle cx="1508.3" cy="368.5" r="5.5"/><circle cx="1109.9" cy="368.5" r="5.5"/><circle cx="1458.9" cy="287.9" r="5.5"/><circle cx="1159.3" cy="287.9" r="5.5"/><circle cx="1256.6" cy="241" r="5.5"/><circle cx="1361.6" cy="241" r="5.5"/><circle cx="1407" cy="255.8" r="5.5"/><circle cx="1211.2" cy="255.8" r="5.5"/><circle cx="1195.3" cy="263.2" r="5.5"/><circle cx="1422.9" cy="263.2" r="5.5"/><circle cx="1138.3" cy="310.9" r="5.5"/><circle cx="1479.9" cy="310.9" r="5.5"/><circle cx="1391.2" cy="248.9" r="5.5"/><circle cx="1227" cy="248.9" r="5.5"/><circle cx="1301.6" cy="233.7" r="5.5"/><circle cx="1316.6" cy="233.7" r="5.5"/><circle cx="1438.7" cy="271.1" r="5.5"/><circle cx="1179.5" cy="271.1" r="5.5"/><circle cx="1286.8" cy="234" r="5.5"/><circle cx="1331.4" cy="234" r="5.5"/><circle cx="1375.5" cy="242" r="5.5"/><circle cx="1242.7" cy="242" r="5.5"/><circle cx="1345.9" cy="234.6" r="5.5"/><circle cx="1272.3" cy="234.6" r="5.5"/><circle cx="1502.5" cy="341.5" r="5.5"/><circle cx="1115.7" cy="341.5" r="5.5"/><circle cx="1454.7" cy="279.6" r="5.5"/><circle cx="1163.5" cy="279.6" r="5.5"/><circle cx="1475" cy="298.5" r="5.5"/><circle cx="1143.2" cy="298.5" r="5.5"/><circle cx="1419.4" cy="257.1" r="5.5"/><circle cx="1198.8" cy="257.1" r="5.5"/><circle cx="1214.2" cy="250.2" r="5.5"/><circle cx="1404" cy="250.2" r="5.5"/><circle cx="1183.3" cy="264.5" r="5.5"/><circle cx="1434.9" cy="264.5" r="5.5"/><circle cx="1258.3" cy="235.4" r="5.5"/><circle cx="1359.9" cy="235.4" r="5.5"/><circle cx="1229.6" cy="243.2" r="5.5"/><circle cx="1388.6" cy="243.2" r="5.5"/><circle cx="1496.8" cy="324.4" r="5.5"/><circle cx="1121.4" cy="324.4" r="5.5"/><circle cx="1301.9" cy="228.3" r="5.5"/><circle cx="1316.3" cy="228.3" r="5.5"/><circle cx="1450.4" cy="272.5" r="5.5"/><circle cx="1167.8" cy="272.5" r="5.5"/><circle cx="1526.9" cy="416.5" r="5.5"/><circle cx="1091.3" cy="416.5" r="5.5"/><circle cx="1148.1" cy="288.1" r="5.5"/><circle cx="1470.1" cy="288.1" r="5.5"/><circle cx="1287.6" cy="228.6" r="5.5"/><circle cx="1330.6" cy="228.6" r="5.5"/><circle cx="1245" cy="236.4" r="5.5"/><circle cx="1373.2" cy="236.4" r="5.5"/><circle cx="1202.2" cy="251.6" r="5.5"/><circle cx="1416" cy="251.6" r="5.5"/><circle cx="1344.6" cy="229.2" r="5.5"/><circle cx="1273.6" cy="229.2" r="5.5"/><circle cx="1187.1" cy="258.6" r="5.5"/><circle cx="1431.1" cy="258.6" r="5.5"/><circle cx="1217.3" cy="244.6" r="5.5"/><circle cx="1400.9" cy="244.6" r="5.5"/><circle cx="1127" cy="310.2" r="5.5"/><circle cx="1491.2" cy="310.2" r="5.5"/><circle cx="1260.1" cy="230" r="5.5"/><circle cx="1358.1" cy="230" r="5.5"/><circle cx="1385.9" cy="237.7" r="5.5"/><circle cx="1232.3" cy="237.7" r="5.5"/><circle cx="1172" cy="266" r="5.5"/><circle cx="1446.2" cy="266" r="5.5"/><circle cx="1152.9" cy="279.8" r="5.5"/><circle cx="1465.3" cy="279.8" r="5.5"/><circle cx="1520.5" cy="368.7" r="5.5"/><circle cx="1097.7" cy="368.7" r="5.5"/><circle cx="1302.2" cy="223.3" r="5.5"/><circle cx="1316" cy="223.3" r="5.5"/><circle cx="1370.9" cy="231.1" r="5.5"/><circle cx="1247.3" cy="231.1" r="5.5"/><circle cx="1412.6" cy="246.2" r="5.5"/><circle cx="1205.6" cy="246.2" r="5.5"/><circle cx="1329.8" cy="223.6" r="5.5"/><circle cx="1288.4" cy="223.6" r="5.5"/><circle cx="1485.6" cy="297.6" r="5.5"/><circle cx="1132.6" cy="297.6" r="5.5"/><circle cx="1427.3" cy="253.1" r="5.5"/><circle cx="1190.9" cy="253.1" r="5.5"/><circle cx="1397.8" cy="239.2" r="5.5"/><circle cx="1220.4" cy="239.2" r="5.5"/><circle cx="1157.7" cy="272.6" r="5.5"/><circle cx="1460.5" cy="272.6" r="5.5"/><circle cx="1514.1" cy="341.4" r="5.5"/><circle cx="1104.1" cy="341.4" r="5.5"/><circle cx="1275" cy="224.2" r="5.5"/><circle cx="1343.2" cy="224.2" r="5.5"/><circle cx="1176.1" cy="260.2" r="5.5"/><circle cx="1442.1" cy="260.2" r="5.5"/><circle cx="1235" cy="232.5" r="5.5"/><circle cx="1383.2" cy="232.5" r="5.5"/><circle cx="1262" cy="225" r="5.5"/><circle cx="1356.2" cy="225" r="5.5"/><circle cx="1480.1" cy="287.1" r="5.5"/><circle cx="1138.1" cy="287.1" r="5.5"/><circle cx="1423.5" cy="247.9" r="5.5"/><circle cx="1194.7" cy="247.9" r="5.5"/><circle cx="1507.9" cy="324.1" r="5.5"/><circle cx="1110.3" cy="324.1" r="5.5"/><circle cx="1209.1" cy="240.9" r="5.5"/><circle cx="1409.1" cy="240.9" r="5.5"/><circle cx="1455.8" cy="266.2" r="5.5"/><circle cx="1162.4" cy="266.2" r="5.5"/><circle cx="1180.3" cy="254.8" r="5.5"/><circle cx="1437.9" cy="254.8" r="5.5"/><circle cx="1249.6" cy="226.1" r="5.5"/><circle cx="1368.6" cy="226.1" r="5.5"/><circle cx="1315.7" cy="218.8" r="5.5"/><circle cx="1302.5" cy="218.8" r="5.5"/><circle cx="1223.5" cy="234" r="5.5"/><circle cx="1394.7" cy="234" r="5.5"/><circle cx="1328.9" cy="219.1" r="5.5"/><circle cx="1289.3" cy="219.1" r="5.5"/><circle cx="1143.6" cy="278.8" r="5.5"/><circle cx="1474.6" cy="278.8" r="5.5"/><circle cx="1079.9" cy="417.1" r="5.5"/><circle cx="1538.3" cy="417.1" r="5.5"/><circle cx="1341.8" cy="219.6" r="5.5"/><circle cx="1276.4" cy="219.6" r="5.5"/><circle cx="1501.7" cy="309.7" r="5.5"/><circle cx="1116.5" cy="309.7" r="5.5"/><circle cx="1237.8" cy="227.5" r="5.5"/><circle cx="1380.4" cy="227.5" r="5.5"/><circle cx="1451.1" cy="260.3" r="5.5"/><circle cx="1167.1" cy="260.3" r="5.5"/><circle cx="1198.5" cy="242.8" r="5.5"/><circle cx="1419.7" cy="242.8" r="5.5"/><circle cx="1354.3" cy="220.5" r="5.5"/><circle cx="1263.9" cy="220.5" r="5.5"/><circle cx="1433.8" cy="249.7" r="5.5"/><circle cx="1184.4" cy="249.7" r="5.5"/><circle cx="1405.6" cy="235.8" r="5.5"/><circle cx="1212.6" cy="235.8" r="5.5"/><circle cx="1469.2" cy="271.5" r="5.5"/><circle cx="1149" cy="271.5" r="5.5"/><circle cx="1226.6" cy="229.2" r="5.5"/><circle cx="1391.6" cy="229.2" r="5.5"/><circle cx="1495.5" cy="296.8" r="5.5"/><circle cx="1122.7" cy="296.8" r="5.5"/><circle cx="1366.2" cy="221.6" r="5.5"/><circle cx="1252" cy="221.6" r="5.5"/><circle cx="1086.7" cy="368.9" r="5.5"/><circle cx="1531.5" cy="368.9" r="5.5"/><circle cx="1171.7" cy="254.9" r="5.5"/><circle cx="1446.5" cy="254.9" r="5.5"/><circle cx="1315.4" cy="214.8" r="5.5"/><circle cx="1302.8" cy="214.8" r="5.5"/><circle cx="1328" cy="215.1" r="5.5"/><circle cx="1290.2" cy="215.1" r="5.5"/><circle cx="1188.5" cy="244.8" r="5.5"/><circle cx="1429.7" cy="244.8" r="5.5"/><circle cx="1202.3" cy="237.8" r="5.5"/><circle cx="1415.9" cy="237.8" r="5.5"/><circle cx="1377.6" cy="223" r="5.5"/><circle cx="1240.6" cy="223" r="5.5"/><circle cx="1340.4" cy="215.6" r="5.5"/><circle cx="1277.8" cy="215.6" r="5.5"/><circle cx="1154.3" cy="264.9" r="5.5"/><circle cx="1463.9" cy="264.9" r="5.5"/><circle cx="1216.1" cy="231" r="5.5"/><circle cx="1402.1" cy="231" r="5.5"/><circle cx="1489.5" cy="286.3" r="5.5"/><circle cx="1128.7" cy="286.3" r="5.5"/><circle cx="1524.7" cy="341.3" r="5.5"/><circle cx="1093.5" cy="341.3" r="5.5"/><circle cx="1265.9" cy="216.4" r="5.5"/><circle cx="1352.3" cy="216.4" r="5.5"/><circle cx="1176.3" cy="249.8" r="5.5"/><circle cx="1441.9" cy="249.8" r="5.5"/><circle cx="1229.8" cy="224.6" r="5.5"/><circle cx="1388.4" cy="224.6" r="5.5"/><circle cx="1363.8" cy="217.5" r="5.5"/><circle cx="1254.4" cy="217.5" r="5.5"/><circle cx="1192.6" cy="240" r="5.5"/><circle cx="1425.6" cy="240" r="5.5"/><circle cx="1159.6" cy="258.9" r="5.5"/><circle cx="1458.6" cy="258.9" r="5.5"/><circle cx="1100.2" cy="323.9" r="5.5"/><circle cx="1518" cy="323.9" r="5.5"/><circle cx="1483.5" cy="277.9" r="5.5"/><circle cx="1134.7" cy="277.9" r="5.5"/><circle cx="1412.1" cy="233.1" r="5.5"/><circle cx="1206.1" cy="233.1" r="5.5"/><circle cx="1303.1" cy="211.5" r="5.5"/><circle cx="1315.1" cy="211.5" r="5.5"/><circle cx="1219.6" cy="226.5" r="5.5"/><circle cx="1398.6" cy="226.5" r="5.5"/><circle cx="1374.7" cy="218.8" r="5.5"/><circle cx="1243.5" cy="218.8" r="5.5"/><circle cx="1327.1" cy="211.8" r="5.5"/><circle cx="1291.1" cy="211.8" r="5.5"/><circle cx="1437.4" cy="244.9" r="5.5"/><circle cx="1180.8" cy="244.9" r="5.5"/><circle cx="1279.3" cy="212.3" r="5.5"/><circle cx="1338.9" cy="212.3" r="5.5"/><circle cx="1511.4" cy="309.2" r="5.5"/><circle cx="1106.8" cy="309.2" r="5.5"/><circle cx="1477.5" cy="270.5" r="5.5"/><circle cx="1140.7" cy="270.5" r="5.5"/><circle cx="1453.3" cy="253.4" r="5.5"/><circle cx="1164.9" cy="253.4" r="5.5"/><circle cx="1196.6" cy="235.4" r="5.5"/><circle cx="1421.6" cy="235.4" r="5.5"/><circle cx="1267.9" cy="213" r="5.5"/><circle cx="1350.3" cy="213" r="5.5"/><circle cx="1233" cy="220.4" r="5.5"/><circle cx="1385.2" cy="220.4" r="5.5"/><circle cx="1209.9" cy="228.6" r="5.5"/><circle cx="1408.3" cy="228.6" r="5.5"/><circle cx="1548.5" cy="417.6" r="5.5"/><circle cx="1069.7" cy="417.6" r="5.5"/><circle cx="1256.9" cy="213.9" r="5.5"/><circle cx="1361.3" cy="213.9" r="5.5"/><circle cx="1185.3" cy="240" r="5.5"/><circle cx="1432.9" cy="240" r="5.5"/><circle cx="1113.4" cy="296.1" r="5.5"/><circle cx="1504.8" cy="296.1" r="5.5"/><circle cx="1395.1" cy="222.3" r="5.5"/><circle cx="1223.1" cy="222.3" r="5.5"/><circle cx="1146.6" cy="263.7" r="5.5"/><circle cx="1471.6" cy="263.7" r="5.5"/><circle cx="1170.1" cy="248.1" r="5.5"/><circle cx="1448.1" cy="248.1" r="5.5"/><circle cx="1371.8" cy="215.2" r="5.5"/><circle cx="1246.4" cy="215.2" r="5.5"/><circle cx="1200.6" cy="231" r="5.5"/><circle cx="1417.6" cy="231" r="5.5"/><circle cx="1303.4" cy="208.6" r="5.5"/><circle cx="1314.8" cy="208.6" r="5.5"/><circle cx="1326.2" cy="208.8" r="5.5"/><circle cx="1292" cy="208.8" r="5.5"/><circle cx="1076.8" cy="369.1" r="5.5"/><circle cx="1541.4" cy="369.1" r="5.5"/><circle cx="1498.2" cy="285.6" r="5.5"/><circle cx="1120" cy="285.6" r="5.5"/><circle cx="1213.7" cy="224.5" r="5.5"/><circle cx="1404.5" cy="224.5" r="5.5"/><circle cx="1280.8" cy="209.3" r="5.5"/><circle cx="1337.4" cy="209.3" r="5.5"/><circle cx="1189.8" cy="235.4" r="5.5"/><circle cx="1428.4" cy="235.4" r="5.5"/><circle cx="1381.9" cy="216.7" r="5.5"/><circle cx="1236.3" cy="216.7" r="5.5"/><circle cx="1152.4" cy="257.6" r="5.5"/><circle cx="1465.8" cy="257.6" r="5.5"/><circle cx="1348.3" cy="210" r="5.5"/><circle cx="1269.9" cy="210" r="5.5"/><circle cx="1443" cy="243" r="5.5"/><circle cx="1175.2" cy="243" r="5.5"/><circle cx="1391.5" cy="218.5" r="5.5"/><circle cx="1226.7" cy="218.5" r="5.5"/><circle cx="1413.6" cy="226.9" r="5.5"/><circle cx="1204.6" cy="226.9" r="5.5"/><circle cx="1259.4" cy="211" r="5.5"/><circle cx="1358.8" cy="211" r="5.5"/><circle cx="1084" cy="341.3" r="5.5"/><circle cx="1534.2" cy="341.3" r="5.5"/><circle cx="1491.7" cy="277.1" r="5.5"/><circle cx="1126.5" cy="277.1" r="5.5"/><circle cx="1424" cy="231.1" r="5.5"/><circle cx="1194.2" cy="231.1" r="5.5"/><circle cx="1368.9" cy="212.1" r="5.5"/><circle cx="1249.3" cy="212.1" r="5.5"/><circle cx="1158.3" cy="252" r="5.5"/><circle cx="1459.9" cy="252" r="5.5"/><circle cx="1217.5" cy="220.7" r="5.5"/><circle cx="1400.7" cy="220.7" r="5.5"/><circle cx="1180.3" cy="238" r="5.5"/><circle cx="1437.9" cy="238" r="5.5"/><circle cx="1091.1" cy="323.8" r="5.5"/><circle cx="1527.1" cy="323.8" r="5.5"/><circle cx="1378.6" cy="213.5" r="5.5"/><circle cx="1239.6" cy="213.5" r="5.5"/><circle cx="1485.3" cy="269.6" r="5.5"/><circle cx="1132.9" cy="269.6" r="5.5"/><circle cx="1409.6" cy="223.1" r="5.5"/><circle cx="1208.6" cy="223.1" r="5.5"/><circle cx="1388" cy="215.2" r="5.5"/><circle cx="1230.2" cy="215.2" r="5.5"/><circle cx="1303.5" cy="205.3" r="5.5"/><circle cx="1314.7" cy="205.3" r="5.5"/><circle cx="1164" cy="246.5" r="5.5"/><circle cx="1454.2" cy="246.5" r="5.5"/><circle cx="1198.6" cy="226.9" r="5.5"/><circle cx="1419.6" cy="226.9" r="5.5"/><circle cx="1292.5" cy="205.5" r="5.5"/><circle cx="1325.7" cy="205.5" r="5.5"/><circle cx="1098.1" cy="308.9" r="5.5"/><circle cx="1520.1" cy="308.9" r="5.5"/><circle cx="1336.6" cy="206" r="5.5"/><circle cx="1281.6" cy="206" r="5.5"/><circle cx="1432.8" cy="233.2" r="5.5"/><circle cx="1185.4" cy="233.2" r="5.5"/><circle cx="1478.9" cy="262.7" r="5.5"/><circle cx="1139.3" cy="262.7" r="5.5"/><circle cx="1397" cy="217.2" r="5.5"/><circle cx="1221.2" cy="217.2" r="5.5"/><circle cx="1347.2" cy="206.7" r="5.5"/><circle cx="1271" cy="206.7" r="5.5"/><circle cx="1212.5" cy="219.6" r="5.5"/><circle cx="1405.7" cy="219.6" r="5.5"/><circle cx="1513.1" cy="295.6" r="5.5"/><circle cx="1105.1" cy="295.6" r="5.5"/><circle cx="1260.8" cy="207.6" r="5.5"/><circle cx="1357.4" cy="207.6" r="5.5"/><circle cx="1169.7" cy="241.2" r="5.5"/><circle cx="1448.5" cy="241.2" r="5.5"/><circle cx="1203" cy="223.1" r="5.5"/><circle cx="1415.2" cy="223.1" r="5.5"/><circle cx="1472.5" cy="256.5" r="5.5"/><circle cx="1145.7" cy="256.5" r="5.5"/><circle cx="1251" cy="208.8" r="5.5"/><circle cx="1367.2" cy="208.8" r="5.5"/><circle cx="1427.8" cy="228.8" r="5.5"/><circle cx="1190.4" cy="228.8" r="5.5"/><circle cx="1060.8" cy="418.3" r="5.5"/><circle cx="1557.4" cy="418.3" r="5.5"/><circle cx="1506.2" cy="285" r="5.5"/><circle cx="1112" cy="285" r="5.5"/><circle cx="1376.7" cy="210.2" r="5.5"/><circle cx="1241.5" cy="210.2" r="5.5"/><circle cx="1175.4" cy="236.1" r="5.5"/><circle cx="1442.8" cy="236.1" r="5.5"/><circle cx="1466.2" cy="250.8" r="5.5"/><circle cx="1152" cy="250.8" r="5.5"/><circle cx="1385.8" cy="211.7" r="5.5"/><circle cx="1232.4" cy="211.7" r="5.5"/><circle cx="1207.3" cy="219.6" r="5.5"/><circle cx="1410.9" cy="219.6" r="5.5"/><circle cx="1195.4" cy="224.6" r="5.5"/><circle cx="1422.8" cy="224.6" r="5.5"/><circle cx="1118.9" cy="276.4" r="5.5"/><circle cx="1499.3" cy="276.4" r="5.5"/><circle cx="1549.9" cy="369.4" r="5.5"/><circle cx="1068.3" cy="369.4" r="5.5"/><circle cx="1394.5" cy="213.5" r="5.5"/><circle cx="1223.7" cy="213.5" r="5.5"/><circle cx="1314.7" cy="201.8" r="5.5"/><circle cx="1303.5" cy="201.8" r="5.5"/><circle cx="1181" cy="231.2" r="5.5"/><circle cx="1437.2" cy="231.2" r="5.5"/><circle cx="1215.2" cy="215.7" r="5.5"/><circle cx="1403" cy="215.7" r="5.5"/><circle cx="1459.9" cy="245.1" r="5.5"/><circle cx="1158.3" cy="245.1" r="5.5"/><circle cx="1292.5" cy="202" r="5.5"/><circle cx="1325.7" cy="202" r="5.5"/><circle cx="1492.4" cy="268.8" r="5.5"/><circle cx="1125.8" cy="268.8" r="5.5"/><circle cx="1336.6" cy="202.5" r="5.5"/><circle cx="1281.6" cy="202.5" r="5.5"/><circle cx="1075.7" cy="341.4" r="5.5"/><circle cx="1542.5" cy="341.4" r="5.5"/><circle cx="1417.9" cy="220.7" r="5.5"/><circle cx="1200.3" cy="220.7" r="5.5"/><circle cx="1271.2" cy="203.2" r="5.5"/><circle cx="1347" cy="203.2" r="5.5"/><circle cx="1453.7" cy="239.6" r="5.5"/><circle cx="1164.5" cy="239.6" r="5.5"/><circle cx="1186.6" cy="226.7" r="5.5"/><circle cx="1431.6" cy="226.7" r="5.5"/><circle cx="1083" cy="323.7" r="5.5"/><circle cx="1535.2" cy="323.7" r="5.5"/><circle cx="1485.6" cy="261.9" r="5.5"/><circle cx="1132.6" cy="261.9" r="5.5"/><circle cx="1261.1" cy="204.1" r="5.5"/><circle cx="1357.1" cy="204.1" r="5.5"/><circle cx="1251.5" cy="205.2" r="5.5"/><circle cx="1366.7" cy="205.2" r="5.5"/><circle cx="1413" cy="217.3" r="5.5"/><circle cx="1205.2" cy="217.3" r="5.5"/><circle cx="1090.4" cy="308.6" r="5.5"/><circle cx="1527.8" cy="308.6" r="5.5"/><circle cx="1478.8" cy="255.6" r="5.5"/><circle cx="1139.4" cy="255.6" r="5.5"/><circle cx="1447.5" cy="234.4" r="5.5"/><circle cx="1170.7" cy="234.4" r="5.5"/><circle cx="1242.3" cy="206.6" r="5.5"/><circle cx="1375.9" cy="206.6" r="5.5"/><circle cx="1426" cy="222.5" r="5.5"/><circle cx="1192.2" cy="222.5" r="5.5"/><circle cx="1404.8" cy="213.6" r="5.5"/><circle cx="1213.4" cy="213.6" r="5.5"/><circle cx="1233.4" cy="208.1" r="5.5"/><circle cx="1384.8" cy="208.1" r="5.5"/><circle cx="1520.5" cy="295.2" r="5.5"/><circle cx="1097.7" cy="295.2" r="5.5"/><circle cx="1146.2" cy="249.7" r="5.5"/><circle cx="1472" cy="249.7" r="5.5"/><circle cx="1224.9" cy="209.9" r="5.5"/><circle cx="1393.3" cy="209.9" r="5.5"/><circle cx="1176.8" cy="229.4" r="5.5"/><circle cx="1441.4" cy="229.4" r="5.5"/><circle cx="1314.7" cy="198.8" r="5.5"/><circle cx="1303.5" cy="198.8" r="5.5"/><circle cx="1104.9" cy="284.5" r="5.5"/><circle cx="1513.3" cy="284.5" r="5.5"/><circle cx="1197.7" cy="218.7" r="5.5"/><circle cx="1420.5" cy="218.7" r="5.5"/><circle cx="1325.8" cy="199" r="5.5"/><circle cx="1292.4" cy="199" r="5.5"/><circle cx="1336.5" cy="199.4" r="5.5"/><circle cx="1281.7" cy="199.4" r="5.5"/><circle cx="1152.9" cy="243.9" r="5.5"/><circle cx="1465.3" cy="243.9" r="5.5"/><circle cx="1112.2" cy="275.9" r="5.5"/><circle cx="1506" cy="275.9" r="5.5"/><circle cx="1271.4" cy="200.1" r="5.5"/><circle cx="1346.8" cy="200.1" r="5.5"/><circle cx="1182.9" cy="224.8" r="5.5"/><circle cx="1435.3" cy="224.8" r="5.5"/><circle cx="1053.4" cy="419" r="5.5"/><circle cx="1564.8" cy="419" r="5.5"/><circle cx="1203.1" cy="215.3" r="5.5"/><circle cx="1415.1" cy="215.3" r="5.5"/><circle cx="1356.7" cy="201" r="5.5"/><circle cx="1261.5" cy="201" r="5.5"/><circle cx="1159.6" cy="238.3" r="5.5"/><circle cx="1458.6" cy="238.3" r="5.5"/><circle cx="1498.8" cy="268.2" r="5.5"/><circle cx="1119.4" cy="268.2" r="5.5"/><circle cx="1252.2" cy="202.1" r="5.5"/><circle cx="1366" cy="202.1" r="5.5"/><circle cx="1189" cy="220.6" r="5.5"/><circle cx="1429.2" cy="220.6" r="5.5"/><circle cx="1406.6" cy="211.8" r="5.5"/><circle cx="1211.6" cy="211.8" r="5.5"/><circle cx="1061" cy="369.8" r="5.5"/><circle cx="1557.2" cy="369.8" r="5.5"/><circle cx="1491.6" cy="261.1" r="5.5"/><circle cx="1126.6" cy="261.1" r="5.5"/><circle cx="1166.2" cy="232.9" r="5.5"/><circle cx="1452" cy="232.9" r="5.5"/><circle cx="1375" cy="203.4" r="5.5"/><circle cx="1243.2" cy="203.4" r="5.5"/><circle cx="1223.2" cy="208.1" r="5.5"/><circle cx="1395" cy="208.1" r="5.5"/><circle cx="1068.6" cy="341.6" r="5.5"/><circle cx="1549.6" cy="341.6" r="5.5"/><circle cx="1383.5" cy="204.9" r="5.5"/><circle cx="1234.7" cy="204.9" r="5.5"/><circle cx="1133.7" cy="254.8" r="5.5"/><circle cx="1484.5" cy="254.8" r="5.5"/><circle cx="1195" cy="216.9" r="5.5"/><circle cx="1423.2" cy="216.9" r="5.5"/><circle cx="1445.4" cy="227.9" r="5.5"/><circle cx="1172.8" cy="227.9" r="5.5"/><circle cx="1076.2" cy="323.8" r="5.5"/><circle cx="1542" cy="323.8" r="5.5"/><circle cx="1303.5" cy="196.2" r="5.5"/><circle cx="1314.7" cy="196.2" r="5.5"/><circle cx="1292.5" cy="196.4" r="5.5"/><circle cx="1325.7" cy="196.4" r="5.5"/><circle cx="1477.3" cy="248.7" r="5.5"/><circle cx="1140.9" cy="248.7" r="5.5"/><circle cx="1336.4" cy="196.9" r="5.5"/><circle cx="1281.8" cy="196.9" r="5.5"/><circle cx="1534.4" cy="308.5" r="5.5"/><circle cx="1083.8" cy="308.5" r="5.5"/><circle cx="1201" cy="213.6" r="5.5"/><circle cx="1417.2" cy="213.6" r="5.5"/><circle cx="1179.4" cy="223.2" r="5.5"/><circle cx="1438.8" cy="223.2" r="5.5"/><circle cx="1271.7" cy="197.5" r="5.5"/><circle cx="1346.5" cy="197.5" r="5.5"/><circle cx="1470.2" cy="242.8" r="5.5"/><circle cx="1148" cy="242.8" r="5.5"/><circle cx="1091.3" cy="294.9" r="5.5"/><circle cx="1526.9" cy="294.9" r="5.5"/><circle cx="1408.4" cy="210.2" r="5.5"/><circle cx="1209.8" cy="210.2" r="5.5"/><circle cx="1262.1" cy="198.4" r="5.5"/><circle cx="1356.1" cy="198.4" r="5.5"/><circle cx="1221.4" cy="206.6" r="5.5"/><circle cx="1396.8" cy="206.6" r="5.5"/><circle cx="1432.3" cy="219" r="5.5"/><circle cx="1185.9" cy="219" r="5.5"/><circle cx="1519.3" cy="284.2" r="5.5"/><circle cx="1098.9" cy="284.2" r="5.5"/><circle cx="1463.2" cy="237.1" r="5.5"/><circle cx="1155" cy="237.1" r="5.5"/><circle cx="1365.1" cy="199.4" r="5.5"/><circle cx="1253.1" cy="199.4" r="5.5"/><circle cx="1385.3" cy="203.4" r="5.5"/><circle cx="1232.9" cy="203.4" r="5.5"/><circle cx="1511.8" cy="275.5" r="5.5"/><circle cx="1106.4" cy="275.5" r="5.5"/><circle cx="1244.5" cy="200.7" r="5.5"/><circle cx="1373.7" cy="200.7" r="5.5"/><circle cx="1456.1" cy="231.6" r="5.5"/><circle cx="1162.1" cy="231.6" r="5.5"/><circle cx="1425.8" cy="215.4" r="5.5"/><circle cx="1192.4" cy="215.4" r="5.5"/><circle cx="1504.3" cy="267.7" r="5.5"/><circle cx="1113.9" cy="267.7" r="5.5"/><circle cx="1314.7" cy="194.1" r="5.5"/><circle cx="1303.5" cy="194.1" r="5.5"/><circle cx="1449.1" cy="226.6" r="5.5"/><circle cx="1169.1" cy="226.6" r="5.5"/><circle cx="1121.4" cy="260.6" r="5.5"/><circle cx="1496.8" cy="260.6" r="5.5"/><circle cx="1419.3" cy="212.2" r="5.5"/><circle cx="1198.9" cy="212.2" r="5.5"/><circle cx="1325.7" cy="194.3" r="5.5"/><circle cx="1292.5" cy="194.3" r="5.5"/><circle cx="1047.5" cy="419.7" r="5.5"/><circle cx="1570.7" cy="419.7" r="5.5"/><circle cx="1282" cy="194.7" r="5.5"/><circle cx="1336.2" cy="194.7" r="5.5"/><circle cx="1489.4" cy="254.2" r="5.5"/><circle cx="1128.8" cy="254.2" r="5.5"/><circle cx="1410.3" cy="208.9" r="5.5"/><circle cx="1207.9" cy="208.9" r="5.5"/><circle cx="1176.1" cy="221.9" r="5.5"/><circle cx="1442.1" cy="221.9" r="5.5"/><circle cx="1398.7" cy="205.3" r="5.5"/><circle cx="1219.5" cy="205.3" r="5.5"/><circle cx="1272.2" cy="195.3" r="5.5"/><circle cx="1346" cy="195.3" r="5.5"/><circle cx="1055.3" cy="370.3" r="5.5"/><circle cx="1562.9" cy="370.3" r="5.5"/><circle cx="1231.2" cy="202.1" r="5.5"/><circle cx="1387" cy="202.1" r="5.5"/><circle cx="1481.9" cy="248" r="5.5"/><circle cx="1136.3" cy="248" r="5.5"/><circle cx="1355.2" cy="196.1" r="5.5"/><circle cx="1263" cy="196.1" r="5.5"/><circle cx="1242.8" cy="199.4" r="5.5"/><circle cx="1375.4" cy="199.4" r="5.5"/><circle cx="1435.1" cy="217.7" r="5.5"/><circle cx="1183.1" cy="217.7" r="5.5"/><circle cx="1555.2" cy="341.9" r="5.5"/><circle cx="1063" cy="341.9" r="5.5"/><circle cx="1143.7" cy="241.9" r="5.5"/><circle cx="1474.5" cy="241.9" r="5.5"/><circle cx="1254.3" cy="197.1" r="5.5"/><circle cx="1363.9" cy="197.1" r="5.5"/><circle cx="1070.8" cy="323.9" r="5.5"/><circle cx="1547.4" cy="323.9" r="5.5"/><circle cx="1428.2" cy="214.1" r="5.5"/><circle cx="1190" cy="214.1" r="5.5"/><circle cx="1151.1" cy="236.1" r="5.5"/><circle cx="1467.1" cy="236.1" r="5.5"/><circle cx="1539.7" cy="308.5" r="5.5"/><circle cx="1078.5" cy="308.5" r="5.5"/><circle cx="1459.7" cy="230.6" r="5.5"/><circle cx="1158.5" cy="230.6" r="5.5"/><circle cx="1086.2" cy="294.8" r="5.5"/><circle cx="1532" cy="294.8" r="5.5"/><circle cx="1196.9" cy="211.1" r="5.5"/><circle cx="1421.3" cy="211.1" r="5.5"/><circle cx="1314.7" cy="192.3" r="5.5"/><circle cx="1303.5" cy="192.3" r="5.5"/><circle cx="1325.6" cy="192.6" r="5.5"/><circle cx="1292.6" cy="192.6" r="5.5"/><circle cx="1094" cy="284.1" r="5.5"/><circle cx="1524.2" cy="284.1" r="5.5"/><circle cx="1412" cy="207.7" r="5.5"/><circle cx="1206.2" cy="207.7" r="5.5"/><circle cx="1165.8" cy="225.5" r="5.5"/><circle cx="1452.4" cy="225.5" r="5.5"/><circle cx="1400.5" cy="204.2" r="5.5"/><circle cx="1217.7" cy="204.2" r="5.5"/><circle cx="1335.9" cy="193" r="5.5"/><circle cx="1282.3" cy="193" r="5.5"/><circle cx="1229.3" cy="201" r="5.5"/><circle cx="1388.9" cy="201" r="5.5"/><circle cx="1516.5" cy="275.3" r="5.5"/><circle cx="1101.7" cy="275.3" r="5.5"/><circle cx="1241" cy="198.4" r="5.5"/><circle cx="1377.2" cy="198.4" r="5.5"/><circle cx="1445" cy="220.8" r="5.5"/><circle cx="1173.2" cy="220.8" r="5.5"/><circle cx="1109.4" cy="267.4" r="5.5"/><circle cx="1508.8" cy="267.4" r="5.5"/><circle cx="1345.3" cy="193.6" r="5.5"/><circle cx="1272.9" cy="193.6" r="5.5"/><circle cx="1252.6" cy="196.1" r="5.5"/><circle cx="1365.6" cy="196.1" r="5.5"/><circle cx="1501.1" cy="260.2" r="5.5"/><circle cx="1117.1" cy="260.2" r="5.5"/><circle cx="1354" cy="194.4" r="5.5"/><circle cx="1264.2" cy="194.4" r="5.5"/><circle cx="1180.5" cy="216.7" r="5.5"/><circle cx="1437.7" cy="216.7" r="5.5"/><circle cx="1124.8" cy="253.7" r="5.5"/><circle cx="1493.4" cy="253.7" r="5.5"/><circle cx="1187.8" cy="213.2" r="5.5"/><circle cx="1430.4" cy="213.2" r="5.5"/><circle cx="1132.5" cy="247.4" r="5.5"/><circle cx="1485.7" cy="247.4" r="5.5"/><circle cx="1478.1" cy="241.3" r="5.5"/><circle cx="1140.1" cy="241.3" r="5.5"/><circle cx="1423.1" cy="210.2" r="5.5"/><circle cx="1195.1" cy="210.2" r="5.5"/><circle cx="1575" cy="420.5" r="5.5"/><circle cx="1043.2" cy="420.5" r="5.5"/><circle cx="1303.5" cy="190.6" r="5.5"/><circle cx="1314.7" cy="190.6" r="5.5"/><circle cx="1147.8" cy="235.4" r="5.5"/><circle cx="1470.4" cy="235.4" r="5.5"/><circle cx="1204.5" cy="206.8" r="5.5"/><circle cx="1413.7" cy="206.8" r="5.5"/><circle cx="1216" cy="203.3" r="5.5"/><circle cx="1402.2" cy="203.3" r="5.5"/><circle cx="1227.6" cy="200.1" r="5.5"/><circle cx="1390.6" cy="200.1" r="5.5"/><circle cx="1325.5" cy="190.9" r="5.5"/><circle cx="1292.7" cy="190.9" r="5.5"/><circle cx="1379" cy="197.5" r="5.5"/><circle cx="1239.2" cy="197.5" r="5.5"/><circle cx="1462.8" cy="229.9" r="5.5"/><circle cx="1155.4" cy="229.9" r="5.5"/><circle cx="1051" cy="370.8" r="5.5"/><circle cx="1567.2" cy="370.8" r="5.5"/><circle cx="1367.4" cy="195.3" r="5.5"/><circle cx="1250.8" cy="195.3" r="5.5"/><circle cx="1335.3" cy="191.4" r="5.5"/><circle cx="1282.9" cy="191.4" r="5.5"/><circle cx="1262.5" cy="193.6" r="5.5"/><circle cx="1355.7" cy="193.6" r="5.5"/><circle cx="1163.1" cy="224.7" r="5.5"/><circle cx="1455.1" cy="224.7" r="5.5"/><circle cx="1559.3" cy="342.3" r="5.5"/><circle cx="1058.9" cy="342.3" r="5.5"/><circle cx="1274.1" cy="192.1" r="5.5"/><circle cx="1344.1" cy="192.1" r="5.5"/><circle cx="1066.7" cy="324.2" r="5.5"/><circle cx="1551.5" cy="324.2" r="5.5"/><circle cx="1170.7" cy="220.1" r="5.5"/><circle cx="1447.5" cy="220.1" r="5.5"/><circle cx="1074.6" cy="308.6" r="5.5"/><circle cx="1543.6" cy="308.6" r="5.5"/><circle cx="1178.4" cy="216" r="5.5"/><circle cx="1439.8" cy="216" r="5.5"/><circle cx="1535.7" cy="294.9" r="5.5"/><circle cx="1082.5" cy="294.9" r="5.5"/><circle cx="1090.3" cy="284.1" r="5.5"/><circle cx="1527.9" cy="284.1" r="5.5"/><circle cx="1432.2" cy="212.5" r="5.5"/><circle cx="1186" cy="212.5" r="5.5"/><circle cx="1520" cy="275.2" r="5.5"/><circle cx="1098.2" cy="275.2" r="5.5"/><circle cx="1106.1" cy="267.2" r="5.5"/><circle cx="1512.1" cy="267.2" r="5.5"/><circle cx="1424.6" cy="209.5" r="5.5"/><circle cx="1193.6" cy="209.5" r="5.5"/><circle cx="1113.9" cy="260" r="5.5"/><circle cx="1504.3" cy="260" r="5.5"/><circle cx="1415.1" cy="206.1" r="5.5"/><circle cx="1203.1" cy="206.1" r="5.5"/><circle cx="1214.6" cy="202.6" r="5.5"/><circle cx="1403.6" cy="202.6" r="5.5"/><circle cx="1392.2" cy="199.5" r="5.5"/><circle cx="1226" cy="199.5" r="5.5"/><circle cx="1303.5" cy="189.2" r="5.5"/><circle cx="1314.7" cy="189.2" r="5.5"/><circle cx="1237.5" cy="196.9" r="5.5"/><circle cx="1380.7" cy="196.9" r="5.5"/><circle cx="1121.8" cy="253.5" r="5.5"/><circle cx="1496.4" cy="253.5" r="5.5"/><circle cx="1369.1" cy="194.7" r="5.5"/><circle cx="1249.1" cy="194.7" r="5.5"/><circle cx="1357.5" cy="193" r="5.5"/><circle cx="1260.7" cy="193" r="5.5"/><circle cx="1325.1" cy="189.5" r="5.5"/><circle cx="1293.1" cy="189.5" r="5.5"/><circle cx="1488.6" cy="247.1" r="5.5"/><circle cx="1129.6" cy="247.1" r="5.5"/><circle cx="1272.4" cy="191.4" r="5.5"/><circle cx="1345.8" cy="191.4" r="5.5"/><circle cx="1137.5" cy="240.9" r="5.5"/><circle cx="1480.7" cy="240.9" r="5.5"/><circle cx="1284.1" cy="190" r="5.5"/><circle cx="1334.1" cy="190" r="5.5"/><circle cx="1472.9" cy="235" r="5.5"/><circle cx="1145.3" cy="235" r="5.5"/><circle cx="1153.2" cy="229.4" r="5.5"/><circle cx="1465" cy="229.4" r="5.5"/><circle cx="1161" cy="224.2" r="5.5"/><circle cx="1457.2" cy="224.2" r="5.5"/><circle cx="1449.3" cy="219.5" r="5.5"/><circle cx="1168.9" cy="219.5" r="5.5"/><circle cx="1176.7" cy="215.5" r="5.5"/><circle cx="1441.5" cy="215.5" r="5.5"/><circle cx="1433.6" cy="212.1" r="5.5"/><circle cx="1184.6" cy="212.1" r="5.5"/><circle cx="1040.5" cy="421.4" r="5.5"/><circle cx="1577.7" cy="421.4" r="5.5"/><circle cx="1425.8" cy="209" r="5.5"/><circle cx="1192.4" cy="209" r="5.5"/><circle cx="1416.2" cy="205.7" r="5.5"/><circle cx="1202" cy="205.7" r="5.5"/><circle cx="1213.4" cy="202.1" r="5.5"/><circle cx="1404.8" cy="202.1" r="5.5"/><circle cx="1393.4" cy="199" r="5.5"/><circle cx="1224.8" cy="199" r="5.5"/><circle cx="1382" cy="196.4" r="5.5"/><circle cx="1236.2" cy="196.4" r="5.5"/><circle cx="1370.5" cy="194.3" r="5.5"/><circle cx="1247.7" cy="194.3" r="5.5"/><circle cx="1569.8" cy="371.4" r="5.5"/><circle cx="1048.4" cy="371.4" r="5.5"/><circle cx="1259.2" cy="192.5" r="5.5"/><circle cx="1359" cy="192.5" r="5.5"/><circle cx="1314.7" cy="188" r="5.5"/><circle cx="1303.5" cy="188" r="5.5"/><circle cx="1347.5" cy="190.9" r="5.5"/><circle cx="1270.7" cy="190.9" r="5.5"/><circle cx="1282.4" cy="189.4" r="5.5"/><circle cx="1335.8" cy="189.4" r="5.5"/><circle cx="1056.3" cy="342.7" r="5.5"/><circle cx="1561.9" cy="342.7" r="5.5"/><circle cx="1294" cy="188.3" r="5.5"/><circle cx="1324.2" cy="188.3" r="5.5"/><circle cx="1554" cy="324.5" r="5.5"/><circle cx="1064.2" cy="324.5" r="5.5"/><circle cx="1072.2" cy="308.9" r="5.5"/><circle cx="1546" cy="308.9" r="5.5"/><circle cx="1538.1" cy="295.1" r="5.5"/><circle cx="1080.1" cy="295.1" r="5.5"/><circle cx="1088.1" cy="284.2" r="5.5"/><circle cx="1530.1" cy="284.2" r="5.5"/><circle cx="1096.1" cy="275.3" r="5.5"/><circle cx="1522.1" cy="275.3" r="5.5"/><circle cx="1514.2" cy="267.3" r="5.5"/><circle cx="1104" cy="267.3" r="5.5"/><circle cx="1112" cy="260" r="5.5"/><circle cx="1506.2" cy="260" r="5.5"/><circle cx="1498.3" cy="253.4" r="5.5"/><circle cx="1119.9" cy="253.4" r="5.5"/><circle cx="1127.9" cy="247" r="5.5"/><circle cx="1490.3" cy="247" r="5.5"/><circle cx="1482.3" cy="240.8" r="5.5"/><circle cx="1135.9" cy="240.8" r="5.5"/><circle cx="1143.9" cy="234.8" r="5.5"/><circle cx="1474.3" cy="234.8" r="5.5"/><circle cx="1466.4" cy="229.2" r="5.5"/><circle cx="1151.8" cy="229.2" r="5.5"/><circle cx="1458.4" cy="224" r="5.5"/><circle cx="1159.8" cy="224" r="5.5"/><circle cx="1167.8" cy="219.3" r="5.5"/><circle cx="1450.4" cy="219.3" r="5.5"/><circle cx="1442.5" cy="215.3" r="5.5"/><circle cx="1175.7" cy="215.3" r="5.5"/><circle cx="1434.5" cy="211.9" r="5.5"/><circle cx="1183.7" cy="211.9" r="5.5"/><circle cx="1426.5" cy="208.8" r="5.5"/><circle cx="1191.7" cy="208.8" r="5.5"/><circle cx="1416.9" cy="205.4" r="5.5"/><circle cx="1201.3" cy="205.4" r="5.5"/><circle cx="1405.5" cy="201.9" r="5.5"/><circle cx="1212.7" cy="201.9" r="5.5"/><circle cx="1224.1" cy="198.8" r="5.5"/><circle cx="1394.1" cy="198.8" r="5.5"/><circle cx="1382.8" cy="196.2" r="5.5"/><circle cx="1235.4" cy="196.2" r="5.5"/><circle cx="1371.4" cy="194.1" r="5.5"/><circle cx="1246.8" cy="194.1" r="5.5"/><circle cx="1360.1" cy="192.3" r="5.5"/><circle cx="1258.1" cy="192.3" r="5.5"/><circle cx="1348.7" cy="190.6" r="5.5"/><circle cx="1269.5" cy="190.6" r="5.5"/><circle cx="1280.9" cy="189.1" r="5.5"/><circle cx="1337.3" cy="189.1" r="5.5"/><circle cx="1325.8" cy="188" r="5.5"/><circle cx="1292.4" cy="188" r="5.5"/><circle cx="1314.1" cy="187.2" r="5.5"/><circle cx="1304.1" cy="187.2" r="5.5"/><circle cx="1039.4" cy="422.2" r="5.5"/><circle cx="1578.8" cy="422.2" r="5.5"/><circle cx="1570.8" cy="372.1" r="5.5"/><circle cx="1047.4" cy="372.1" r="5.5"/><circle cx="1055.3" cy="343.3" r="5.5"/><circle cx="1562.9" cy="343.3" r="5.5"/><circle cx="1314.1" cy="187.2" r="5.5"/><circle cx="1304.1" cy="187.2" r="5.5"/><circle cx="1417.1" cy="205.4" r="5.5"/><circle cx="1201.1" cy="205.4" r="5.5"/><circle cx="1426.8" cy="208.8" r="5.5"/><circle cx="1191.4" cy="208.8" r="5.5"/><circle cx="1405.7" cy="201.9" r="5.5"/><circle cx="1212.5" cy="201.9" r="5.5"/><circle cx="1394.3" cy="198.8" r="5.5"/><circle cx="1223.9" cy="198.8" r="5.5"/><circle cx="1554.9" cy="325" r="5.5"/><circle cx="1063.3" cy="325" r="5.5"/><circle cx="1434.8" cy="211.9" r="5.5"/><circle cx="1183.4" cy="211.9" r="5.5"/><circle cx="1235.3" cy="196.2" r="5.5"/><circle cx="1382.9" cy="196.2" r="5.5"/><circle cx="1246.6" cy="194.1" r="5.5"/><circle cx="1371.6" cy="194.1" r="5.5"/><circle cx="1360.2" cy="192.3" r="5.5"/><circle cx="1258" cy="192.3" r="5.5"/><circle cx="1175.4" cy="215.3" r="5.5"/><circle cx="1442.8" cy="215.3" r="5.5"/><circle cx="1348.8" cy="190.6" r="5.5"/><circle cx="1269.4" cy="190.6" r="5.5"/><circle cx="1292.4" cy="187.9" r="5.5"/><circle cx="1325.8" cy="187.9" r="5.5"/><circle cx="1280.9" cy="189.1" r="5.5"/><circle cx="1337.3" cy="189.1" r="5.5"/><circle cx="1071.3" cy="309.3" r="5.5"/><circle cx="1546.9" cy="309.3" r="5.5"/><circle cx="1167.4" cy="219.4" r="5.5"/><circle cx="1450.8" cy="219.4" r="5.5"/><circle cx="1458.8" cy="224.1" r="5.5"/><circle cx="1159.4" cy="224.1" r="5.5"/><circle cx="1538.9" cy="295.4" r="5.5"/><circle cx="1079.3" cy="295.4" r="5.5"/><circle cx="1466.8" cy="229.3" r="5.5"/><circle cx="1151.4" cy="229.3" r="5.5"/><circle cx="1143.4" cy="234.9" r="5.5"/><circle cx="1474.8" cy="234.9" r="5.5"/><circle cx="1087.3" cy="284.5" r="5.5"/><circle cx="1530.9" cy="284.5" r="5.5"/><circle cx="1135.4" cy="240.9" r="5.5"/><circle cx="1482.8" cy="240.9" r="5.5"/><circle cx="1490.8" cy="247.2" r="5.5"/><circle cx="1127.4" cy="247.2" r="5.5"/><circle cx="1095.3" cy="275.6" r="5.5"/><circle cx="1522.9" cy="275.6" r="5.5"/><circle cx="1498.9" cy="253.6" r="5.5"/><circle cx="1119.3" cy="253.6" r="5.5"/><circle cx="1103.3" cy="267.5" r="5.5"/><circle cx="1514.9" cy="267.5" r="5.5"/><circle cx="1506.9" cy="260.2" r="5.5"/><circle cx="1111.3" cy="260.2" r="5.5"/><circle cx="1294" cy="188.3" r="5.5"/><circle cx="1324.2" cy="188.3" r="5.5"/><circle cx="1336" cy="189.4" r="5.5"/><circle cx="1282.2" cy="189.4" r="5.5"/><circle cx="1201.4" cy="205.7" r="5.5"/><circle cx="1416.8" cy="205.7" r="5.5"/><circle cx="1347.7" cy="190.8" r="5.5"/><circle cx="1270.5" cy="190.8" r="5.5"/><circle cx="1212.8" cy="202.1" r="5.5"/><circle cx="1405.4" cy="202.1" r="5.5"/><circle cx="1393.9" cy="199" r="5.5"/><circle cx="1224.3" cy="199" r="5.5"/><circle cx="1258.8" cy="192.5" r="5.5"/><circle cx="1359.4" cy="192.5" r="5.5"/><circle cx="1382.4" cy="196.4" r="5.5"/><circle cx="1235.8" cy="196.4" r="5.5"/><circle cx="1247.3" cy="194.3" r="5.5"/><circle cx="1370.9" cy="194.3" r="5.5"/><circle cx="1303.5" cy="187.9" r="5.5"/><circle cx="1314.7" cy="187.9" r="5.5"/><circle cx="1426.5" cy="209.1" r="5.5"/><circle cx="1191.7" cy="209.1" r="5.5"/><circle cx="1183.7" cy="212.2" r="5.5"/><circle cx="1434.5" cy="212.2" r="5.5"/><circle cx="1442.4" cy="215.6" r="5.5"/><circle cx="1175.8" cy="215.6" r="5.5"/><circle cx="1167.8" cy="219.7" r="5.5"/><circle cx="1450.4" cy="219.7" r="5.5"/><circle cx="1458.3" cy="224.4" r="5.5"/><circle cx="1159.9" cy="224.4" r="5.5"/><circle cx="1466.3" cy="229.6" r="5.5"/><circle cx="1151.9" cy="229.6" r="5.5"/><circle cx="1143.9" cy="235.3" r="5.5"/><circle cx="1474.3" cy="235.3" r="5.5"/><circle cx="1482.2" cy="241.3" r="5.5"/><circle cx="1136" cy="241.3" r="5.5"/><circle cx="1128" cy="247.6" r="5.5"/><circle cx="1490.2" cy="247.6" r="5.5"/><circle cx="1498.2" cy="254" r="5.5"/><circle cx="1120" cy="254" r="5.5"/><circle cx="1112" cy="260.6" r="5.5"/><circle cx="1506.2" cy="260.6" r="5.5"/><circle cx="1578.2" cy="423.2" r="5.5"/><circle cx="1040" cy="423.2" r="5.5"/><circle cx="1104" cy="267.9" r="5.5"/><circle cx="1514.2" cy="267.9" r="5.5"/><circle cx="1522.2" cy="276" r="5.5"/><circle cx="1096" cy="276" r="5.5"/><circle cx="1088" cy="285" r="5.5"/><circle cx="1530.2" cy="285" r="5.5"/><circle cx="1570.2" cy="372.8" r="5.5"/><circle cx="1048" cy="372.8" r="5.5"/><circle cx="1334.4" cy="189.9" r="5.5"/><circle cx="1283.8" cy="189.9" r="5.5"/><circle cx="1080" cy="295.9" r="5.5"/><circle cx="1538.2" cy="295.9" r="5.5"/><circle cx="1546.2" cy="309.8" r="5.5"/><circle cx="1072" cy="309.8" r="5.5"/><circle cx="1056" cy="343.9" r="5.5"/><circle cx="1562.2" cy="343.9" r="5.5"/><circle cx="1064" cy="325.6" r="5.5"/><circle cx="1554.2" cy="325.6" r="5.5"/><circle cx="1346.2" cy="191.3" r="5.5"/><circle cx="1272" cy="191.3" r="5.5"/><circle cx="1292.9" cy="189.4" r="5.5"/><circle cx="1325.3" cy="189.4" r="5.5"/><circle cx="1358" cy="192.9" r="5.5"/><circle cx="1260.2" cy="192.9" r="5.5"/><circle cx="1248.5" cy="194.7" r="5.5"/><circle cx="1369.7" cy="194.7" r="5.5"/><circle cx="1381.4" cy="196.8" r="5.5"/><circle cx="1236.8" cy="196.8" r="5.5"/><circle cx="1202" cy="206.2" r="5.5"/><circle cx="1416.2" cy="206.2" r="5.5"/><circle cx="1393" cy="199.5" r="5.5"/><circle cx="1225.2" cy="199.5" r="5.5"/><circle cx="1213.6" cy="202.6" r="5.5"/><circle cx="1404.6" cy="202.6" r="5.5"/><circle cx="1192.4" cy="209.6" r="5.5"/><circle cx="1425.8" cy="209.6" r="5.5"/><circle cx="1314.8" cy="189.1" r="5.5"/><circle cx="1303.4" cy="189.1" r="5.5"/><circle cx="1184.6" cy="212.7" r="5.5"/><circle cx="1433.6" cy="212.7" r="5.5"/><circle cx="1176.8" cy="216.2" r="5.5"/><circle cx="1441.4" cy="216.2" r="5.5"/><circle cx="1169" cy="220.3" r="5.5"/><circle cx="1449.2" cy="220.3" r="5.5"/><circle cx="1161.2" cy="225.1" r="5.5"/><circle cx="1457" cy="225.1" r="5.5"/><circle cx="1464.8" cy="230.3" r="5.5"/><circle cx="1153.4" cy="230.3" r="5.5"/><circle cx="1344.6" cy="192" r="5.5"/><circle cx="1273.6" cy="192" r="5.5"/><circle cx="1145.5" cy="236" r="5.5"/><circle cx="1472.7" cy="236" r="5.5"/><circle cx="1356.4" cy="193.6" r="5.5"/><circle cx="1261.8" cy="193.6" r="5.5"/><circle cx="1282.6" cy="191.3" r="5.5"/><circle cx="1335.6" cy="191.3" r="5.5"/><circle cx="1368.2" cy="195.3" r="5.5"/><circle cx="1250" cy="195.3" r="5.5"/><circle cx="1137.7" cy="241.9" r="5.5"/><circle cx="1480.5" cy="241.9" r="5.5"/><circle cx="1238.2" cy="197.5" r="5.5"/><circle cx="1380" cy="197.5" r="5.5"/><circle cx="1226.4" cy="200.2" r="5.5"/><circle cx="1391.8" cy="200.2" r="5.5"/><circle cx="1214.7" cy="203.3" r="5.5"/><circle cx="1403.5" cy="203.3" r="5.5"/><circle cx="1415.2" cy="207" r="5.5"/><circle cx="1203" cy="207" r="5.5"/><circle cx="1292.5" cy="190.8" r="5.5"/><circle cx="1325.7" cy="190.8" r="5.5"/><circle cx="1129.8" cy="248.2" r="5.5"/><circle cx="1488.4" cy="248.2" r="5.5"/><circle cx="1424.8" cy="210.4" r="5.5"/><circle cx="1193.4" cy="210.4" r="5.5"/><circle cx="1314.8" cy="190.5" r="5.5"/><circle cx="1303.4" cy="190.5" r="5.5"/><circle cx="1121.9" cy="254.6" r="5.5"/><circle cx="1496.3" cy="254.6" r="5.5"/><circle cx="1114" cy="261.2" r="5.5"/><circle cx="1504.2" cy="261.2" r="5.5"/><circle cx="1432.3" cy="213.5" r="5.5"/><circle cx="1185.9" cy="213.5" r="5.5"/><circle cx="1512.1" cy="268.5" r="5.5"/><circle cx="1106.1" cy="268.5" r="5.5"/><circle cx="1520.1" cy="276.6" r="5.5"/><circle cx="1098.1" cy="276.6" r="5.5"/><circle cx="1178.4" cy="217" r="5.5"/><circle cx="1439.8" cy="217" r="5.5"/><circle cx="1090.2" cy="285.6" r="5.5"/><circle cx="1528" cy="285.6" r="5.5"/><circle cx="1536" cy="296.6" r="5.5"/><circle cx="1082.2" cy="296.6" r="5.5"/><circle cx="1074.3" cy="310.5" r="5.5"/><circle cx="1543.9" cy="310.5" r="5.5"/><circle cx="1042.4" cy="424.1" r="5.5"/><circle cx="1575.8" cy="424.1" r="5.5"/><circle cx="1354.8" cy="194.3" r="5.5"/><circle cx="1263.4" cy="194.3" r="5.5"/><circle cx="1447.4" cy="221.3" r="5.5"/><circle cx="1170.8" cy="221.3" r="5.5"/><circle cx="1551.9" cy="326.3" r="5.5"/><circle cx="1066.3" cy="326.3" r="5.5"/><circle cx="1050.3" cy="373.6" r="5.5"/><circle cx="1567.9" cy="373.6" r="5.5"/><circle cx="1559.9" cy="344.7" r="5.5"/><circle cx="1058.3" cy="344.7" r="5.5"/><circle cx="1366.6" cy="196.1" r="5.5"/><circle cx="1251.6" cy="196.1" r="5.5"/><circle cx="1272.3" cy="193.5" r="5.5"/><circle cx="1345.9" cy="193.5" r="5.5"/><circle cx="1455" cy="226" r="5.5"/><circle cx="1163.2" cy="226" r="5.5"/><circle cx="1378.4" cy="198.4" r="5.5"/><circle cx="1239.8" cy="198.4" r="5.5"/><circle cx="1390.3" cy="201.1" r="5.5"/><circle cx="1227.9" cy="201.1" r="5.5"/><circle cx="1402.1" cy="204.3" r="5.5"/><circle cx="1216.1" cy="204.3" r="5.5"/><circle cx="1281.8" cy="192.9" r="5.5"/><circle cx="1336.4" cy="192.9" r="5.5"/><circle cx="1204.3" cy="207.9" r="5.5"/><circle cx="1413.9" cy="207.9" r="5.5"/><circle cx="1155.6" cy="231.3" r="5.5"/><circle cx="1462.6" cy="231.3" r="5.5"/><circle cx="1423.4" cy="211.4" r="5.5"/><circle cx="1194.8" cy="211.4" r="5.5"/><circle cx="1292.2" cy="192.5" r="5.5"/><circle cx="1326" cy="192.5" r="5.5"/><circle cx="1470.2" cy="236.9" r="5.5"/><circle cx="1148" cy="236.9" r="5.5"/><circle cx="1303.4" cy="192.2" r="5.5"/><circle cx="1314.8" cy="192.2" r="5.5"/><circle cx="1140.3" cy="242.8" r="5.5"/><circle cx="1477.9" cy="242.8" r="5.5"/><circle cx="1187.6" cy="214.5" r="5.5"/><circle cx="1430.6" cy="214.5" r="5.5"/><circle cx="1132.6" cy="249" r="5.5"/><circle cx="1485.6" cy="249" r="5.5"/><circle cx="1437.8" cy="218.2" r="5.5"/><circle cx="1180.4" cy="218.2" r="5.5"/><circle cx="1365" cy="197.1" r="5.5"/><circle cx="1253.2" cy="197.1" r="5.5"/><circle cx="1124.9" cy="255.4" r="5.5"/><circle cx="1493.3" cy="255.4" r="5.5"/><circle cx="1376.9" cy="199.5" r="5.5"/><circle cx="1241.3" cy="199.5" r="5.5"/><circle cx="1262" cy="196.1" r="5.5"/><circle cx="1356.2" cy="196.1" r="5.5"/><circle cx="1501" cy="262" r="5.5"/><circle cx="1117.2" cy="262" r="5.5"/><circle cx="1388.7" cy="202.2" r="5.5"/><circle cx="1229.5" cy="202.2" r="5.5"/><circle cx="1173.2" cy="222.5" r="5.5"/><circle cx="1445" cy="222.5" r="5.5"/><circle cx="1217.6" cy="205.5" r="5.5"/><circle cx="1400.6" cy="205.5" r="5.5"/><circle cx="1346.9" cy="195.3" r="5.5"/><circle cx="1271.3" cy="195.3" r="5.5"/><circle cx="1205.7" cy="209.1" r="5.5"/><circle cx="1412.5" cy="209.1" r="5.5"/><circle cx="1508.8" cy="269.3" r="5.5"/><circle cx="1109.4" cy="269.3" r="5.5"/><circle cx="1452.3" cy="227.2" r="5.5"/><circle cx="1165.9" cy="227.2" r="5.5"/><circle cx="1101.6" cy="277.4" r="5.5"/><circle cx="1516.6" cy="277.4" r="5.5"/><circle cx="1336.8" cy="194.7" r="5.5"/><circle cx="1281.4" cy="194.7" r="5.5"/><circle cx="1421.8" cy="212.6" r="5.5"/><circle cx="1196.4" cy="212.6" r="5.5"/><circle cx="1524.4" cy="286.3" r="5.5"/><circle cx="1093.8" cy="286.3" r="5.5"/><circle cx="1292.1" cy="194.3" r="5.5"/><circle cx="1326.1" cy="194.3" r="5.5"/><circle cx="1158.6" cy="232.5" r="5.5"/><circle cx="1459.6" cy="232.5" r="5.5"/><circle cx="1303.4" cy="194.1" r="5.5"/><circle cx="1314.8" cy="194.1" r="5.5"/><circle cx="1532.3" cy="297.4" r="5.5"/><circle cx="1085.9" cy="297.4" r="5.5"/><circle cx="1189.6" cy="215.8" r="5.5"/><circle cx="1428.6" cy="215.8" r="5.5"/><circle cx="1540.1" cy="311.3" r="5.5"/><circle cx="1078.1" cy="311.3" r="5.5"/><circle cx="1151.2" cy="238.1" r="5.5"/><circle cx="1467" cy="238.1" r="5.5"/><circle cx="1070.2" cy="327.1" r="5.5"/><circle cx="1548" cy="327.1" r="5.5"/><circle cx="1375.3" cy="200.7" r="5.5"/><circle cx="1242.9" cy="200.7" r="5.5"/><circle cx="1556" cy="345.5" r="5.5"/><circle cx="1062.2" cy="345.5" r="5.5"/><circle cx="1571.8" cy="425.1" r="5.5"/><circle cx="1046.4" cy="425.1" r="5.5"/><circle cx="1054.3" cy="374.5" r="5.5"/><circle cx="1563.9" cy="374.5" r="5.5"/><circle cx="1182.8" cy="219.6" r="5.5"/><circle cx="1435.4" cy="219.6" r="5.5"/><circle cx="1231" cy="203.6" r="5.5"/><circle cx="1387.2" cy="203.6" r="5.5"/><circle cx="1143.8" cy="244" r="5.5"/><circle cx="1474.4" cy="244" r="5.5"/><circle cx="1251.7" cy="199.5" r="5.5"/><circle cx="1366.5" cy="199.5" r="5.5"/><circle cx="1219.1" cy="206.9" r="5.5"/><circle cx="1399.1" cy="206.9" r="5.5"/><circle cx="1411" cy="210.6" r="5.5"/><circle cx="1207.2" cy="210.6" r="5.5"/><circle cx="1260.9" cy="198.4" r="5.5"/><circle cx="1357.3" cy="198.4" r="5.5"/><circle cx="1136.4" cy="250.1" r="5.5"/><circle cx="1481.8" cy="250.1" r="5.5"/><circle cx="1442.2" cy="223.9" r="5.5"/><circle cx="1176" cy="223.9" r="5.5"/><circle cx="1198.1" cy="214.1" r="5.5"/><circle cx="1420.1" cy="214.1" r="5.5"/><circle cx="1347.5" cy="197.5" r="5.5"/><circle cx="1270.7" cy="197.5" r="5.5"/><circle cx="1489.3" cy="256.4" r="5.5"/><circle cx="1128.9" cy="256.4" r="5.5"/><circle cx="1337.1" cy="196.8" r="5.5"/><circle cx="1281.1" cy="196.8" r="5.5"/><circle cx="1169.1" cy="228.7" r="5.5"/><circle cx="1449.1" cy="228.7" r="5.5"/><circle cx="1121.4" cy="263" r="5.5"/><circle cx="1496.8" cy="263" r="5.5"/><circle cx="1292" cy="196.4" r="5.5"/><circle cx="1326.2" cy="196.4" r="5.5"/><circle cx="1426.4" cy="217.4" r="5.5"/><circle cx="1191.8" cy="217.4" r="5.5"/><circle cx="1303.3" cy="196.2" r="5.5"/><circle cx="1314.9" cy="196.2" r="5.5"/><circle cx="1456.1" cy="233.9" r="5.5"/><circle cx="1162.1" cy="233.9" r="5.5"/><circle cx="1504.3" cy="270.2" r="5.5"/><circle cx="1113.9" cy="270.2" r="5.5"/><circle cx="1385.7" cy="205.1" r="5.5"/><circle cx="1232.5" cy="205.1" r="5.5"/><circle cx="1220.7" cy="208.5" r="5.5"/><circle cx="1397.5" cy="208.5" r="5.5"/><circle cx="1241.3" cy="203.6" r="5.5"/><circle cx="1376.9" cy="203.6" r="5.5"/><circle cx="1511.9" cy="278.3" r="5.5"/><circle cx="1106.3" cy="278.3" r="5.5"/><circle cx="1432.7" cy="221.3" r="5.5"/><circle cx="1185.5" cy="221.3" r="5.5"/><circle cx="1155.1" cy="239.5" r="5.5"/><circle cx="1463.1" cy="239.5" r="5.5"/><circle cx="1409.4" cy="212.2" r="5.5"/><circle cx="1208.8" cy="212.2" r="5.5"/><circle cx="1367.7" cy="202.3" r="5.5"/><circle cx="1250.5" cy="202.3" r="5.5"/><circle cx="1519.5" cy="287.2" r="5.5"/><circle cx="1098.7" cy="287.2" r="5.5"/><circle cx="1418.3" cy="215.8" r="5.5"/><circle cx="1199.9" cy="215.8" r="5.5"/><circle cx="1470.1" cy="245.3" r="5.5"/><circle cx="1148.1" cy="245.3" r="5.5"/><circle cx="1179.1" cy="225.7" r="5.5"/><circle cx="1439.1" cy="225.7" r="5.5"/><circle cx="1260.1" cy="201.1" r="5.5"/><circle cx="1358.1" cy="201.1" r="5.5"/><circle cx="1527.2" cy="298.3" r="5.5"/><circle cx="1091" cy="298.3" r="5.5"/><circle cx="1348" cy="200.2" r="5.5"/><circle cx="1270.2" cy="200.2" r="5.5"/><circle cx="1534.9" cy="312.2" r="5.5"/><circle cx="1083.3" cy="312.2" r="5.5"/><circle cx="1141" cy="251.3" r="5.5"/><circle cx="1477.2" cy="251.3" r="5.5"/><circle cx="1445.6" cy="230.5" r="5.5"/><circle cx="1172.6" cy="230.5" r="5.5"/><circle cx="1194.1" cy="219.3" r="5.5"/><circle cx="1424.1" cy="219.3" r="5.5"/><circle cx="1337.4" cy="199.5" r="5.5"/><circle cx="1280.8" cy="199.5" r="5.5"/><circle cx="1542.7" cy="327.9" r="5.5"/><circle cx="1075.5" cy="327.9" r="5.5"/><circle cx="1291.9" cy="199" r="5.5"/><circle cx="1326.3" cy="199" r="5.5"/><circle cx="1067.7" cy="346.3" r="5.5"/><circle cx="1550.5" cy="346.3" r="5.5"/><circle cx="1303.3" cy="198.8" r="5.5"/><circle cx="1314.9" cy="198.8" r="5.5"/><circle cx="1222.2" cy="210.3" r="5.5"/><circle cx="1396" cy="210.3" r="5.5"/><circle cx="1133.8" cy="257.5" r="5.5"/><circle cx="1484.4" cy="257.5" r="5.5"/><circle cx="1558.3" cy="375.4" r="5.5"/><circle cx="1059.9" cy="375.4" r="5.5"/><circle cx="1052.1" cy="426.1" r="5.5"/><circle cx="1566.1" cy="426.1" r="5.5"/><circle cx="1210.3" cy="214.1" r="5.5"/><circle cx="1407.9" cy="214.1" r="5.5"/><circle cx="1166.1" cy="235.6" r="5.5"/><circle cx="1452.1" cy="235.6" r="5.5"/><circle cx="1230.9" cy="208.5" r="5.5"/><circle cx="1387.3" cy="208.5" r="5.5"/><circle cx="1429.9" cy="223.3" r="5.5"/><circle cx="1188.3" cy="223.3" r="5.5"/><circle cx="1126.6" cy="264.1" r="5.5"/><circle cx="1491.6" cy="264.1" r="5.5"/><circle cx="1378.2" cy="206.9" r="5.5"/><circle cx="1240" cy="206.9" r="5.5"/><circle cx="1201.7" cy="218" r="5.5"/><circle cx="1416.5" cy="218" r="5.5"/><circle cx="1159.5" cy="241.1" r="5.5"/><circle cx="1458.7" cy="241.1" r="5.5"/><circle cx="1249.5" cy="205.5" r="5.5"/><circle cx="1368.7" cy="205.5" r="5.5"/><circle cx="1498.8" cy="271.3" r="5.5"/><circle cx="1119.4" cy="271.3" r="5.5"/><circle cx="1435.8" cy="227.7" r="5.5"/><circle cx="1182.4" cy="227.7" r="5.5"/><circle cx="1358.8" cy="204.3" r="5.5"/><circle cx="1259.4" cy="204.3" r="5.5"/><circle cx="1421.7" cy="221.6" r="5.5"/><circle cx="1196.5" cy="221.6" r="5.5"/><circle cx="1112.1" cy="279.3" r="5.5"/><circle cx="1506.1" cy="279.3" r="5.5"/><circle cx="1465.3" cy="246.8" r="5.5"/><circle cx="1152.9" cy="246.8" r="5.5"/><circle cx="1269.8" cy="203.4" r="5.5"/><circle cx="1348.4" cy="203.4" r="5.5"/><circle cx="1441.8" cy="232.5" r="5.5"/><circle cx="1176.4" cy="232.5" r="5.5"/><circle cx="1280.6" cy="202.7" r="5.5"/><circle cx="1337.6" cy="202.7" r="5.5"/><circle cx="1211.8" cy="216.3" r="5.5"/><circle cx="1406.4" cy="216.3" r="5.5"/><circle cx="1104.7" cy="288.2" r="5.5"/><circle cx="1513.5" cy="288.2" r="5.5"/><circle cx="1326.3" cy="202.2" r="5.5"/><circle cx="1291.9" cy="202.2" r="5.5"/><circle cx="1146.2" cy="252.7" r="5.5"/><circle cx="1472" cy="252.7" r="5.5"/><circle cx="1303.3" cy="202" r="5.5"/><circle cx="1314.9" cy="202" r="5.5"/><circle cx="1191.2" cy="225.6" r="5.5"/><circle cx="1427" cy="225.6" r="5.5"/><circle cx="1397.7" cy="214.1" r="5.5"/><circle cx="1220.5" cy="214.1" r="5.5"/><circle cx="1097.3" cy="299.4" r="5.5"/><circle cx="1520.9" cy="299.4" r="5.5"/><circle cx="1170.4" cy="237.5" r="5.5"/><circle cx="1447.8" cy="237.5" r="5.5"/><circle cx="1203.5" cy="220.5" r="5.5"/><circle cx="1414.7" cy="220.5" r="5.5"/><circle cx="1388.6" cy="212.3" r="5.5"/><circle cx="1229.6" cy="212.3" r="5.5"/><circle cx="1478.8" cy="258.8" r="5.5"/><circle cx="1139.4" cy="258.8" r="5.5"/><circle cx="1528.4" cy="313.2" r="5.5"/><circle cx="1089.8" cy="313.2" r="5.5"/><circle cx="1239" cy="210.6" r="5.5"/><circle cx="1379.2" cy="210.6" r="5.5"/><circle cx="1185.9" cy="230" r="5.5"/><circle cx="1432.3" cy="230" r="5.5"/><circle cx="1453.9" cy="242.9" r="5.5"/><circle cx="1164.3" cy="242.9" r="5.5"/><circle cx="1535.9" cy="328.8" r="5.5"/><circle cx="1082.3" cy="328.8" r="5.5"/><circle cx="1419.3" cy="224.1" r="5.5"/><circle cx="1198.9" cy="224.1" r="5.5"/><circle cx="1369.5" cy="209.2" r="5.5"/><circle cx="1248.7" cy="209.2" r="5.5"/><circle cx="1132.6" cy="265.3" r="5.5"/><circle cx="1485.6" cy="265.3" r="5.5"/><circle cx="1409.4" cy="220.5" r="5.5"/><circle cx="1208.8" cy="220.5" r="5.5"/><circle cx="1543.5" cy="347.2" r="5.5"/><circle cx="1074.7" cy="347.2" r="5.5"/><circle cx="1258.9" cy="208" r="5.5"/><circle cx="1359.3" cy="208" r="5.5"/><circle cx="1180.4" cy="234.7" r="5.5"/><circle cx="1437.8" cy="234.7" r="5.5"/><circle cx="1460" cy="248.5" r="5.5"/><circle cx="1158.2" cy="248.5" r="5.5"/><circle cx="1551.1" cy="376.3" r="5.5"/><circle cx="1067.1" cy="376.3" r="5.5"/><circle cx="1492.4" cy="272.5" r="5.5"/><circle cx="1125.8" cy="272.5" r="5.5"/><circle cx="1400.5" cy="218" r="5.5"/><circle cx="1217.7" cy="218" r="5.5"/><circle cx="1269.5" cy="207.1" r="5.5"/><circle cx="1348.7" cy="207.1" r="5.5"/><circle cx="1059.4" cy="427.1" r="5.5"/><circle cx="1558.8" cy="427.1" r="5.5"/><circle cx="1194.2" cy="228.1" r="5.5"/><circle cx="1424" cy="228.1" r="5.5"/><circle cx="1280.5" cy="206.3" r="5.5"/><circle cx="1337.7" cy="206.3" r="5.5"/><circle cx="1391.2" cy="215.9" r="5.5"/><circle cx="1227" cy="215.9" r="5.5"/><circle cx="1326.4" cy="205.9" r="5.5"/><circle cx="1291.8" cy="205.9" r="5.5"/><circle cx="1413.7" cy="224.2" r="5.5"/><circle cx="1204.5" cy="224.2" r="5.5"/><circle cx="1303.3" cy="205.6" r="5.5"/><circle cx="1314.9" cy="205.6" r="5.5"/><circle cx="1118.8" cy="280.4" r="5.5"/><circle cx="1499.4" cy="280.4" r="5.5"/><circle cx="1175" cy="239.7" r="5.5"/><circle cx="1443.2" cy="239.7" r="5.5"/><circle cx="1152" cy="254.3" r="5.5"/><circle cx="1466.2" cy="254.3" r="5.5"/><circle cx="1381.5" cy="214.2" r="5.5"/><circle cx="1236.7" cy="214.2" r="5.5"/><circle cx="1189.4" cy="232.5" r="5.5"/><circle cx="1428.8" cy="232.5" r="5.5"/><circle cx="1404.6" cy="221.7" r="5.5"/><circle cx="1213.6" cy="221.7" r="5.5"/><circle cx="1111.8" cy="289.4" r="5.5"/><circle cx="1506.4" cy="289.4" r="5.5"/><circle cx="1371.4" cy="212.7" r="5.5"/><circle cx="1246.8" cy="212.7" r="5.5"/><circle cx="1472.5" cy="260.2" r="5.5"/><circle cx="1145.7" cy="260.2" r="5.5"/><circle cx="1200.2" cy="228.2" r="5.5"/><circle cx="1418" cy="228.2" r="5.5"/><circle cx="1169.5" cy="244.9" r="5.5"/><circle cx="1448.7" cy="244.9" r="5.5"/><circle cx="1395.1" cy="219.5" r="5.5"/><circle cx="1223.1" cy="219.5" r="5.5"/><circle cx="1360.9" cy="211.5" r="5.5"/><circle cx="1257.3" cy="211.5" r="5.5"/><circle cx="1513.4" cy="300.5" r="5.5"/><circle cx="1104.8" cy="300.5" r="5.5"/><circle cx="1433.6" cy="237.1" r="5.5"/><circle cx="1184.6" cy="237.1" r="5.5"/><circle cx="1350" cy="210.6" r="5.5"/><circle cx="1268.2" cy="210.6" r="5.5"/><circle cx="1209.5" cy="225.7" r="5.5"/><circle cx="1408.7" cy="225.7" r="5.5"/><circle cx="1478.8" cy="266.7" r="5.5"/><circle cx="1139.4" cy="266.7" r="5.5"/><circle cx="1233.1" cy="217.6" r="5.5"/><circle cx="1385.1" cy="217.6" r="5.5"/><circle cx="1163.9" cy="250.4" r="5.5"/><circle cx="1454.3" cy="250.4" r="5.5"/><circle cx="1279.6" cy="209.8" r="5.5"/><circle cx="1338.6" cy="209.8" r="5.5"/><circle cx="1520.5" cy="314.3" r="5.5"/><circle cx="1097.7" cy="314.3" r="5.5"/><circle cx="1195.8" cy="232.5" r="5.5"/><circle cx="1422.4" cy="232.5" r="5.5"/><circle cx="1291.2" cy="209.3" r="5.5"/><circle cx="1327" cy="209.3" r="5.5"/><circle cx="1303.1" cy="209.1" r="5.5"/><circle cx="1315.1" cy="209.1" r="5.5"/><circle cx="1374.6" cy="216" r="5.5"/><circle cx="1243.6" cy="216" r="5.5"/><circle cx="1438.4" cy="242" r="5.5"/><circle cx="1179.8" cy="242" r="5.5"/><circle cx="1219.2" cy="223.5" r="5.5"/><circle cx="1399" cy="223.5" r="5.5"/><circle cx="1133" cy="273.8" r="5.5"/><circle cx="1485.2" cy="273.8" r="5.5"/><circle cx="1090.4" cy="329.8" r="5.5"/><circle cx="1527.8" cy="329.8" r="5.5"/><circle cx="1158.2" cy="256" r="5.5"/><circle cx="1460" cy="256" r="5.5"/><circle cx="1254.5" cy="214.7" r="5.5"/><circle cx="1363.7" cy="214.7" r="5.5"/><circle cx="1205.3" cy="230.1" r="5.5"/><circle cx="1412.9" cy="230.1" r="5.5"/><circle cx="1191.4" cy="237.1" r="5.5"/><circle cx="1426.8" cy="237.1" r="5.5"/><circle cx="1083.2" cy="348.2" r="5.5"/><circle cx="1535" cy="348.2" r="5.5"/><circle cx="1229.5" cy="221.5" r="5.5"/><circle cx="1388.7" cy="221.5" r="5.5"/><circle cx="1266" cy="213.7" r="5.5"/><circle cx="1352.2" cy="213.7" r="5.5"/><circle cx="1126.5" cy="281.7" r="5.5"/><circle cx="1491.7" cy="281.7" r="5.5"/><circle cx="1443.4" cy="247.1" r="5.5"/><circle cx="1174.8" cy="247.1" r="5.5"/><circle cx="1542.4" cy="377.3" r="5.5"/><circle cx="1075.8" cy="377.3" r="5.5"/><circle cx="1277.9" cy="213" r="5.5"/><circle cx="1340.3" cy="213" r="5.5"/><circle cx="1465.7" cy="261.8" r="5.5"/><circle cx="1152.5" cy="261.8" r="5.5"/><circle cx="1402.8" cy="227.9" r="5.5"/><circle cx="1215.4" cy="227.9" r="5.5"/><circle cx="1377.8" cy="219.8" r="5.5"/><circle cx="1240.4" cy="219.8" r="5.5"/><circle cx="1549.8" cy="428.1" r="5.5"/><circle cx="1068.4" cy="428.1" r="5.5"/><circle cx="1290.2" cy="212.5" r="5.5"/><circle cx="1328" cy="212.5" r="5.5"/><circle cx="1417.1" cy="234.8" r="5.5"/><circle cx="1201.1" cy="234.8" r="5.5"/><circle cx="1187" cy="242" r="5.5"/><circle cx="1431.2" cy="242" r="5.5"/><circle cx="1302.8" cy="212.2" r="5.5"/><circle cx="1315.4" cy="212.2" r="5.5"/><circle cx="1498.3" cy="290.6" r="5.5"/><circle cx="1119.9" cy="290.6" r="5.5"/><circle cx="1169.9" cy="252.4" r="5.5"/><circle cx="1448.3" cy="252.4" r="5.5"/><circle cx="1251.8" cy="218.5" r="5.5"/><circle cx="1366.4" cy="218.5" r="5.5"/><circle cx="1226" cy="225.9" r="5.5"/><circle cx="1392.2" cy="225.9" r="5.5"/><circle cx="1146.7" cy="268.2" r="5.5"/><circle cx="1471.5" cy="268.2" r="5.5"/><circle cx="1113.3" cy="301.8" r="5.5"/><circle cx="1504.9" cy="301.8" r="5.5"/><circle cx="1263.8" cy="217.4" r="5.5"/><circle cx="1354.4" cy="217.4" r="5.5"/><circle cx="1211.5" cy="232.7" r="5.5"/><circle cx="1406.7" cy="232.7" r="5.5"/><circle cx="1182.5" cy="247.2" r="5.5"/><circle cx="1435.7" cy="247.2" r="5.5"/><circle cx="1197" cy="239.8" r="5.5"/><circle cx="1421.2" cy="239.8" r="5.5"/><circle cx="1164.8" cy="257.8" r="5.5"/><circle cx="1453.4" cy="257.8" r="5.5"/><circle cx="1237.2" cy="224.2" r="5.5"/><circle cx="1381" cy="224.2" r="5.5"/><circle cx="1276.3" cy="216.5" r="5.5"/><circle cx="1341.9" cy="216.5" r="5.5"/><circle cx="1477.4" cy="275.3" r="5.5"/><circle cx="1140.8" cy="275.3" r="5.5"/><circle cx="1511.6" cy="315.5" r="5.5"/><circle cx="1106.6" cy="315.5" r="5.5"/><circle cx="1329" cy="216" r="5.5"/><circle cx="1289.2" cy="216" r="5.5"/><circle cx="1302.4" cy="215.7" r="5.5"/><circle cx="1315.8" cy="215.7" r="5.5"/><circle cx="1222.4" cy="230.8" r="5.5"/><circle cx="1395.8" cy="230.8" r="5.5"/><circle cx="1249.1" cy="222.8" r="5.5"/><circle cx="1369.1" cy="222.8" r="5.5"/><circle cx="1440.2" cy="252.5" r="5.5"/><circle cx="1178" cy="252.5" r="5.5"/><circle cx="1458.5" cy="263.5" r="5.5"/><circle cx="1159.7" cy="263.5" r="5.5"/><circle cx="1518.4" cy="330.8" r="5.5"/><circle cx="1099.8" cy="330.8" r="5.5"/><circle cx="1410.6" cy="237.8" r="5.5"/><circle cx="1207.6" cy="237.8" r="5.5"/><circle cx="1134.9" cy="283.1" r="5.5"/><circle cx="1483.3" cy="283.1" r="5.5"/><circle cx="1192.7" cy="245.1" r="5.5"/><circle cx="1425.5" cy="245.1" r="5.5"/><circle cx="1261.6" cy="221.7" r="5.5"/><circle cx="1356.6" cy="221.7" r="5.5"/><circle cx="1384.2" cy="229.1" r="5.5"/><circle cx="1234" cy="229.1" r="5.5"/><circle cx="1525.3" cy="349.2" r="5.5"/><circle cx="1092.9" cy="349.2" r="5.5"/><circle cx="1343.5" cy="220.8" r="5.5"/><circle cx="1274.7" cy="220.8" r="5.5"/><circle cx="1463.7" cy="269.9" r="5.5"/><circle cx="1154.5" cy="269.9" r="5.5"/><circle cx="1128.9" cy="292" r="5.5"/><circle cx="1489.3" cy="292" r="5.5"/><circle cx="1444.8" cy="257.9" r="5.5"/><circle cx="1173.4" cy="257.9" r="5.5"/><circle cx="1218.9" cy="236" r="5.5"/><circle cx="1399.3" cy="236" r="5.5"/><circle cx="1288.2" cy="220.2" r="5.5"/><circle cx="1330" cy="220.2" r="5.5"/><circle cx="1429.7" cy="250.6" r="5.5"/><circle cx="1188.5" cy="250.6" r="5.5"/><circle cx="1532.2" cy="378.2" r="5.5"/><circle cx="1086" cy="378.2" r="5.5"/><circle cx="1414.5" cy="243.3" r="5.5"/><circle cx="1203.7" cy="243.3" r="5.5"/><circle cx="1371.8" cy="227.7" r="5.5"/><circle cx="1246.4" cy="227.7" r="5.5"/><circle cx="1302.1" cy="219.9" r="5.5"/><circle cx="1316.1" cy="219.9" r="5.5"/><circle cx="1078.9" cy="429.1" r="5.5"/><circle cx="1539.3" cy="429.1" r="5.5"/><circle cx="1122.8" cy="303.2" r="5.5"/><circle cx="1495.4" cy="303.2" r="5.5"/><circle cx="1149.3" cy="276.8" r="5.5"/><circle cx="1468.9" cy="276.8" r="5.5"/><circle cx="1168.8" cy="263.7" r="5.5"/><circle cx="1449.4" cy="263.7" r="5.5"/><circle cx="1259.4" cy="226.5" r="5.5"/><circle cx="1358.8" cy="226.5" r="5.5"/><circle cx="1387.3" cy="234.4" r="5.5"/><circle cx="1230.9" cy="234.4" r="5.5"/><circle cx="1184.2" cy="256.3" r="5.5"/><circle cx="1434" cy="256.3" r="5.5"/><circle cx="1402.8" cy="241.6" r="5.5"/><circle cx="1215.4" cy="241.6" r="5.5"/><circle cx="1273.1" cy="225.7" r="5.5"/><circle cx="1345.1" cy="225.7" r="5.5"/><circle cx="1116.6" cy="316.7" r="5.5"/><circle cx="1501.6" cy="316.7" r="5.5"/><circle cx="1199.8" cy="248.9" r="5.5"/><circle cx="1418.4" cy="248.9" r="5.5"/><circle cx="1474.2" cy="284.5" r="5.5"/><circle cx="1144" cy="284.5" r="5.5"/><circle cx="1374.5" cy="233" r="5.5"/><circle cx="1243.7" cy="233" r="5.5"/><circle cx="1287.3" cy="225.1" r="5.5"/><circle cx="1330.9" cy="225.1" r="5.5"/><circle cx="1454.1" cy="270" r="5.5"/><circle cx="1164.1" cy="270" r="5.5"/><circle cx="1301.8" cy="224.8" r="5.5"/><circle cx="1316.4" cy="224.8" r="5.5"/><circle cx="1507.8" cy="331.9" r="5.5"/><circle cx="1110.4" cy="331.9" r="5.5"/><circle cx="1227.9" cy="240.1" r="5.5"/><circle cx="1390.3" cy="240.1" r="5.5"/><circle cx="1438.2" cy="262.2" r="5.5"/><circle cx="1180" cy="262.2" r="5.5"/><circle cx="1360.9" cy="231.9" r="5.5"/><circle cx="1257.3" cy="231.9" r="5.5"/><circle cx="1479.6" cy="293.4" r="5.5"/><circle cx="1138.6" cy="293.4" r="5.5"/><circle cx="1211.9" cy="247.4" r="5.5"/><circle cx="1406.3" cy="247.4" r="5.5"/><circle cx="1195.9" cy="254.8" r="5.5"/><circle cx="1422.3" cy="254.8" r="5.5"/><circle cx="1159.4" cy="277" r="5.5"/><circle cx="1458.8" cy="277" r="5.5"/><circle cx="1104" cy="350.3" r="5.5"/><circle cx="1514.2" cy="350.3" r="5.5"/><circle cx="1346.7" cy="231.1" r="5.5"/><circle cx="1271.5" cy="231.1" r="5.5"/><circle cx="1241.1" cy="238.8" r="5.5"/><circle cx="1377.1" cy="238.8" r="5.5"/><circle cx="1331.9" cy="230.5" r="5.5"/><circle cx="1286.3" cy="230.5" r="5.5"/><circle cx="1485.1" cy="304.6" r="5.5"/><circle cx="1133.1" cy="304.6" r="5.5"/><circle cx="1175.7" cy="268.6" r="5.5"/><circle cx="1442.5" cy="268.6" r="5.5"/><circle cx="1316.7" cy="230.2" r="5.5"/><circle cx="1301.5" cy="230.2" r="5.5"/><circle cx="1520.7" cy="379.2" r="5.5"/><circle cx="1097.5" cy="379.2" r="5.5"/><circle cx="1224.8" cy="246" r="5.5"/><circle cx="1393.4" cy="246" r="5.5"/><circle cx="1463.6" cy="284.7" r="5.5"/><circle cx="1154.6" cy="284.7" r="5.5"/><circle cx="1426.2" cy="260.8" r="5.5"/><circle cx="1192" cy="260.8" r="5.5"/><circle cx="1409.8" cy="253.4" r="5.5"/><circle cx="1208.4" cy="253.4" r="5.5"/><circle cx="1363" cy="237.7" r="5.5"/><circle cx="1255.2" cy="237.7" r="5.5"/><circle cx="1090.9" cy="430.1" r="5.5"/><circle cx="1527.3" cy="430.1" r="5.5"/><circle cx="1127.6" cy="318" r="5.5"/><circle cx="1490.6" cy="318" r="5.5"/><circle cx="1348.2" cy="236.9" r="5.5"/><circle cx="1270" cy="236.9" r="5.5"/><circle cx="1171.3" cy="275.7" r="5.5"/><circle cx="1446.9" cy="275.7" r="5.5"/><circle cx="1238.6" cy="244.8" r="5.5"/><circle cx="1379.6" cy="244.8" r="5.5"/><circle cx="1468.4" cy="293.6" r="5.5"/><circle cx="1149.8" cy="293.6" r="5.5"/><circle cx="1285.4" cy="236.3" r="5.5"/><circle cx="1332.8" cy="236.3" r="5.5"/><circle cx="1396.4" cy="252.2" r="5.5"/><circle cx="1221.8" cy="252.2" r="5.5"/><circle cx="1430.1" cy="267.3" r="5.5"/><circle cx="1188.1" cy="267.3" r="5.5"/><circle cx="1496.2" cy="333" r="5.5"/><circle cx="1122" cy="333" r="5.5"/><circle cx="1301.2" cy="236" r="5.5"/><circle cx="1317" cy="236" r="5.5"/><circle cx="1413.3" cy="259.6" r="5.5"/><circle cx="1204.9" cy="259.6" r="5.5"/><circle cx="1253.2" cy="243.8" r="5.5"/><circle cx="1365" cy="243.8" r="5.5"/><circle cx="1451.2" cy="283.6" r="5.5"/><circle cx="1167" cy="283.6" r="5.5"/><circle cx="1473.3" cy="304.9" r="5.5"/><circle cx="1144.9" cy="304.9" r="5.5"/><circle cx="1116.2" cy="351.3" r="5.5"/><circle cx="1502" cy="351.3" r="5.5"/><circle cx="1236.1" cy="251.1" r="5.5"/><circle cx="1382.1" cy="251.1" r="5.5"/><circle cx="1349.6" cy="243.1" r="5.5"/><circle cx="1268.6" cy="243.1" r="5.5"/><circle cx="1434" cy="274.6" r="5.5"/><circle cx="1184.2" cy="274.6" r="5.5"/><circle cx="1218.8" cy="258.5" r="5.5"/><circle cx="1399.4" cy="258.5" r="5.5"/><circle cx="1416.7" cy="266.2" r="5.5"/><circle cx="1201.5" cy="266.2" r="5.5"/><circle cx="1284.5" cy="242.6" r="5.5"/><circle cx="1333.7" cy="242.6" r="5.5"/><circle cx="1317.3" cy="242.3" r="5.5"/><circle cx="1300.9" cy="242.3" r="5.5"/><circle cx="1139.9" cy="318.3" r="5.5"/><circle cx="1478.3" cy="318.3" r="5.5"/><circle cx="1507.9" cy="380.2" r="5.5"/><circle cx="1110.3" cy="380.2" r="5.5"/><circle cx="1162.6" cy="292.6" r="5.5"/><circle cx="1455.6" cy="292.6" r="5.5"/><circle cx="1367" cy="250.2" r="5.5"/><circle cx="1251.2" cy="250.2" r="5.5"/><circle cx="1513.9" cy="431" r="5.5"/><circle cx="1104.3" cy="431" r="5.5"/><circle cx="1437.9" cy="282.6" r="5.5"/><circle cx="1180.3" cy="282.6" r="5.5"/><circle cx="1384.6" cy="257.6" r="5.5"/><circle cx="1233.6" cy="257.6" r="5.5"/><circle cx="1351.1" cy="249.5" r="5.5"/><circle cx="1267.1" cy="249.5" r="5.5"/><circle cx="1134.8" cy="333.3" r="5.5"/><circle cx="1483.4" cy="333.3" r="5.5"/><circle cx="1198.1" cy="273.5" r="5.5"/><circle cx="1420.1" cy="273.5" r="5.5"/><circle cx="1215.8" cy="265.2" r="5.5"/><circle cx="1402.4" cy="265.2" r="5.5"/><circle cx="1460.1" cy="303.9" r="5.5"/><circle cx="1158.1" cy="303.9" r="5.5"/><circle cx="1283.6" cy="249.1" r="5.5"/><circle cx="1334.6" cy="249.1" r="5.5"/><circle cx="1317.6" cy="248.8" r="5.5"/><circle cx="1300.6" cy="248.8" r="5.5"/><circle cx="1249.2" cy="256.8" r="5.5"/><circle cx="1369" cy="256.8" r="5.5"/><circle cx="1176.4" cy="291.6" r="5.5"/><circle cx="1441.8" cy="291.6" r="5.5"/><circle cx="1488.5" cy="351.7" r="5.5"/><circle cx="1129.7" cy="351.7" r="5.5"/><circle cx="1231.1" cy="264.3" r="5.5"/><circle cx="1387.1" cy="264.3" r="5.5"/><circle cx="1464.5" cy="317.6" r="5.5"/><circle cx="1153.7" cy="317.6" r="5.5"/><circle cx="1194.6" cy="281.6" r="5.5"/><circle cx="1423.6" cy="281.6" r="5.5"/><circle cx="1265.7" cy="256.2" r="5.5"/><circle cx="1352.5" cy="256.2" r="5.5"/><circle cx="1405.3" cy="272.6" r="5.5"/><circle cx="1212.9" cy="272.6" r="5.5"/><circle cx="1124.5" cy="380.7" r="5.5"/><circle cx="1493.7" cy="380.7" r="5.5"/><circle cx="1335.4" cy="255.8" r="5.5"/><circle cx="1282.8" cy="255.8" r="5.5"/><circle cx="1317.9" cy="255.6" r="5.5"/><circle cx="1300.3" cy="255.6" r="5.5"/><circle cx="1172.5" cy="303" r="5.5"/><circle cx="1445.7" cy="303" r="5.5"/><circle cx="1247.3" cy="263.6" r="5.5"/><circle cx="1370.9" cy="263.6" r="5.5"/><circle cx="1149.1" cy="332.9" r="5.5"/><circle cx="1469.1" cy="332.9" r="5.5"/><circle cx="1228.7" cy="271.8" r="5.5"/><circle cx="1389.5" cy="271.8" r="5.5"/><circle cx="1191.2" cy="290.8" r="5.5"/><circle cx="1427" cy="290.8" r="5.5"/><circle cx="1119.2" cy="431.7" r="5.5"/><circle cx="1499" cy="431.7" r="5.5"/><circle cx="1210" cy="280.8" r="5.5"/><circle cx="1408.2" cy="280.8" r="5.5"/><circle cx="1264.3" cy="263.1" r="5.5"/><circle cx="1353.9" cy="263.1" r="5.5"/><circle cx="1449.7" cy="316.9" r="5.5"/><circle cx="1168.5" cy="316.9" r="5.5"/><circle cx="1282" cy="262.7" r="5.5"/><circle cx="1336.2" cy="262.7" r="5.5"/><circle cx="1144.6" cy="351.5" r="5.5"/><circle cx="1473.6" cy="351.5" r="5.5"/><circle cx="1372.8" cy="271.2" r="5.5"/><circle cx="1245.4" cy="271.2" r="5.5"/><circle cx="1318.2" cy="262.5" r="5.5"/><circle cx="1300" cy="262.5" r="5.5"/><circle cx="1430.3" cy="302.2" r="5.5"/><circle cx="1187.9" cy="302.2" r="5.5"/><circle cx="1226.3" cy="280.1" r="5.5"/><circle cx="1391.9" cy="280.1" r="5.5"/><circle cx="1207.1" cy="290" r="5.5"/><circle cx="1411.1" cy="290" r="5.5"/><circle cx="1263" cy="270.7" r="5.5"/><circle cx="1355.2" cy="270.7" r="5.5"/><circle cx="1478.2" cy="380.7" r="5.5"/><circle cx="1140" cy="380.7" r="5.5"/><circle cx="1164.6" cy="332.5" r="5.5"/><circle cx="1453.6" cy="332.5" r="5.5"/><circle cx="1337" cy="270.3" r="5.5"/><circle cx="1281.2" cy="270.3" r="5.5"/><circle cx="1243.6" cy="279.6" r="5.5"/><circle cx="1374.6" cy="279.6" r="5.5"/><circle cx="1184.5" cy="316.3" r="5.5"/><circle cx="1433.7" cy="316.3" r="5.5"/><circle cx="1318.5" cy="270.2" r="5.5"/><circle cx="1299.7" cy="270.2" r="5.5"/><circle cx="1135.3" cy="432.1" r="5.5"/><circle cx="1482.9" cy="432.1" r="5.5"/><circle cx="1224" cy="289.4" r="5.5"/><circle cx="1394.2" cy="289.4" r="5.5"/><circle cx="1204.3" cy="301.5" r="5.5"/><circle cx="1413.9" cy="301.5" r="5.5"/><circle cx="1457.6" cy="351.2" r="5.5"/><circle cx="1160.6" cy="351.2" r="5.5"/><circle cx="1261.7" cy="279.1" r="5.5"/><circle cx="1356.5" cy="279.1" r="5.5"/><circle cx="1437.1" cy="332.1" r="5.5"/><circle cx="1181.1" cy="332.1" r="5.5"/><circle cx="1337.8" cy="278.8" r="5.5"/><circle cx="1280.4" cy="278.8" r="5.5"/><circle cx="1241.8" cy="288.9" r="5.5"/><circle cx="1376.4" cy="288.9" r="5.5"/><circle cx="1299.5" cy="278.7" r="5.5"/><circle cx="1318.7" cy="278.7" r="5.5"/><circle cx="1461.6" cy="380.7" r="5.5"/><circle cx="1156.6" cy="380.7" r="5.5"/><circle cx="1201.5" cy="315.7" r="5.5"/><circle cx="1416.7" cy="315.7" r="5.5"/><circle cx="1221.7" cy="300.8" r="5.5"/><circle cx="1396.5" cy="300.8" r="5.5"/><circle cx="1260.4" cy="288.5" r="5.5"/><circle cx="1357.8" cy="288.5" r="5.5"/><circle cx="1440.4" cy="351" r="5.5"/><circle cx="1177.8" cy="351" r="5.5"/><circle cx="1465.6" cy="432.4" r="5.5"/><circle cx="1152.6" cy="432.4" r="5.5"/><circle cx="1279.6" cy="288.2" r="5.5"/><circle cx="1338.6" cy="288.2" r="5.5"/><circle cx="1378.2" cy="300.4" r="5.5"/><circle cx="1240" cy="300.4" r="5.5"/><circle cx="1419.5" cy="331.8" r="5.5"/><circle cx="1198.7" cy="331.8" r="5.5"/><circle cx="1219.5" cy="315.2" r="5.5"/><circle cx="1398.7" cy="315.2" r="5.5"/><circle cx="1319" cy="288.1" r="5.5"/><circle cx="1299.2" cy="288.1" r="5.5"/><circle cx="1259.2" cy="300" r="5.5"/><circle cx="1359" cy="300" r="5.5"/><circle cx="1443.8" cy="380.7" r="5.5"/><circle cx="1174.4" cy="380.7" r="5.5"/><circle cx="1238.3" cy="314.8" r="5.5"/><circle cx="1379.9" cy="314.8" r="5.5"/><circle cx="1339.3" cy="299.7" r="5.5"/><circle cx="1278.9" cy="299.7" r="5.5"/><circle cx="1422.3" cy="350.8" r="5.5"/><circle cx="1195.9" cy="350.8" r="5.5"/><circle cx="1217.2" cy="331.5" r="5.5"/><circle cx="1401" cy="331.5" r="5.5"/><circle cx="1299" cy="299.6" r="5.5"/><circle cx="1319.2" cy="299.6" r="5.5"/><circle cx="1447.1" cy="432.7" r="5.5"/><circle cx="1171.1" cy="432.7" r="5.5"/><circle cx="1258" cy="314.5" r="5.5"/><circle cx="1360.2" cy="314.5" r="5.5"/><circle cx="1193.2" cy="380.7" r="5.5"/><circle cx="1425" cy="380.7" r="5.5"/><circle cx="1236.6" cy="331.2" r="5.5"/><circle cx="1381.6" cy="331.2" r="5.5"/><circle cx="1340" cy="314.3" r="5.5"/><circle cx="1278.2" cy="314.3" r="5.5"/><circle cx="1403.1" cy="350.6" r="5.5"/><circle cx="1215.1" cy="350.6" r="5.5"/><circle cx="1298.7" cy="314.2" r="5.5"/><circle cx="1319.5" cy="314.2" r="5.5"/><circle cx="1256.8" cy="331.1" r="5.5"/><circle cx="1361.4" cy="331.1" r="5.5"/><circle cx="1427.7" cy="432.9" r="5.5"/><circle cx="1190.5" cy="432.9" r="5.5"/><circle cx="1383.2" cy="350.4" r="5.5"/><circle cx="1235" cy="350.4" r="5.5"/><circle cx="1212.9" cy="380.7" r="5.5"/><circle cx="1405.3" cy="380.7" r="5.5"/><circle cx="1340.7" cy="330.9" r="5.5"/><circle cx="1277.5" cy="330.9" r="5.5"/><circle cx="1298.5" cy="330.9" r="5.5"/><circle cx="1319.7" cy="330.9" r="5.5"/><circle cx="1255.7" cy="350.3" r="5.5"/><circle cx="1362.5" cy="350.3" r="5.5"/><circle cx="1210.8" cy="433.2" r="5.5"/><circle cx="1407.4" cy="433.2" r="5.5"/><circle cx="1233.4" cy="380.7" r="5.5"/><circle cx="1384.8" cy="380.7" r="5.5"/><circle cx="1276.8" cy="350.2" r="5.5"/><circle cx="1341.4" cy="350.2" r="5.5"/><circle cx="1319.9" cy="350.2" r="5.5"/><circle cx="1298.3" cy="350.2" r="5.5"/><circle cx="1363.6" cy="380.7" r="5.5"/><circle cx="1254.6" cy="380.7" r="5.5"/><circle cx="1231.9" cy="433.3" r="5.5"/><circle cx="1386.3" cy="433.3" r="5.5"/><circle cx="1276.2" cy="380.6" r="5.5"/><circle cx="1342" cy="380.6" r="5.5"/><circle cx="1320.1" cy="380.6" r="5.5"/><circle cx="1298.1" cy="380.6" r="5.5"/><circle cx="1253.5" cy="433.5" r="5.5"/><circle cx="1364.7" cy="433.5" r="5.5"/><circle cx="1275.6" cy="433.5" r="5.5"/><circle cx="1342.6" cy="433.5" r="5.5"/><circle cx="1320.3" cy="433.6" r="5.5"/><circle cx="1297.9" cy="433.6" r="5.5"/></g><rect x="1023" y="30" width="545" height="85.5" rx="5.2" fill="#fff" fill-opacity="0.8" stroke="#d4d4d4" stroke-width="2"/><circle cx="1060" cy="53.9" r="5.3" fill="#add8e6" opacity="0.64"/><path d="M1060 86.8l7.1 14.2h-14.2z" fill="#f00"/><g font-family="'DejaVu Sans','Liberation Sans',sans-serif" font-size="26.2" fill="#000"><text x="1108" y="61">Three-dimensional simulated data</text><text x="1108" y="101">Two-dimensional simulated data</text></g>
<polygon points="226.7,1169.6 225.8,1169.8 224.9,1170.2 224,1170.6 223.1,1171 222.3,1171.5 221.5,1172 220.7,1172.6 220,1173.2 219.3,1173.9 218.6,1174.6 218,1175.3 217.4,1176.1 216.9,1176.9 216.4,1177.7 216,1178.6 215.6,1179.4 215.3,1180.3 215,1181.3 214.7,1182.2 214.6,1183.2 214.5,1184.1 214.4,1185.1 214.4,1186 214.5,1187 214.6,1188 214.7,1188.9 215,1189.8 215.2,1190.8 215.6,1191.7 215.9,1192.6 216.4,1193.4 216.8,1194.3 217.4,1195.1 217.9,1195.8 218.6,1196.6 219.2,1197.3 219.9,1198 220.7,1198.6 221.4,1199.2 222.2,1199.7 223.1,1200.2 223.9,1200.6 224.8,1201 225.7,1201.3 226.6,1201.6 227.6,1201.8 228.5,1202 229.5,1202.1 1050.7,1276 1041.6,1274.6 1032.7,1272.7 1023.8,1270.3 1015,1267.4 1006.5,1263.9 998.1,1259.9 989.9,1255.4 981.9,1250.5 974.3,1245.1 966.9,1239.2 959.8,1233 953.1,1226.3 946.8,1219.2 940.8,1211.8 935.2,1204 930.1,1196 925.4,1187.7 921.2,1179.1 917.5,1170.3 914.2,1161.3 911.4,1152.1 909.2,1142.8 907.4,1133.5 906.2,1124 905.5,1114.5 905.3,1105 905.7,1095.6 906.6,1086.2 908,1076.8 909.9,1067.7 912.4,1058.6 915.3,1049.8 918.7,1041.2 922.6,1032.8 927,1024.6 931.9,1016.8 937.1,1009.3 942.8,1002.2 948.9,995.4 955.4,989.1 962.3,983.1 969.4,977.6 976.9,972.6 984.7,968 992.7,963.9 1001,960.3 1009.4,957.3 1018.1,954.7" fill="#000040"/><polygon points="226.7,1169.6 224.9,1170.2 1001,960.3 1018.1,954.7" fill="#050566"/><polygon points="225.8,1169.8 224,1170.6 992.7,963.9 1009.4,957.3" fill="#040465"/><polygon points="224.9,1170.2 223.1,1171 984.7,968 1001,960.3" fill="#040465"/><polygon points="224,1170.6 222.3,1171.5 976.9,972.6 992.7,963.9" fill="#040464"/><polygon points="223.1,1171 221.5,1172 969.4,977.6 984.7,968" fill="#030364"/><polygon points="222.3,1171.5 220.7,1172.6 962.3,983.1 976.9,972.6" fill="#030363"/><polygon points="221.5,1172 220,1173.2 955.4,989.1 969.4,977.6" fill="#030363"/><polygon points="220.7,1172.6 219.3,1173.9 948.9,995.4 962.3,983.1" fill="#020262"/><polygon points="220,1173.2 218.6,1174.6 942.8,1002.2 955.4,989.1" fill="#020262"/><polygon points="219.3,1173.9 218,1175.3 937.1,1009.3 948.9,995.4" fill="#010161"/><polygon points="218.6,1174.6 217.4,1176.1 931.9,1016.8 942.8,1002.2" fill="#010161"/><polygon points="218,1175.3 216.9,1176.9 927,1024.6 937.1,1009.3" fill="#010160"/><polygon points="217.4,1176.1 216.4,1177.7 922.6,1032.8 931.9,1016.8" fill="#00005f"/><polygon points="216.9,1176.9 216,1178.6 918.7,1041.2 927,1024.6" fill="#00005f"/><polygon points="216.4,1177.7 215.6,1179.4 915.3,1049.8 922.6,1032.8" fill="#00005c"/><polygon points="216,1178.6 215.3,1180.3 912.4,1058.6 918.7,1041.2" fill="#00005a"/><polygon points="215.6,1179.4 215,1181.3 909.9,1067.7 915.3,1049.8" fill="#000057"/><polygon points="215.3,1180.3 214.7,1182.2 908,1076.8 912.4,1058.6" fill="#000054"/><polygon points="215,1181.3 214.6,1183.2 906.6,1086.2 909.9,1067.7" fill="#000052"/><polygon points="214.7,1182.2 214.5,1184.1 905.7,1095.6 908,1076.8" fill="#00004e"/><polygon points="214.6,1183.2 214.4,1185.1 905.3,1105 906.6,1086.2" fill="#000049"/><polygon points="214.5,1184.1 214.4,1186 905.5,1114.5 905.7,1095.6" fill="#000043"/><polygon points="214.4,1185.1 214.5,1187 906.2,1124 905.3,1105" fill="#00003d"/><polygon points="214.4,1186 214.6,1188 907.4,1133.5 905.5,1114.5" fill="#000038"/><polygon points="214.5,1187 214.7,1188.9 909.2,1142.8 906.2,1124" fill="#000035"/><polygon points="214.6,1188 215,1189.8 911.4,1152.1 907.4,1133.5" fill="#000035"/><polygon points="214.7,1188.9 215.2,1190.8 914.2,1161.3 909.2,1142.8" fill="#000034"/><polygon points="215,1189.8 215.6,1191.7 917.5,1170.3 911.4,1152.1" fill="#000034"/><polygon points="215.2,1190.8 215.9,1192.6 921.2,1179.1 914.2,1161.3" fill="#000037"/><polygon points="215.6,1191.7 216.4,1193.4 925.4,1187.7 917.5,1170.3" fill="#00003b"/><polygon points="215.9,1192.6 216.8,1194.3 930.1,1196 921.2,1179.1" fill="#00003e"/><polygon points="216.4,1193.4 217.4,1195.1 935.2,1204 925.4,1187.7" fill="#000041"/><polygon points="216.8,1194.3 217.9,1195.8 940.8,1211.8 930.1,1196" fill="#000044"/><polygon points="217.4,1195.1 218.6,1196.6 946.8,1219.2 935.2,1204" fill="#000047"/><polygon points="217.9,1195.8 219.2,1197.3 953.1,1226.3 940.8,1211.8" fill="#00004a"/><polygon points="218.6,1196.6 219.9,1198 959.8,1233 946.8,1219.2" fill="#00004b"/><polygon points="219.2,1197.3 220.7,1198.6 966.9,1239.2 953.1,1226.3" fill="#00004b"/><polygon points="219.9,1198 221.4,1199.2 974.3,1245.1 959.8,1233" fill="#00004c"/><polygon points="220.7,1198.6 222.2,1199.7 981.9,1250.5 966.9,1239.2" fill="#00004c"/><polygon points="221.4,1199.2 223.1,1200.2 989.9,1255.4 974.3,1245.1" fill="#00004d"/><polygon points="222.2,1199.7 223.9,1200.6 998.1,1259.9 981.9,1250.5" fill="#00004e"/><polygon points="223.1,1200.2 224.8,1201 1006.5,1263.9 989.9,1255.4" fill="#00004e"/><polygon points="223.9,1200.6 225.7,1201.3 1015,1267.4 998.1,1259.9" fill="#00004f"/><polygon points="224.8,1201 226.6,1201.6 1023.8,1270.3 1006.5,1263.9" fill="#00004f"/><polygon points="225.7,1201.3 227.6,1201.8 1032.7,1272.7 1015,1267.4" fill="#000050"/><polygon points="226.6,1201.6 228.5,1202 1041.6,1274.6 1023.8,1270.3" fill="#000051"/><polygon points="227.6,1201.8 229.5,1202.1 1050.7,1276 1032.7,1272.7" fill="#000051"/><polygon points="228.5,1202 229.5,1202.1 1050.7,1276 1041.6,1274.6" fill="#000052"/>
<polygon points="1205.9,1056.2 1210.7,1069.7 1214.3,1083.6 1216.8,1097.7 1218.1,1112 1218.2,1126.2 1217.1,1140.4 1214.8,1154.4 1211.4,1168 1206.8,1181.2 1201.1,1193.9 1194.4,1206 1186.6,1217.4 1177.9,1228 1168.3,1237.8 1158,1246.6 1146.8,1254.3 1135.1,1261 1122.7,1266.6 1109.9,1271 1096.8,1274.3 1083.4,1276.2 1069.8,1277 1056.1,1276.5 1042.5,1274.8 1029.1,1271.8 1015.8,1267.7 1003,1262.3 990.6,1255.9 978.7,1248.3 967.5,1239.7 956.9,1230.2 947.2,1219.8 938.4,1208.5 930.5,1196.6 923.6,1184 917.7,1170.8 912.9,1157.3 909.3,1143.4 906.8,1129.3 905.5,1115 905.4,1100.8 906.5,1086.6 908.8,1072.6 912.2,1059 916.8,1045.8 922.5,1033.1 929.2,1021 937,1009.6 945.7,999 955.3,989.2 965.6,980.4 976.8,972.7 988.5,966 1000.9,960.4 1013.7,956 1026.8,952.7 1040.2,950.8 1053.8,950 1067.5,950.5 1081.1,952.2 1094.5,955.2 1107.8,959.3 1120.6,964.7 1133,971.1 1144.9,978.7 1156.1,987.3 1166.7,996.8 1176.4,1007.2 1185.2,1018.5 1193.1,1030.4 1200,1043" fill="#000067"/><polygon points="1205.2,1056.4 1209.9,1069.9 1213.5,1083.8 1216,1097.8 1217.3,1112 1217.4,1126.2 1216.3,1140.3 1214,1154.1 1210.6,1167.7 1206.1,1180.9 1200.4,1193.5 1193.7,1205.6 1186,1216.9 1177.3,1227.5 1167.8,1237.2 1157.5,1245.9 1146.4,1253.6 1134.7,1260.3 1122.4,1265.9 1109.7,1270.2 1096.6,1273.4 1083.3,1275.4 1069.7,1276.2 1056.2,1275.7 1042.6,1274 1029.2,1271 1016.1,1266.9 1003.3,1261.6 990.9,1255.1 979.1,1247.6 967.9,1239.1 957.5,1229.6 947.8,1219.2 939,1208 931.1,1196.2 924.2,1183.6 918.4,1170.6 913.7,1157.1 910.1,1143.2 907.6,1129.2 906.3,1115 906.2,1100.8 907.3,1086.7 909.6,1072.9 913,1059.3 917.5,1046.1 923.2,1033.5 929.9,1021.4 937.6,1010.1 946.3,999.5 955.8,989.8 966.1,981.1 977.2,973.4 988.9,966.7 1001.2,961.1 1013.9,956.8 1027,953.6 1040.3,951.6 1053.9,950.8 1067.4,951.3 1081,953 1094.4,956 1107.5,960.1 1120.3,965.4 1132.7,971.9 1144.5,979.4 1155.7,987.9 1166.1,997.4 1175.8,1007.8 1184.6,1019 1192.5,1030.8 1199.4,1043.4" fill="#00007d"/><polygon points="1204.7,1056.6 1209.4,1070.1 1213,1083.9 1215.5,1097.9 1216.7,1112 1216.8,1126.1 1215.8,1140.2 1213.5,1154 1210.1,1167.5 1205.6,1180.6 1199.9,1193.3 1193.3,1205.3 1185.6,1216.6 1176.9,1227.1 1167.4,1236.7 1157.1,1245.4 1146.1,1253.1 1134.4,1259.8 1122.2,1265.3 1109.5,1269.7 1096.5,1272.9 1083.2,1274.9 1069.7,1275.6 1056.2,1275.1 1042.7,1273.4 1029.3,1270.5 1016.2,1266.4 1003.5,1261.1 991.2,1254.7 979.4,1247.2 968.3,1238.7 957.8,1229.2 948.2,1218.9 939.4,1207.7 931.6,1195.9 924.7,1183.4 918.9,1170.4 914.2,1156.9 910.6,1143.1 908.1,1129.1 906.9,1115 906.8,1100.9 907.8,1086.8 910.1,1073 913.5,1059.5 918,1046.4 923.7,1033.7 930.3,1021.7 938,1010.4 946.7,999.9 956.2,990.3 966.5,981.6 977.5,973.9 989.2,967.2 1001.4,961.7 1014.1,957.3 1027.1,954.1 1040.4,952.1 1053.9,951.4 1067.4,951.9 1080.9,953.6 1094.3,956.5 1107.4,960.6 1120.1,965.9 1132.4,972.3 1144.2,979.8 1155.3,988.3 1165.8,997.8 1175.4,1008.1 1184.2,1019.3 1192,1031.1 1198.9,1043.6" fill="#00008c"/><polygon points="1204.2,1056.8 1208.9,1070.2 1212.5,1084 1214.9,1097.9 1216.2,1112 1216.3,1126.1 1215.2,1140.1 1213,1153.9 1209.6,1167.3 1205.1,1180.4 1199.4,1193 1192.8,1204.9 1185.1,1216.2 1176.5,1226.7 1167.1,1236.3 1156.8,1245 1145.8,1252.6 1134.2,1259.3 1122,1264.8 1109.4,1269.1 1096.4,1272.3 1083.1,1274.3 1069.7,1275 1056.2,1274.6 1042.7,1272.8 1029.4,1269.9 1016.4,1265.8 1003.7,1260.5 991.4,1254.2 979.7,1246.7 968.6,1238.2 958.2,1228.8 948.6,1218.5 939.9,1207.4 932,1195.6 925.2,1183.1 919.4,1170.2 914.7,1156.8 911.1,1143 908.7,1129.1 907.4,1115 907.3,1100.9 908.4,1086.9 910.6,1073.1 914,1059.7 918.5,1046.6 924.2,1034 930.8,1022.1 938.5,1010.8 947.1,1000.3 956.5,990.7 966.8,982 977.8,974.4 989.4,967.7 1001.6,962.2 1014.2,957.9 1027.2,954.7 1040.5,952.7 1053.9,952 1067.4,952.4 1080.9,954.2 1094.2,957.1 1107.2,961.2 1119.9,966.5 1132.2,972.8 1143.9,980.3 1155,988.8 1165.4,998.2 1175,1008.5 1183.7,1019.6 1191.6,1031.4 1198.4,1043.9" fill="#00009b"/><polygon points="1203.7,1057 1208.4,1070.4 1211.9,1084.1 1214.4,1098 1215.6,1112 1215.7,1126 1214.7,1140 1212.4,1153.7 1209,1167.2 1204.5,1180.2 1199,1192.7 1192.3,1204.6 1184.7,1215.8 1176.1,1226.3 1166.7,1235.9 1156.5,1244.5 1145.5,1252.2 1133.9,1258.8 1121.8,1264.2 1109.2,1268.6 1096.2,1271.8 1083,1273.7 1069.6,1274.5 1056.2,1274 1042.8,1272.3 1029.6,1269.4 1016.6,1265.3 1003.9,1260 991.7,1253.7 980,1246.2 968.9,1237.8 958.6,1228.4 949,1218.1 940.3,1207.1 932.5,1195.3 925.7,1182.9 919.9,1170 915.2,1156.6 911.7,1142.9 909.2,1129 908,1115 907.9,1101 908.9,1087 911.2,1073.3 914.6,1059.8 919.1,1046.8 924.6,1034.3 931.3,1022.4 938.9,1011.2 947.5,1000.7 956.9,991.1 967.1,982.5 978.1,974.8 989.7,968.2 1001.8,962.8 1014.4,958.4 1027.4,955.2 1040.6,953.3 1054,952.5 1067.4,953 1080.8,954.7 1094,957.6 1107,961.7 1119.7,967 1131.9,973.3 1143.6,980.8 1154.7,989.2 1165,998.6 1174.6,1008.9 1183.3,1019.9 1191.1,1031.7 1197.9,1044.1" fill="#0000aa"/><polygon points="1203.2,1057.2 1207.9,1070.5 1211.5,1084.2 1213.9,1098 1215.2,1112 1215.3,1126 1214.2,1139.9 1212,1153.6 1208.6,1167 1204.1,1180 1198.5,1192.5 1191.9,1204.3 1184.3,1215.5 1175.8,1225.9 1166.4,1235.5 1156.2,1244.1 1145.3,1251.7 1133.7,1258.3 1121.6,1263.8 1109.1,1268.1 1096.1,1271.3 1083,1273.2 1069.6,1274 1056.2,1273.5 1042.9,1271.8 1029.7,1268.9 1016.7,1264.8 1004.1,1259.6 991.9,1253.2 980.2,1245.8 969.2,1237.4 958.9,1228 949.3,1217.8 940.7,1206.8 932.9,1195 926.1,1182.7 920.4,1169.8 915.7,1156.5 912.1,1142.8 909.7,1129 908.4,1115 908.3,1101 909.4,1087.1 911.6,1073.4 915,1060 919.5,1047 925.1,1034.5 931.7,1022.7 939.3,1011.5 947.8,1001.1 957.2,991.5 967.4,982.9 978.3,975.3 989.9,968.7 1002,963.2 1014.5,958.9 1027.5,955.7 1040.6,953.8 1054,953 1067.4,953.5 1080.7,955.2 1093.9,958.1 1106.9,962.2 1119.5,967.4 1131.7,973.8 1143.4,981.2 1154.4,989.6 1164.7,999 1174.3,1009.2 1182.9,1020.2 1190.7,1032 1197.5,1044.3" fill="#0000b8"/><polygon points="1202.8,1057.4 1207.5,1070.6 1211.1,1084.2 1213.5,1098.1 1214.7,1112 1214.8,1126 1213.8,1139.8 1211.6,1153.5 1208.2,1166.8 1203.7,1179.8 1198.2,1192.2 1191.6,1204.1 1184,1215.2 1175.5,1225.6 1166.1,1235.1 1155.9,1243.7 1145,1251.3 1133.5,1257.9 1121.4,1263.4 1108.9,1267.7 1096,1270.8 1082.9,1272.8 1069.6,1273.5 1056.2,1273 1042.9,1271.4 1029.8,1268.5 1016.8,1264.4 1004.2,1259.2 992.1,1252.8 980.5,1245.5 969.5,1237.1 959.2,1227.7 949.7,1217.5 941,1206.5 933.2,1194.8 926.5,1182.5 920.8,1169.6 916.1,1156.4 912.5,1142.8 910.1,1128.9 908.9,1115 908.8,1101 909.8,1087.2 912,1073.5 915.4,1060.2 919.9,1047.2 925.4,1034.8 932,1022.9 939.6,1011.8 948.1,1001.4 957.5,991.9 967.7,983.3 978.6,975.7 990.1,969.1 1002.2,963.6 1014.7,959.3 1027.6,956.2 1040.7,954.2 1054,953.5 1067.4,954 1080.7,955.6 1093.8,958.5 1106.8,962.6 1119.4,967.8 1131.5,974.2 1143.1,981.5 1154.1,989.9 1164.4,999.3 1173.9,1009.5 1182.6,1020.5 1190.4,1032.2 1197.1,1044.5" fill="#0000c7"/><polygon points="1202.5,1057.5 1207.1,1070.8 1210.6,1084.3 1213,1098.1 1214.3,1112 1214.4,1125.9 1213.3,1139.8 1211.1,1153.4 1207.8,1166.7 1203.3,1179.6 1197.8,1192 1191.2,1203.8 1183.6,1214.9 1175.2,1225.3 1165.8,1234.8 1155.7,1243.4 1144.8,1251 1133.3,1257.5 1121.3,1262.9 1108.8,1267.3 1095.9,1270.4 1082.8,1272.3 1069.6,1273.1 1056.3,1272.6 1043,1270.9 1029.8,1268 1016.9,1264 1004.4,1258.8 992.3,1252.5 980.7,1245.1 969.7,1236.7 959.5,1227.4 950,1217.2 941.3,1206.2 933.6,1194.6 926.9,1182.3 921.1,1169.5 916.5,1156.2 913,1142.7 910.6,1128.9 909.3,1115 909.2,1101.1 910.3,1087.2 912.5,1073.6 915.8,1060.3 920.3,1047.4 925.8,1035 932.4,1023.2 940,1012.1 948.4,1001.7 957.8,992.2 967.9,983.6 978.8,976 990.3,969.5 1002.3,964.1 1014.8,959.7 1027.7,956.6 1040.8,954.7 1054,953.9 1067.3,954.4 1080.6,956.1 1093.8,959 1106.7,963 1119.2,968.2 1131.3,974.5 1142.9,981.9 1153.9,990.3 1164.1,999.6 1173.6,1009.8 1182.3,1020.8 1190,1032.4 1196.7,1044.7" fill="#0000cf"/><polygon points="1202.1,1057.7 1206.8,1070.9 1210.3,1084.4 1212.7,1098.2 1214,1112 1214.1,1125.9 1213,1139.7 1210.8,1153.3 1207.4,1166.6 1203,1179.4 1197.5,1191.8 1190.9,1203.6 1183.4,1214.7 1174.9,1225 1165.6,1234.5 1155.4,1243.1 1144.6,1250.6 1133.1,1257.2 1121.1,1262.6 1108.7,1266.9 1095.9,1270 1082.8,1272 1069.6,1272.7 1056.3,1272.2 1043,1270.6 1029.9,1267.7 1017.1,1263.6 1004.5,1258.4 992.4,1252.1 980.9,1244.8 969.9,1236.4 959.7,1227.1 950.2,1217 941.6,1206 933.9,1194.4 927.2,1182.1 921.5,1169.3 916.8,1156.1 913.3,1142.6 910.9,1128.8 909.6,1115 909.5,1101.1 910.6,1087.3 912.8,1073.7 916.2,1060.4 920.6,1047.6 926.1,1035.2 932.7,1023.4 940.2,1012.3 948.7,1002 958,992.5 968.2,983.9 979,976.4 990.5,969.8 1002.5,964.4 1014.9,960.1 1027.7,957 1040.8,955 1054,954.3 1067.3,954.8 1080.6,956.4 1093.7,959.3 1106.5,963.4 1119.1,968.6 1131.2,974.9 1142.7,982.2 1153.7,990.6 1163.9,999.9 1173.4,1010 1182,1021 1189.7,1032.6 1196.4,1044.9" fill="#0007cf"/><polygon points="1201.8,1057.8 1206.4,1071 1209.9,1084.5 1212.3,1098.2 1213.6,1112 1213.7,1125.9 1212.6,1139.6 1210.4,1153.2 1207.1,1166.4 1202.6,1179.3 1197.1,1191.6 1190.6,1203.4 1183.1,1214.5 1174.6,1224.8 1165.3,1234.2 1155.2,1242.7 1144.4,1250.3 1133,1256.8 1121,1262.2 1108.6,1266.5 1095.8,1269.6 1082.7,1271.6 1069.5,1272.3 1056.3,1271.8 1043.1,1270.1 1030,1267.3 1017.2,1263.2 1004.7,1258.1 992.6,1251.8 981.1,1244.4 970.2,1236.1 959.9,1226.8 950.5,1216.7 941.9,1205.8 934.2,1194.2 927.5,1182 921.8,1169.2 917.2,1156 913.7,1142.5 911.3,1128.8 910,1115 909.9,1101.1 911,1087.4 913.2,1073.8 916.5,1060.6 921,1047.7 926.5,1035.4 933,1023.6 940.5,1012.5 949,1002.2 958.3,992.8 968.4,984.3 979.2,976.7 990.6,970.2 1002.6,964.8 1015,960.5 1027.8,957.4 1040.9,955.4 1054.1,954.7 1067.3,955.2 1080.5,956.9 1093.6,959.7 1106.4,963.8 1118.9,968.9 1131,975.2 1142.5,982.6 1153.4,990.9 1163.7,1000.2 1173.1,1010.3 1181.7,1021.2 1189.4,1032.8 1196.1,1045" fill="#0014cf"/><polygon points="1201.4,1057.9 1206,1071.1 1209.5,1084.5 1211.9,1098.2 1213.2,1112 1213.3,1125.8 1212.2,1139.6 1210,1153.1 1206.7,1166.3 1202.3,1179.1 1196.8,1191.4 1190.2,1203.2 1182.7,1214.2 1174.3,1224.5 1165,1233.9 1155,1242.4 1144.2,1249.9 1132.8,1256.4 1120.8,1261.8 1108.4,1266.1 1095.7,1269.2 1082.7,1271.2 1069.5,1271.9 1056.3,1271.4 1043.1,1269.7 1030.1,1266.9 1017.3,1262.9 1004.8,1257.7 992.8,1251.4 981.3,1244.1 970.4,1235.8 960.2,1226.6 950.8,1216.4 942.2,1205.6 934.6,1194 927.9,1181.8 922.2,1169.1 917.6,1155.9 914.1,1142.5 911.7,1128.8 910.4,1115 910.3,1101.2 911.4,1087.4 913.6,1073.9 916.9,1060.7 921.3,1047.9 926.8,1035.6 933.4,1023.8 940.9,1012.8 949.3,1002.5 958.6,993.1 968.6,984.6 979.4,977.1 990.8,970.6 1002.8,965.2 1015.2,960.9 1027.9,957.8 1040.9,955.8 1054.1,955.1 1067.3,955.6 1080.5,957.3 1093.5,960.1 1106.3,964.1 1118.8,969.3 1130.8,975.6 1142.3,982.9 1153.2,991.2 1163.4,1000.4 1172.8,1010.6 1181.4,1021.4 1189,1033 1195.7,1045.2" fill="#0021cf"/><polygon points="1201.1,1058.1 1205.7,1071.2 1209.2,1084.6 1211.6,1098.3 1212.8,1112 1212.9,1125.8 1211.9,1139.5 1209.7,1153 1206.4,1166.2 1201.9,1179 1196.5,1191.3 1190,1202.9 1182.5,1214 1174.1,1224.2 1164.8,1233.6 1154.7,1242.1 1144,1249.6 1132.6,1256.1 1120.7,1261.5 1108.3,1265.8 1095.6,1268.9 1082.6,1270.8 1069.5,1271.5 1056.3,1271.1 1043.2,1269.4 1030.2,1266.5 1017.4,1262.5 1005,1257.4 993,1251.1 981.5,1243.8 970.6,1235.5 960.4,1226.3 951,1216.2 942.5,1205.3 934.9,1193.8 928.2,1181.6 922.5,1168.9 917.9,1155.8 914.4,1142.4 912,1128.7 910.8,1115 910.7,1101.2 911.7,1087.5 913.9,1074 917.2,1060.8 921.7,1048 927.1,1035.7 933.6,1024.1 941.1,1013 949.5,1002.8 958.8,993.4 968.9,984.9 979.6,977.4 991,970.9 1002.9,965.5 1015.3,961.2 1028,958.1 1041,956.2 1054.1,955.5 1067.3,955.9 1080.4,957.6 1093.4,960.5 1106.2,964.5 1118.6,969.6 1130.6,975.9 1142.1,983.2 1153,991.5 1163.2,1000.7 1172.6,1010.8 1181.1,1021.7 1188.7,1033.2 1195.4,1045.4" fill="#002ecf"/><polygon points="1200.7,1058.2 1205.3,1071.3 1208.8,1084.7 1211.2,1098.3 1212.4,1112 1212.5,1125.8 1211.4,1139.4 1209.3,1152.9 1206,1166 1201.5,1178.8 1196.1,1191 1189.6,1202.7 1182.1,1213.7 1173.7,1223.9 1164.5,1233.3 1154.5,1241.7 1143.8,1249.2 1132.4,1255.7 1120.5,1261.1 1108.2,1265.3 1095.5,1268.4 1082.6,1270.3 1069.5,1271.1 1056.3,1270.6 1043.2,1268.9 1030.2,1266.1 1017.5,1262.1 1005.1,1256.9 993.1,1250.7 981.7,1243.4 970.9,1235.2 960.7,1226 951.4,1215.9 942.8,1205.1 935.2,1193.6 928.6,1181.4 922.9,1168.8 918.3,1155.7 914.8,1142.3 912.4,1128.7 911.2,1115 911.1,1101.2 912.2,1087.6 914.3,1074.1 917.6,1061 922.1,1048.2 927.5,1036 934,1024.3 941.5,1013.3 949.9,1003.1 959.1,993.7 969.1,985.3 979.8,977.8 991.2,971.3 1003.1,965.9 1015.4,961.7 1028.1,958.6 1041,956.7 1054.1,955.9 1067.3,956.4 1080.4,958.1 1093.4,960.9 1106.1,964.9 1118.5,970.1 1130.5,976.3 1141.9,983.6 1152.7,991.8 1162.9,1001 1172.2,1011.1 1180.8,1021.9 1188.4,1033.4 1195,1045.6" fill="#003bcf"/><polygon points="1200.3,1058.4 1204.9,1071.4 1208.4,1084.8 1210.8,1098.3 1212,1112 1212.1,1125.7 1211.1,1139.4 1208.9,1152.8 1205.6,1165.9 1201.2,1178.6 1195.7,1190.8 1189.3,1202.5 1181.8,1213.4 1173.4,1223.6 1164.2,1233 1154.2,1241.4 1143.5,1248.9 1132.2,1255.3 1120.4,1260.7 1108.1,1264.9 1095.4,1268 1082.5,1269.9 1069.5,1270.7 1056.3,1270.2 1043.3,1268.5 1030.3,1265.7 1017.6,1261.7 1005.3,1256.6 993.3,1250.4 981.9,1243.1 971.1,1234.9 961,1225.7 951.6,1215.7 943.1,1204.9 935.5,1193.4 928.9,1181.2 923.3,1168.6 918.7,1155.6 915.2,1142.2 912.8,1128.7 911.6,1115 911.5,1101.3 912.5,1087.6 914.7,1074.2 918,1061.1 922.4,1048.4 927.9,1036.2 934.3,1024.5 941.8,1013.6 950.2,1003.4 959.4,994 969.4,985.6 980.1,978.1 991.4,971.7 1003.2,966.3 1015.5,962.1 1028.2,959 1041.1,957.1 1054.1,956.3 1067.3,956.8 1080.3,958.5 1093.3,961.3 1106,965.3 1118.3,970.4 1130.3,976.6 1141.7,983.9 1152.5,992.1 1162.6,1001.3 1172,1011.3 1180.5,1022.1 1188.1,1033.6 1194.7,1045.8" fill="#0048cf"/><polygon points="1199.9,1058.5 1204.5,1071.5 1207.9,1084.9 1210.3,1098.4 1211.5,1112 1211.6,1125.7 1210.6,1139.3 1208.4,1152.6 1205.1,1165.7 1200.8,1178.4 1195.3,1190.6 1188.9,1202.2 1181.4,1213.1 1173.1,1223.3 1163.9,1232.6 1154,1241 1143.3,1248.5 1132,1254.9 1120.2,1260.2 1107.9,1264.5 1095.3,1267.5 1082.5,1269.5 1069.4,1270.2 1056.4,1269.7 1043.3,1268.1 1030.4,1265.2 1017.8,1261.2 1005.4,1256.1 993.5,1249.9 982.2,1242.7 971.4,1234.5 961.3,1225.3 952,1215.3 943.5,1204.6 935.9,1193.1 929.3,1181 923.7,1168.5 919.1,1155.5 915.7,1142.1 913.3,1128.6 912.1,1115 912,1101.3 913,1087.7 915.2,1074.4 918.5,1061.3 922.8,1048.6 928.3,1036.4 934.7,1024.8 942.2,1013.9 950.5,1003.7 959.7,994.4 969.6,986 980.3,978.5 991.6,972.1 1003.4,966.8 1015.7,962.5 1028.3,959.5 1041.1,957.5 1054.2,956.8 1067.2,957.3 1080.3,958.9 1093.2,961.8 1105.8,965.8 1118.2,970.9 1130.1,977.1 1141.4,984.3 1152.2,992.5 1162.3,1001.7 1171.6,1011.7 1180.1,1022.4 1187.7,1033.9 1194.3,1046" fill="#0055cf"/><polygon points="1199.4,1058.7 1204,1071.7 1207.4,1085 1209.8,1098.4 1211,1112 1211.1,1125.7 1210.1,1139.2 1207.9,1152.5 1204.6,1165.5 1200.3,1178.2 1194.9,1190.3 1188.4,1201.9 1181,1212.8 1172.7,1222.9 1163.6,1232.2 1153.6,1240.6 1143,1248 1131.8,1254.4 1120,1259.7 1107.8,1263.9 1095.2,1267 1082.4,1268.9 1069.4,1269.6 1056.4,1269.2 1043.4,1267.5 1030.5,1264.7 1017.9,1260.7 1005.6,1255.7 993.8,1249.5 982.4,1242.3 971.7,1234.1 961.6,1225 952.4,1215 943.9,1204.3 936.4,1192.8 929.8,1180.8 924.2,1168.3 919.6,1155.3 916.2,1142 913.8,1128.6 912.6,1115 912.5,1101.3 913.5,1087.8 915.7,1074.5 919,1061.5 923.3,1048.8 928.7,1036.7 935.2,1025.1 942.6,1014.2 950.9,1004.1 960,994.8 970,986.4 980.6,979 991.8,972.6 1003.6,967.3 1015.8,963.1 1028.4,960 1041.2,958.1 1054.2,957.4 1067.2,957.8 1080.2,959.5 1093.1,962.3 1105.7,966.3 1118,971.3 1129.8,977.5 1141.2,984.7 1151.9,992.9 1162,1002 1171.2,1012 1179.7,1022.7 1187.2,1034.2 1193.8,1046.2" fill="#0062cf"/><polygon points="1198.9,1059 1203.4,1071.9 1206.8,1085.1 1209.2,1098.5 1210.4,1112.1 1210.5,1125.6 1209.5,1139.1 1207.3,1152.4 1204.1,1165.3 1199.7,1177.9 1194.3,1190 1187.9,1201.5 1180.5,1212.4 1172.3,1222.5 1163.1,1231.7 1153.3,1240.1 1142.7,1247.4 1131.5,1253.8 1119.8,1259.1 1107.6,1263.3 1095.1,1266.4 1082.3,1268.3 1069.4,1269 1056.4,1268.5 1043.5,1266.9 1030.7,1264.1 1018.1,1260.1 1005.9,1255.1 994,1248.9 982.8,1241.7 972.1,1233.6 962.1,1224.5 952.8,1214.6 944.4,1203.9 936.9,1192.5 930.3,1180.5 924.7,1168 920.2,1155.1 916.8,1141.9 914.4,1128.5 913.2,1114.9 913.1,1101.4 914.1,1087.9 916.3,1074.6 919.5,1061.7 923.9,1049.1 929.3,1037 935.7,1025.5 943.1,1014.6 951.3,1004.5 960.5,995.3 970.3,986.9 980.9,979.6 992.1,973.2 1003.8,967.9 1016,963.7 1028.5,960.6 1041.3,958.7 1054.2,958 1067.2,958.5 1080.1,960.1 1092.9,962.9 1105.5,966.9 1117.7,971.9 1129.6,978.1 1140.8,985.3 1151.5,993.4 1161.5,1002.5 1170.8,1012.4 1179.2,1023.1 1186.7,1034.5 1193.3,1046.5" fill="#006fcf"/><polygon points="1198.2,1059.2 1202.7,1072 1206.2,1085.2 1208.5,1098.6 1209.7,1112.1 1209.8,1125.6 1208.8,1139 1206.7,1152.2 1203.4,1165.1 1199.1,1177.6 1193.7,1189.7 1187.4,1201.1 1180,1211.9 1171.8,1222 1162.7,1231.2 1152.9,1239.5 1142.3,1246.9 1131.2,1253.2 1119.5,1258.5 1107.4,1262.6 1094.9,1265.7 1082.2,1267.6 1069.3,1268.3 1056.4,1267.8 1043.5,1266.2 1030.8,1263.4 1018.3,1259.5 1006.1,1254.4 994.3,1248.3 983.1,1241.2 972.5,1233 962.5,1224 953.3,1214.1 944.9,1203.5 937.4,1192.2 930.9,1180.2 925.4,1167.8 920.9,1155 917.4,1141.8 915.1,1128.4 913.9,1114.9 913.8,1101.4 914.8,1088 916.9,1074.8 920.2,1061.9 924.5,1049.4 929.9,1037.3 936.2,1025.9 943.6,1015.1 951.8,1005 960.9,995.8 970.7,987.5 981.3,980.1 992.4,973.8 1004.1,968.5 1016.2,964.4 1028.7,961.3 1041.4,959.4 1054.3,958.7 1067.2,959.2 1080.1,960.8 1092.8,963.6 1105.3,967.5 1117.5,972.6 1129.3,978.7 1140.5,985.8 1151.1,994 1161.1,1003 1170.3,1012.9 1178.7,1023.5 1186.2,1034.8 1192.7,1046.8" fill="#007ccf"/><polygon points="1197.6,1059.5 1202.1,1072.2 1205.5,1085.3 1207.8,1098.6 1209,1112.1 1209.1,1125.5 1208.1,1138.8 1206,1152 1202.8,1164.9 1198.5,1177.3 1193.1,1189.3 1186.8,1200.7 1179.5,1211.5 1171.3,1221.5 1162.2,1230.6 1152.4,1238.9 1141.9,1246.2 1130.8,1252.5 1119.2,1257.8 1107.2,1261.9 1094.8,1265 1082.1,1266.8 1069.3,1267.6 1056.4,1267.1 1043.6,1265.5 1030.9,1262.7 1018.5,1258.8 1006.4,1253.8 994.7,1247.7 983.5,1240.6 972.9,1232.5 963,1223.5 953.8,1213.7 945.5,1203.1 938,1191.8 931.5,1179.9 926,1167.5 921.5,1154.8 918.1,1141.7 915.8,1128.4 914.6,1114.9 914.5,1101.5 915.5,1088.2 917.6,1075 920.8,1062.1 925.1,1049.7 930.5,1037.7 936.8,1026.3 944.1,1015.5 952.3,1005.5 961.4,996.4 971.2,988.1 981.7,980.8 992.8,974.5 1004.4,969.2 1016.4,965.1 1028.8,962 1041.5,960.2 1054.3,959.4 1067.2,959.9 1080,961.5 1092.7,964.3 1105.1,968.2 1117.2,973.2 1128.9,979.3 1140.1,986.4 1150.7,994.5 1160.6,1003.5 1169.8,1013.3 1178.1,1023.9 1185.6,1035.2 1192.1,1047.1" fill="#0088cf"/><polygon points="1196.9,1059.7 1201.3,1072.5 1204.7,1085.5 1207,1098.7 1208.3,1112.1 1208.4,1125.4 1207.3,1138.7 1205.2,1151.8 1202,1164.6 1197.7,1177 1192.4,1188.9 1186.1,1200.3 1178.8,1211 1170.7,1220.9 1161.7,1230 1151.9,1238.2 1141.5,1245.5 1130.5,1251.8 1118.9,1257 1106.9,1261.2 1094.6,1264.2 1082,1266 1069.3,1266.7 1056.5,1266.3 1043.7,1264.7 1031.1,1261.9 1018.7,1258 1006.7,1253 995,1247 983.9,1239.9 973.3,1231.9 963.5,1222.9 954.4,1213.1 946.1,1202.6 938.7,1191.4 932.2,1179.6 926.7,1167.3 922.3,1154.5 918.9,1141.5 916.6,1128.3 915.3,1114.9 915.2,1101.6 916.3,1088.3 918.4,1075.2 921.6,1062.4 925.9,1050 931.2,1038.1 937.5,1026.7 944.8,1016 952.9,1006.1 961.9,997 971.7,988.8 982.1,981.5 993.1,975.2 1004.7,970 1016.7,965.8 1029,962.8 1041.6,961 1054.3,960.3 1067.1,960.7 1079.9,962.3 1092.5,965.1 1104.9,969 1116.9,974 1128.6,980 1139.7,987.1 1150.3,995.1 1160.1,1004.1 1169.2,1013.9 1177.5,1024.4 1184.9,1035.6 1191.4,1047.4" fill="#0095cf"/><polygon points="1196.1,1060 1200.6,1072.7 1203.9,1085.6 1206.2,1098.8 1207.4,1112.1 1207.5,1125.4 1206.5,1138.6 1204.4,1151.6 1201.2,1164.3 1197,1176.6 1191.7,1188.5 1185.4,1199.8 1178.2,1210.4 1170.1,1220.3 1161.1,1229.4 1151.4,1237.6 1141.1,1244.8 1130.1,1251 1118.6,1256.2 1106.7,1260.3 1094.4,1263.3 1081.9,1265.2 1069.2,1265.9 1056.5,1265.4 1043.8,1263.8 1031.3,1261.1 1019,1257.2 1007,1252.3 995.4,1246.2 984.3,1239.2 973.8,1231.2 964,1222.3 955,1212.6 946.7,1202.1 939.4,1190.9 932.9,1179.2 927.5,1167 923,1154.3 919.7,1141.4 917.4,1128.2 916.2,1114.9 916.1,1101.6 917.1,1088.4 919.2,1075.4 922.4,1062.7 926.6,1050.4 931.9,1038.5 938.2,1027.2 945.4,1016.6 953.5,1006.7 962.5,997.6 972.2,989.4 982.5,982.2 993.5,976 1005,970.8 1016.9,966.7 1029.2,963.7 1041.7,961.8 1054.4,961.1 1067.1,961.6 1079.8,963.2 1092.3,965.9 1104.6,969.8 1116.6,974.7 1128.2,980.8 1139.3,987.8 1149.8,995.8 1159.6,1004.7 1168.6,1014.4 1176.9,1024.9 1184.2,1036.1 1190.7,1047.8" fill="#00a2cf"/><polygon points="1195.3,1060.4 1199.7,1072.9 1203.1,1085.8 1205.3,1098.9 1206.5,1112.1 1206.6,1125.3 1205.6,1138.4 1203.5,1151.3 1200.4,1164 1196.2,1176.3 1190.9,1188.1 1184.7,1199.3 1177.5,1209.8 1169.4,1219.7 1160.5,1228.7 1150.9,1236.8 1140.6,1244 1129.7,1250.2 1118.2,1255.3 1106.4,1259.4 1094.2,1262.4 1081.8,1264.2 1069.2,1264.9 1056.5,1264.5 1043.9,1262.9 1031.5,1260.2 1019.2,1256.3 1007.3,1251.4 995.8,1245.4 984.8,1238.5 974.4,1230.5 964.6,1221.7 955.6,1212 947.4,1201.5 940.1,1190.5 933.7,1178.8 928.3,1166.6 923.9,1154.1 920.5,1141.2 918.3,1128.1 917.1,1114.9 917,1101.7 918,1088.6 920.1,1075.7 923.2,1063 927.4,1050.7 932.7,1038.9 938.9,1027.7 946.1,1017.2 954.2,1007.3 963.1,998.3 972.7,990.2 983,983 993.9,976.8 1005.4,971.7 1017.2,967.6 1029.4,964.6 1041.8,962.8 1054.4,962.1 1067.1,962.5 1079.7,964.1 1092.1,966.8 1104.4,970.7 1116.3,975.6 1127.8,981.6 1138.8,988.5 1149.2,996.5 1159,1005.3 1168,1015 1176.2,1025.5 1183.5,1036.5 1189.9,1048.2" fill="#00afcf"/><polygon points="1194.4,1060.7 1198.8,1073.2 1202.1,1086 1204.4,1099 1205.6,1112.1 1205.7,1125.2 1204.7,1138.3 1202.6,1151.1 1199.5,1163.7 1195.3,1175.9 1190.1,1187.6 1183.9,1198.7 1176.8,1209.2 1168.8,1219 1159.9,1227.9 1150.3,1236 1140.1,1243.1 1129.2,1249.3 1117.9,1254.4 1106.1,1258.5 1094,1261.4 1081.6,1263.3 1069.1,1264 1056.6,1263.5 1044.1,1261.9 1031.7,1259.2 1019.5,1255.4 1007.6,1250.5 996.2,1244.6 985.3,1237.7 974.9,1229.8 965.2,1221 956.3,1211.3 948.2,1201 940.9,1190 934.6,1178.4 929.2,1166.3 924.8,1153.8 921.5,1141 919.2,1128 918,1114.9 917.9,1101.8 918.9,1088.7 921,1075.9 924.1,1063.3 928.3,1051.1 933.5,1039.4 939.7,1028.3 946.8,1017.8 954.8,1008 963.7,999.1 973.3,991 983.5,983.9 994.4,977.7 1005.7,972.6 1017.5,968.5 1029.6,965.6 1042,963.7 1054.5,963 1067,963.5 1079.5,965.1 1091.9,967.8 1104.1,971.6 1116,976.5 1127.4,982.4 1138.3,989.3 1148.7,997.2 1158.4,1006 1167.3,1015.7 1175.4,1026 1182.7,1037 1189,1048.6" fill="#02bcc6"/><polygon points="1193.5,1061.1 1197.8,1073.5 1201.1,1086.2 1203.4,1099.1 1204.6,1112.1 1204.7,1125.1 1203.7,1138.1 1201.7,1150.8 1198.5,1163.3 1194.4,1175.4 1189.2,1187.1 1183.1,1198.2 1176,1208.6 1168,1218.3 1159.2,1227.1 1149.7,1235.2 1139.5,1242.2 1128.8,1248.3 1117.5,1253.4 1105.8,1257.5 1093.8,1260.4 1081.5,1262.2 1069.1,1262.9 1056.6,1262.5 1044.2,1260.9 1031.9,1258.2 1019.8,1254.4 1008,1249.6 996.7,1243.7 985.8,1236.8 975.5,1229 965.9,1220.2 957,1210.7 949,1200.4 941.7,1189.4 935.4,1177.9 930.1,1165.9 925.8,1153.5 922.5,1140.8 920.2,1127.9 919,1114.9 918.9,1101.9 919.9,1088.9 921.9,1076.2 925.1,1063.7 929.2,1051.6 934.4,1039.9 940.5,1028.8 947.6,1018.4 955.6,1008.7 964.4,999.9 973.9,991.8 984.1,984.8 994.8,978.7 1006.1,973.6 1017.8,969.5 1029.8,966.6 1042.1,964.8 1054.5,964.1 1067,964.5 1079.4,966.1 1091.7,968.8 1103.8,972.6 1115.6,977.4 1126.9,983.3 1137.8,990.2 1148.1,998 1157.7,1006.8 1166.6,1016.3 1174.6,1026.6 1181.9,1037.6 1188.2,1049.1" fill="#0cc9bb"/><polygon points="1192.5,1061.5 1196.8,1073.8 1200,1086.4 1202.3,1099.2 1203.5,1112.1 1203.6,1125 1202.6,1137.9 1200.6,1150.5 1197.5,1162.9 1193.4,1175 1188.2,1186.5 1182.2,1197.5 1175.1,1207.9 1167.2,1217.5 1158.5,1226.3 1149,1234.2 1138.9,1241.2 1128.2,1247.3 1117,1252.3 1105.4,1256.3 1093.5,1259.2 1081.3,1261 1069,1261.7 1056.7,1261.3 1044.3,1259.7 1032.1,1257.1 1020.1,1253.4 1008.4,1248.5 997.2,1242.7 986.4,1235.9 976.2,1228.1 966.6,1219.4 957.8,1209.9 949.8,1199.7 942.7,1188.8 936.4,1177.4 931.1,1165.5 926.8,1153.2 923.6,1140.6 921.3,1127.8 920.1,1114.9 920,1102 921,1089.1 923,1076.5 926.1,1064.1 930.2,1052 935.4,1040.5 941.4,1029.5 948.5,1019.1 956.4,1009.5 965.1,1000.7 974.6,992.8 984.7,985.8 995.4,979.7 1006.6,974.7 1018.2,970.7 1030.1,967.8 1042.3,966 1054.6,965.3 1066.9,965.7 1079.3,967.3 1091.5,969.9 1103.5,973.6 1115.2,978.5 1126.4,984.3 1137.2,991.1 1147.4,998.9 1157,1007.6 1165.8,1017.1 1173.8,1027.3 1180.9,1038.2 1187.2,1049.6" fill="#17cfb1"/><polygon points="1191.5,1061.9 1195.7,1074.1 1199,1086.6 1201.2,1099.3 1202.4,1112.1 1202.5,1125 1201.5,1137.7 1199.5,1150.3 1196.5,1162.6 1192.4,1174.5 1187.3,1186 1181.3,1196.9 1174.3,1207.2 1166.4,1216.7 1157.8,1225.4 1148.4,1233.3 1138.3,1240.3 1127.7,1246.3 1116.6,1251.3 1105.1,1255.2 1093.3,1258.1 1081.2,1259.9 1069,1260.6 1056.7,1260.2 1044.4,1258.6 1032.3,1256 1020.4,1252.3 1008.8,1247.5 997.6,1241.8 986.9,1235 976.8,1227.2 967.3,1218.6 958.6,1209.2 950.7,1199.1 943.6,1188.3 937.4,1176.9 932.1,1165.1 927.9,1152.9 924.6,1140.4 922.4,1127.7 921.2,1114.9 921.1,1102 922.1,1089.3 924.1,1076.7 927.1,1064.4 931.2,1052.5 936.3,1041 942.3,1030.1 949.3,1019.8 957.2,1010.3 965.8,1001.6 975.2,993.7 985.3,986.7 995.9,980.7 1007,975.7 1018.5,971.8 1030.3,968.9 1042.4,967.1 1054.6,966.4 1066.9,966.8 1079.2,968.4 1091.3,971 1103.2,974.7 1114.8,979.5 1126,985.2 1136.7,992 1146.8,999.8 1156.3,1008.4 1165,1017.8 1172.9,1027.9 1180,1038.7 1186.2,1050.1" fill="#21cfa7"/><polygon points="1190.5,1062.3 1194.8,1074.4 1198,1086.8 1200.2,1099.4 1201.4,1112.1 1201.5,1124.9 1200.5,1137.5 1198.5,1150 1195.5,1162.2 1191.5,1174.1 1186.5,1185.5 1180.5,1196.3 1173.5,1206.5 1165.7,1216 1157.1,1224.7 1147.8,1232.5 1137.8,1239.4 1127.3,1245.3 1116.2,1250.3 1104.8,1254.2 1093,1257.1 1081.1,1258.8 1068.9,1259.5 1056.7,1259.1 1044.6,1257.6 1032.5,1255 1020.7,1251.3 1009.2,1246.6 998.1,1240.9 987.4,1234.2 977.4,1226.5 968,1217.9 959.3,1208.5 951.4,1198.5 944.4,1187.7 938.3,1176.5 933.1,1164.7 928.8,1152.6 925.6,1140.2 923.4,1127.6 922.2,1114.9 922.1,1102.1 923.1,1089.5 925.1,1077 928.1,1064.8 932.1,1052.9 937.1,1041.5 943.1,1030.7 950.1,1020.5 957.9,1011 966.5,1002.3 975.8,994.5 985.8,987.6 996.3,981.7 1007.4,976.7 1018.8,972.8 1030.6,969.9 1042.5,968.2 1054.7,967.5 1066.9,967.9 1079,969.4 1091.1,972 1102.9,975.7 1114.4,980.4 1125.5,986.1 1136.2,992.8 1146.2,1000.5 1155.6,1009.1 1164.3,1018.5 1172.2,1028.5 1179.2,1039.3 1185.3,1050.5" fill="#2ccf9c"/><polygon points="1189.7,1062.6 1193.9,1074.7 1197.1,1087 1199.3,1099.5 1200.4,1112.2 1200.5,1124.8 1199.6,1137.4 1197.6,1149.8 1194.7,1161.9 1190.7,1173.7 1185.7,1185 1179.7,1195.8 1172.8,1205.9 1165.1,1215.3 1156.5,1223.9 1147.2,1231.7 1137.3,1238.5 1126.8,1244.4 1115.9,1249.4 1104.5,1253.2 1092.8,1256.1 1080.9,1257.9 1068.9,1258.5 1056.8,1258.1 1044.7,1256.6 1032.7,1254.1 1021,1250.4 1009.5,1245.8 998.5,1240.1 987.9,1233.4 977.9,1225.8 968.6,1217.3 960,1207.9 952.2,1197.9 945.2,1187.3 939.1,1176 933.9,1164.4 929.7,1152.3 926.5,1140 924.3,1127.5 923.2,1114.8 923.1,1102.2 924,1089.6 926,1077.2 928.9,1065.1 932.9,1053.3 937.9,1042 943.9,1031.2 950.8,1021.1 958.5,1011.7 967.1,1003.1 976.4,995.3 986.3,988.5 996.8,982.6 1007.7,977.6 1019.1,973.8 1030.8,970.9 1042.7,969.1 1054.7,968.5 1066.8,968.9 1078.9,970.4 1090.9,972.9 1102.6,976.6 1114.1,981.2 1125.1,986.9 1135.7,993.6 1145.7,1001.2 1155,1009.7 1163.6,1019.1 1171.4,1029.1 1178.4,1039.7 1184.5,1051" fill="#36cf92"/><polygon points="1188.8,1062.9 1193,1074.9 1196.2,1087.2 1198.4,1099.6 1199.5,1112.2 1199.6,1124.7 1198.7,1137.2 1196.8,1149.5 1193.8,1161.6 1189.9,1173.3 1184.9,1184.6 1179,1195.3 1172.2,1205.4 1164.4,1214.7 1155.9,1223.3 1146.7,1231 1136.8,1237.8 1126.4,1243.6 1115.5,1248.5 1104.2,1252.3 1092.6,1255.2 1080.8,1256.9 1068.8,1257.6 1056.8,1257.2 1044.8,1255.7 1032.9,1253.2 1021.2,1249.6 1009.8,1245 998.8,1239.3 988.3,1232.7 978.4,1225.1 969.1,1216.6 960.6,1207.4 952.8,1197.4 945.9,1186.8 939.9,1175.6 934.8,1164.1 930.6,1152.1 927.4,1139.8 925.2,1127.4 924.1,1114.8 924,1102.3 924.9,1089.8 926.8,1077.5 929.8,1065.4 933.7,1053.7 938.7,1042.4 944.6,1031.7 951.4,1021.6 959.2,1012.3 967.7,1003.7 976.9,996 986.8,989.2 997.2,983.4 1008.1,978.5 1019.4,974.7 1031,971.8 1042.8,970.1 1054.8,969.4 1066.8,969.8 1078.8,971.3 1090.7,973.8 1102.4,977.4 1113.8,982 1124.8,987.7 1135.3,994.3 1145.2,1001.9 1154.5,1010.4 1163,1019.6 1170.8,1029.6 1177.7,1040.2 1183.7,1051.4" fill="#41cf87"/><polygon points="1188.1,1063.3 1192.2,1075.2 1195.4,1087.3 1197.5,1099.7 1198.7,1112.2 1198.8,1124.7 1197.9,1137.1 1196,1149.3 1193,1161.3 1189.1,1173 1184.2,1184.2 1178.4,1194.9 1171.5,1204.9 1163.9,1214.2 1155.4,1222.6 1146.2,1230.3 1136.4,1237 1126,1242.8 1115.2,1247.7 1104,1251.5 1092.4,1254.3 1080.7,1256 1068.8,1256.7 1056.8,1256.3 1044.9,1254.9 1033.1,1252.3 1021.5,1248.8 1010.2,1244.2 999.2,1238.6 988.7,1232 978.9,1224.5 969.7,1216 961.2,1206.8 953.5,1196.9 946.6,1186.3 940.6,1175.3 935.5,1163.7 931.4,1151.8 928.2,1139.7 926.1,1127.3 924.9,1114.8 924.8,1102.3 925.7,1089.9 927.6,1077.7 930.6,1065.7 934.5,1054 939.4,1042.8 945.2,1032.1 952.1,1022.1 959.7,1012.8 968.2,1004.4 977.4,996.7 987.2,990 997.6,984.2 1008.4,979.3 1019.6,975.5 1031.2,972.7 1042.9,971 1054.8,970.3 1066.8,970.7 1078.7,972.1 1090.5,974.7 1102.1,978.2 1113.4,982.8 1124.4,988.4 1134.9,995 1144.7,1002.5 1153.9,1011 1162.4,1020.2 1170.1,1030.1 1177,1040.7 1183,1051.7" fill="#4bcf7d"/><polygon points="1187.2,1063.6 1191.3,1075.4 1194.4,1087.5 1196.6,1099.8 1197.7,1112.2 1197.9,1124.6 1197,1136.9 1195.1,1149.1 1192.2,1161 1188.3,1172.6 1183.5,1183.7 1177.6,1194.4 1170.9,1204.3 1163.2,1213.5 1154.8,1221.9 1145.6,1229.5 1135.9,1236.2 1125.6,1242 1114.8,1246.7 1103.7,1250.5 1092.2,1253.3 1080.6,1255.1 1068.7,1255.7 1056.9,1255.3 1045,1253.9 1033.3,1251.4 1021.7,1247.9 1010.5,1243.4 999.6,1237.8 989.2,1231.3 979.4,1223.8 970.2,1215.4 961.8,1206.2 954.2,1196.4 947.4,1185.9 941.4,1174.9 936.4,1163.4 932.3,1151.6 929.2,1139.5 927,1127.2 925.9,1114.8 925.7,1102.4 926.6,1090.1 928.5,1077.9 931.4,1066 935.3,1054.4 940.1,1043.3 946,1032.6 952.7,1022.7 960.4,1013.5 968.8,1005.1 978,997.5 987.7,990.8 998,985 1008.8,980.3 1019.9,976.5 1031.4,973.7 1043,971.9 1054.9,971.3 1066.7,971.7 1078.6,973.1 1090.3,975.6 1101.9,979.1 1113.1,983.6 1124,989.2 1134.4,995.7 1144.2,1003.2 1153.4,1011.6 1161.8,1020.8 1169.4,1030.6 1176.2,1041.1 1182.2,1052.1" fill="#56cf72"/><polygon points="1186.3,1064 1190.3,1075.7 1193.4,1087.7 1195.6,1099.9 1196.7,1112.2 1196.9,1124.5 1196,1136.7 1194.1,1148.8 1191.3,1160.7 1187.5,1172.2 1182.7,1183.3 1176.9,1193.8 1170.2,1203.7 1162.6,1212.9 1154.1,1221.2 1145.1,1228.7 1135.4,1235.3 1125.1,1241 1114.4,1245.8 1103.4,1249.5 1092,1252.3 1080.4,1254 1068.7,1254.7 1056.9,1254.3 1045.1,1252.9 1033.5,1250.4 1022,1247 1010.8,1242.5 1000,1237 989.7,1230.5 979.9,1223.1 970.8,1214.7 962.5,1205.6 954.9,1195.8 948.2,1185.3 942.3,1174.4 937.3,1163 933.3,1151.3 930.2,1139.3 928,1127.1 926.9,1114.8 926.7,1102.5 927.6,1090.3 929.5,1078.2 932.3,1066.3 936.1,1054.8 940.9,1043.7 946.7,1033.2 953.4,1023.3 961,1014.1 969.5,1005.8 978.5,998.3 988.2,991.7 998.5,986 1009.2,981.2 1020.2,977.5 1031.6,974.7 1043.2,973 1054.9,972.3 1066.7,972.7 1078.5,974.1 1090.1,976.6 1101.6,980 1112.8,984.5 1123.6,990 1133.9,996.5 1143.7,1003.9 1152.8,1012.3 1161.1,1021.4 1168.7,1031.2 1175.4,1041.7 1181.3,1052.6" fill="#60cf68"/><polygon points="1185.2,1064.4 1189.3,1076 1192.3,1087.9 1194.5,1100 1195.6,1112.2 1195.7,1124.4 1194.9,1136.6 1193.1,1148.6 1190.3,1160.3 1186.5,1171.8 1181.8,1182.8 1176.1,1193.3 1169.4,1203.1 1161.8,1212.2 1153.5,1220.4 1144.4,1227.8 1134.8,1234.4 1124.6,1240 1114,1244.7 1103,1248.4 1091.7,1251.1 1080.3,1252.8 1068.6,1253.5 1056.9,1253.1 1045.3,1251.8 1033.7,1249.4 1022.3,1245.9 1011.2,1241.5 1000.5,1236.1 990.2,1229.7 980.5,1222.3 971.5,1214 963.2,1204.9 955.8,1195.1 949.1,1184.8 943.3,1173.9 938.4,1162.6 934.3,1151 931.3,1139.1 929.1,1127 928,1114.8 927.9,1102.6 928.7,1090.4 930.5,1078.4 933.3,1066.7 937.1,1055.2 941.8,1044.2 947.5,1033.7 954.2,1023.9 961.8,1014.8 970.1,1006.6 979.2,999.2 988.8,992.6 999,987 1009.6,982.3 1020.6,978.6 1031.9,975.9 1043.3,974.2 1055,973.5 1066.7,973.9 1078.3,975.2 1089.9,977.6 1101.3,981.1 1112.4,985.5 1123.1,990.9 1133.4,997.3 1143.1,1004.7 1152.1,1013 1160.4,1022.1 1167.8,1031.9 1174.5,1042.2 1180.3,1053.1" fill="#6acf5d"/><polygon points="1184.1,1064.8 1188,1076.4 1191.1,1088.2 1193.2,1100.1 1194.3,1112.2 1194.5,1124.3 1193.7,1136.3 1191.9,1148.2 1189.2,1159.9 1185.5,1171.3 1180.8,1182.2 1175.2,1192.6 1168.5,1202.4 1161,1211.4 1152.7,1219.5 1143.7,1226.8 1134.1,1233.3 1124,1238.8 1113.5,1243.4 1102.6,1247.1 1091.5,1249.8 1080.1,1251.5 1068.6,1252.2 1057,1251.8 1045.4,1250.5 1034,1248.1 1022.7,1244.8 1011.6,1240.4 1001,1235.1 990.7,1228.8 981.1,1221.4 972.2,1213.2 964.1,1204.1 956.7,1194.4 950.1,1184.1 944.4,1173.4 939.5,1162.2 935.6,1150.6 932.5,1138.8 930.4,1126.9 929.3,1114.8 929.1,1102.7 929.9,1090.7 931.7,1078.8 934.4,1067.1 938.1,1055.7 942.8,1044.8 948.4,1034.4 955.1,1024.6 962.6,1015.6 970.9,1007.5 979.9,1000.2 989.5,993.7 999.6,988.2 1010.1,983.6 1021,979.9 1032.1,977.2 1043.5,975.5 1055,974.8 1066.6,975.2 1078.2,976.5 1089.6,978.9 1100.9,982.2 1112,986.6 1122.6,991.9 1132.9,998.2 1142.5,1005.6 1151.4,1013.8 1159.5,1022.9 1166.9,1032.6 1173.5,1042.9 1179.2,1053.6" fill="#75cf53"/><polygon points="1182.8,1065.3 1186.8,1076.7 1189.8,1088.4 1191.8,1100.3 1193,1112.2 1193.1,1124.2 1192.4,1136.1 1190.7,1147.9 1188,1159.5 1184.4,1170.8 1179.8,1181.6 1174.2,1192 1167.7,1201.7 1160.2,1210.5 1151.9,1218.6 1142.9,1225.8 1133.4,1232.1 1123.4,1237.6 1113,1242.1 1102.2,1245.7 1091.2,1248.4 1079.9,1250 1068.5,1250.7 1057,1250.4 1045.6,1249.1 1034.2,1246.8 1023,1243.6 1012.1,1239.3 1001.5,1234.1 991.3,1227.8 981.8,1220.6 973,1212.4 964.9,1203.4 957.6,1193.7 951.2,1183.5 945.5,1172.8 940.8,1161.7 936.8,1150.3 933.8,1138.6 931.8,1126.7 930.6,1114.8 930.5,1102.8 931.2,1090.9 932.9,1079.1 935.6,1067.5 939.2,1056.2 943.8,1045.4 949.4,1035 955.9,1025.3 963.4,1016.5 971.7,1008.4 980.7,1001.2 990.2,994.9 1000.2,989.4 1010.6,984.9 1021.4,981.3 1032.4,978.6 1043.7,977 1055.1,976.3 1066.6,976.6 1078,977.9 1089.4,980.2 1100.6,983.4 1111.5,987.7 1122.1,992.9 1132.3,999.2 1141.8,1006.4 1150.6,1014.6 1158.7,1023.6 1166,1033.3 1172.4,1043.5 1178.1,1054.2" fill="#7fcf49"/><polygon points="1181.5,1065.9 1185.3,1077.2 1188.3,1088.7 1190.3,1100.4 1191.4,1112.2 1191.7,1124.1 1190.9,1135.9 1189.3,1147.5 1186.7,1159 1183.2,1170.2 1178.8,1181 1173.3,1191.3 1166.8,1200.9 1159.3,1209.7 1151,1217.6 1142.1,1224.7 1132.7,1230.9 1122.7,1236.2 1112.4,1240.7 1101.7,1244.2 1090.8,1246.8 1079.7,1248.5 1068.4,1249.2 1057.1,1248.9 1045.8,1247.6 1034.5,1245.4 1023.4,1242.3 1012.5,1238.1 1002,1233 991.9,1226.9 982.5,1219.6 973.8,1211.5 965.8,1202.5 958.7,1192.9 952.3,1182.7 946.8,1172.1 942.1,1161.1 938.3,1149.8 935.3,1138.3 933.3,1126.6 932.2,1114.8 931.9,1102.9 932.7,1091.1 934.3,1079.5 936.9,1068 940.4,1056.8 944.8,1046 950.3,1035.7 956.8,1026.1 964.3,1017.3 972.6,1009.4 981.5,1002.3 990.9,996.1 1000.9,990.8 1011.2,986.3 1021.9,982.8 1032.8,980.2 1043.9,978.5 1055.2,977.8 1066.5,978.1 1077.8,979.4 1089.1,981.6 1100.2,984.7 1111.1,988.9 1121.6,994 1131.7,1000.1 1141.1,1007.4 1149.8,1015.5 1157.8,1024.5 1164.9,1034.1 1171.3,1044.3 1176.8,1054.9" fill="#8acf3e"/><polygon points="1180.1,1066.4 1183.8,1077.6 1186.7,1089 1188.7,1100.6 1189.9,1112.3 1190.1,1124 1189.4,1135.6 1187.9,1147.2 1185.4,1158.5 1182.1,1169.7 1177.7,1180.4 1172.3,1190.6 1165.9,1200.2 1158.4,1208.8 1150.2,1216.6 1141.3,1223.5 1131.9,1229.6 1122,1234.8 1111.8,1239.1 1101.3,1242.6 1090.5,1245.2 1079.5,1246.8 1068.3,1247.5 1057.1,1247.3 1045.9,1246.1 1034.8,1244 1023.8,1240.9 1013,1236.9 1002.5,1231.9 992.5,1225.9 983.2,1218.7 974.5,1210.6 966.8,1201.6 959.8,1192.1 953.6,1182 948.1,1171.4 943.5,1160.6 939.8,1149.4 936.9,1138 934.9,1126.4 933.7,1114.7 933.5,1103 934.2,1091.4 935.7,1079.8 938.2,1068.5 941.5,1057.3 945.9,1046.6 951.3,1036.4 957.7,1026.8 965.2,1018.2 973.4,1010.4 982.3,1003.5 991.7,997.4 1001.6,992.2 1011.8,987.9 1022.3,984.4 1033.1,981.8 1044.1,980.2 1055.3,979.5 1066.5,979.7 1077.7,980.9 1088.8,983 1099.8,986.1 1110.6,990.1 1121.1,995.1 1131.1,1001.1 1140.4,1008.3 1149.1,1016.4 1156.8,1025.4 1163.8,1034.9 1170,1045 1175.5,1055.6" fill="#94cf34"/><polygon points="1178.5,1067 1182.2,1078.1 1185,1089.3 1187,1100.8 1188.2,1112.3 1188.4,1123.8 1187.9,1135.3 1186.4,1146.8 1184.1,1158.1 1180.9,1169.1 1176.7,1179.8 1171.4,1190 1165,1199.4 1157.6,1208 1149.3,1215.6 1140.4,1222.3 1131.1,1228.2 1121.3,1233.3 1111.2,1237.5 1100.7,1240.9 1090.1,1243.4 1079.2,1245 1068.2,1245.7 1057.2,1245.5 1046.1,1244.4 1035.1,1242.5 1024.2,1239.6 1013.5,1235.7 1003.1,1230.9 993.1,1224.9 983.8,1217.9 975.3,1209.7 967.7,1200.8 960.9,1191.2 954.8,1181.2 949.5,1170.7 945.1,1160 941.4,1148.9 938.6,1137.7 936.6,1126.2 935.4,1114.7 935.2,1103.2 935.7,1091.7 937.2,1080.2 939.5,1068.9 942.7,1057.9 946.9,1047.2 952.2,1037 958.6,1027.6 966,1019 974.3,1011.4 983.2,1004.7 992.5,998.8 1002.3,993.7 1012.4,989.5 1022.9,986.1 1033.5,983.6 1044.4,982 1055.4,981.3 1066.4,981.5 1077.5,982.6 1088.5,984.5 1099.4,987.4 1110.1,991.3 1120.5,996.1 1130.5,1002.1 1139.8,1009.1 1148.3,1017.3 1155.9,1026.2 1162.7,1035.8 1168.8,1045.8 1174.1,1056.3" fill="#9fcf29"/><polygon points="1176.9,1067.7 1180.5,1078.6 1183.3,1089.7 1185.2,1100.9 1186.4,1112.3 1186.7,1123.7 1186.2,1135.1 1184.9,1146.4 1182.8,1157.6 1179.7,1168.6 1175.7,1179.2 1170.5,1189.4 1164.2,1198.7 1156.7,1207.1 1148.5,1214.6 1139.6,1221.1 1130.2,1226.9 1120.5,1231.8 1110.5,1235.9 1100.2,1239.1 1089.7,1241.6 1079,1243.1 1068.2,1243.9 1057.3,1243.7 1046.3,1242.8 1035.5,1240.9 1024.6,1238.2 1014,1234.5 1003.6,1229.9 993.7,1224 984.4,1217 976.1,1208.9 968.6,1199.9 962,1190.4 956.1,1180.4 951,1170 946.7,1159.3 943.1,1148.4 940.3,1137.3 938.4,1126.1 937.2,1114.7 936.9,1103.3 937.4,1091.9 938.7,1080.6 940.8,1069.4 943.9,1058.4 947.9,1047.8 953.1,1037.6 959.4,1028.3 966.9,1019.9 975.1,1012.4 984,1005.9 993.4,1000.1 1003.1,995.2 1013.1,991.1 1023.4,987.9 1033.9,985.4 1044.6,983.9 1055.4,983.1 1066.3,983.3 1077.3,984.2 1088.1,986.1 1099,988.8 1109.6,992.5 1120,997.1 1129.9,1003 1139.2,1010 1147.5,1018.1 1155,1027.1 1161.6,1036.6 1167.5,1046.6 1172.6,1057" fill="#a9cf1f"/><polygon points="1175.2,1068.4 1178.7,1079.1 1181.4,1090.1 1183.3,1101.1 1184.5,1112.3 1184.9,1123.5 1184.5,1134.8 1183.3,1146 1181.4,1157.1 1178.5,1168 1174.7,1178.7 1169.7,1188.8 1163.4,1198.1 1155.9,1206.4 1147.6,1213.6 1138.7,1219.9 1129.4,1225.4 1119.7,1230.1 1109.8,1234 1099.6,1237.2 1089.2,1239.6 1078.7,1241.1 1068.1,1241.9 1057.3,1241.8 1046.6,1240.9 1035.8,1239.3 1025.1,1236.8 1014.4,1233.3 1004.1,1228.9 994.2,1223.2 985,1216.2 976.8,1208.1 969.5,1199.1 963.1,1189.5 957.4,1179.5 952.5,1169.2 948.4,1158.6 944.9,1147.9 942.2,1136.9 940.3,1125.9 939.1,1114.7 938.7,1103.5 939.1,1092.2 940.3,1081 942.2,1069.9 945.1,1059 948.9,1048.3 953.9,1038.2 960.2,1028.9 967.7,1020.6 976,1013.4 984.9,1007.1 994.2,1001.6 1003.9,996.9 1013.8,993 1024,989.8 1034.4,987.4 1044.9,985.9 1055.5,985.1 1066.3,985.2 1077,986.1 1087.8,987.7 1098.5,990.2 1109.2,993.7 1119.5,998.1 1129.4,1003.8 1138.6,1010.8 1146.8,1018.9 1154.1,1027.9 1160.5,1037.5 1166.2,1047.5 1171.1,1057.8" fill="#b4cf14"/><polygon points="1173.4,1069.1 1176.7,1079.7 1179.3,1090.5 1181.2,1101.4 1182.4,1112.3 1182.9,1123.4 1182.7,1134.4 1181.7,1145.5 1180,1156.6 1177.4,1167.5 1173.8,1178.2 1168.9,1188.3 1162.7,1197.5 1155.2,1205.6 1146.8,1212.6 1137.8,1218.7 1128.5,1223.9 1118.8,1228.4 1109,1232.1 1099,1235.1 1088.8,1237.4 1078.4,1238.9 1068,1239.7 1057.4,1239.7 1046.8,1239 1036.1,1237.6 1025.5,1235.3 1014.9,1232.2 1004.5,1227.9 994.6,1222.4 985.6,1215.5 977.5,1207.3 970.4,1198.2 964.2,1188.6 958.9,1178.6 954.2,1168.4 950.2,1157.9 946.9,1147.3 944.3,1136.5 942.4,1125.6 941.2,1114.7 940.7,1103.6 940.9,1092.6 941.9,1081.5 943.6,1070.4 946.2,1059.5 949.8,1048.8 954.7,1038.7 960.9,1029.5 968.4,1021.4 976.8,1014.4 985.8,1008.3 995.1,1003.1 1004.8,998.6 1014.6,994.9 1024.6,991.9 1034.8,989.6 1045.2,988.1 1055.6,987.3 1066.2,987.3 1076.8,988 1087.5,989.4 1098.1,991.7 1108.7,994.8 1119.1,999.1 1129,1004.6 1138,1011.5 1146.1,1019.7 1153.2,1028.8 1159.4,1038.4 1164.7,1048.4 1169.4,1058.6" fill="#becf0a"/><polygon points="1171.5,1069.8 1174.7,1080.3 1177.2,1090.9 1179,1101.6 1180.2,1112.3 1180.8,1123.2 1180.7,1134.1 1180,1145.1 1178.6,1156 1176.3,1167 1173,1177.7 1168.3,1187.8 1162.1,1197 1154.5,1204.9 1146,1211.7 1136.9,1217.4 1127.5,1222.4 1117.9,1226.6 1108.2,1230.1 1098.3,1232.9 1088.3,1235.1 1078.1,1236.6 1067.8,1237.4 1057.5,1237.6 1047,1237.1 1036.5,1235.8 1025.9,1233.9 1015.4,1231 1005,1227.1 995,1221.8 986,1214.9 978.1,1206.7 971.3,1197.5 965.4,1187.7 960.3,1177.7 955.9,1167.5 952.1,1157.2 948.9,1146.7 946.4,1136.1 944.6,1125.4 943.4,1114.7 942.8,1103.8 942.9,1092.9 943.6,1081.9 945,1071 947.3,1060 950.6,1049.3 955.3,1039.2 961.5,1030 969.1,1022.1 977.6,1015.3 986.7,1009.6 996.1,1004.6 1005.7,1000.4 1015.4,996.9 1025.3,994.1 1035.3,991.9 1045.5,990.4 1055.8,989.6 1066.1,989.4 1076.6,989.9 1087.1,991.2 1097.7,993.1 1108.2,996 1118.6,999.9 1128.6,1005.2 1137.6,1012.1 1145.5,1020.3 1152.3,1029.5 1158.2,1039.3 1163.3,1049.3 1167.7,1059.5" fill="#c9c600"/><polygon points="1169.5,1070.7 1172.4,1081 1174.8,1091.4 1176.6,1101.8 1177.9,1112.4 1178.6,1123 1178.7,1133.8 1178.2,1144.6 1177.1,1155.5 1175.2,1166.5 1172.2,1177.3 1167.7,1187.5 1161.6,1196.6 1153.9,1204.3 1145.2,1210.8 1136,1216.2 1126.5,1220.7 1117,1224.6 1107.3,1227.9 1097.6,1230.6 1087.7,1232.6 1077.8,1234.1 1067.7,1235 1057.6,1235.2 1047.3,1234.9 1036.9,1234 1026.4,1232.4 1015.8,1229.9 1005.3,1226.3 995.4,1221.2 986.4,1214.4 978.7,1206 972.1,1196.7 966.6,1186.8 961.8,1176.7 957.7,1166.6 954.1,1156.3 951.2,1146 948.8,1135.6 947,1125.2 945.7,1114.6 945,1104 944.9,1093.2 945.4,1082.4 946.5,1071.5 948.4,1060.5 951.4,1049.7 955.9,1039.5 962,1030.4 969.7,1022.7 978.4,1016.2 987.6,1010.8 997.1,1006.3 1006.6,1002.4 1016.3,999.1 1026,996.4 1035.9,994.4 1045.8,992.9 1055.9,992 1066,991.8 1076.3,992.1 1086.7,993 1097.2,994.6 1107.8,997.1 1118.3,1000.7 1128.2,1005.8 1137.2,1012.6 1144.9,1021 1151.5,1030.3 1157,1040.2 1161.8,1050.3 1165.9,1060.4" fill="#cfba00"/><polygon points="1167.3,1071.5 1170,1081.7 1172.3,1091.8 1174.1,1102.1 1175.4,1112.4 1176.2,1122.8 1176.6,1133.4 1176.4,1144.1 1175.6,1155 1174.1,1166 1171.5,1176.8 1167.2,1187.1 1161.1,1196.2 1153.3,1203.7 1144.4,1209.8 1135,1214.9 1125.5,1219 1116,1222.6 1106.4,1225.6 1096.8,1228 1087.1,1230 1077.4,1231.4 1067.6,1232.3 1057.6,1232.8 1047.5,1232.7 1037.3,1232.1 1026.8,1230.8 1016.2,1228.8 1005.7,1225.6 995.7,1220.7 986.7,1213.9 979.2,1205.4 973,1195.9 967.8,1185.9 963.4,1175.8 959.6,1165.6 956.3,1155.5 953.6,1145.3 951.3,1135.2 949.5,1124.9 948.2,1114.6 947.4,1104.2 947,1093.6 947.2,1082.9 948,1072 949.5,1061 952.1,1050.2 956.4,1039.9 962.5,1030.8 970.3,1023.3 979.2,1017.2 988.6,1012.1 998.1,1008 1007.6,1004.4 1017.2,1001.4 1026.8,999 1036.5,997 1046.2,995.6 1056,994.7 1066,994.2 1076.1,994.3 1086.3,994.9 1096.8,996.2 1107.4,998.2 1117.9,1001.4 1127.9,1006.3 1136.9,1013.1 1144.4,1021.6 1150.6,1031.1 1155.8,1041.1 1160.2,1051.2 1164,1061.4" fill="#cfae00"/><polygon points="1164.9,1072.5 1167.4,1082.4 1169.6,1092.4 1171.3,1102.4 1172.6,1112.4 1173.6,1122.6 1174.2,1133 1174.4,1143.6 1174,1154.4 1172.9,1165.4 1170.7,1176.4 1166.7,1186.7 1160.6,1195.8 1152.6,1203.1 1143.5,1208.8 1134,1213.4 1124.4,1217.2 1114.9,1220.4 1105.4,1223 1096,1225.3 1086.5,1227.1 1077,1228.5 1067.5,1229.5 1057.7,1230.1 1047.8,1230.3 1037.7,1230 1027.3,1229.2 1016.7,1227.6 1006.1,1224.8 996,1220.2 987.1,1213.4 979.8,1204.8 973.9,1195 969.1,1184.9 965.1,1174.7 961.7,1164.5 958.7,1154.5 956.2,1144.6 954,1134.6 952.3,1124.6 951,1114.6 950,1104.4 949.4,1094 949.2,1083.4 949.6,1072.6 950.7,1061.6 952.9,1050.6 956.9,1040.3 963,1031.2 971,1023.9 980.1,1018.2 989.6,1013.6 999.2,1009.8 1008.7,1006.6 1018.2,1004 1027.6,1001.7 1037.1,999.9 1046.6,998.5 1056.1,997.5 1065.9,996.9 1075.8,996.7 1085.9,997 1096.3,997.8 1106.9,999.4 1117.5,1002.2 1127.6,1006.8 1136.5,1013.6 1143.8,1022.2 1149.7,1032 1154.5,1042.1 1158.5,1052.3 1161.9,1062.5" fill="#cfa200"/><polygon points="1162.2,1073.5 1164.5,1083.3 1166.5,1093 1168.2,1102.7 1169.6,1112.5 1170.7,1122.4 1171.5,1132.5 1172.1,1142.9 1172.1,1153.7 1171.5,1164.7 1169.6,1175.8 1165.9,1186.2 1159.8,1195.1 1151.8,1202.2 1142.5,1207.6 1132.8,1211.7 1123.1,1215.1 1113.6,1217.9 1104.3,1220.2 1095,1222.2 1085.8,1223.9 1076.6,1225.2 1067.3,1226.3 1057.8,1227.1 1048.2,1227.5 1038.2,1227.6 1027.9,1227.2 1017.3,1226.1 1006.7,1223.7 996.6,1219.3 987.7,1212.6 980.6,1203.9 975,1194 970.7,1183.7 967.1,1173.4 964,1163.3 961.4,1153.5 959.1,1143.7 957.1,1134 955.4,1124.3 954,1114.5 952.9,1104.6 952.1,1094.5 951.5,1084.1 951.5,1073.3 952.1,1062.3 954,1051.2 957.7,1040.8 963.8,1031.9 971.8,1024.8 981.1,1019.4 990.8,1015.3 1000.5,1011.9 1010,1009.1 1019.3,1006.8 1028.6,1004.8 1037.8,1003.1 1047,1001.8 1056.3,1000.7 1065.8,999.9 1075.4,999.5 1085.4,999.4 1095.7,999.8 1106.3,1000.9 1116.9,1003.3 1127,1007.7 1135.9,1014.4 1143,1023.1 1148.6,1033 1152.9,1043.3 1156.5,1053.6 1159.6,1063.7" fill="#cf9600"/><polygon points="1159.1,1074.8 1161.1,1084.3 1163,1093.7 1164.6,1103 1166,1112.5 1167.3,1122.1 1168.3,1132 1169.1,1142.2 1169.6,1152.8 1169.4,1163.7 1167.9,1174.8 1164.4,1185.1 1158.5,1194 1150.3,1200.8 1140.9,1205.8 1131.2,1209.5 1121.5,1212.4 1112.1,1214.8 1102.9,1216.9 1093.9,1218.6 1085,1220.2 1076.1,1221.5 1067.1,1222.6 1058,1223.5 1048.6,1224.2 1038.8,1224.6 1028.7,1224.6 1018.2,1223.9 1007.6,1221.9 997.5,1217.8 988.8,1211.2 981.9,1202.4 976.7,1192.4 972.7,1182.1 969.6,1171.8 966.9,1161.9 964.5,1152.2 962.5,1142.7 960.6,1133.3 959,1124 957.6,1114.5 956.3,1104.9 955.3,1095 954.5,1084.8 954,1074.2 954.2,1063.3 955.7,1052.2 959.2,1041.9 965.1,1033 973.3,1026.2 982.7,1021.2 992.4,1017.5 1002.1,1014.6 1011.5,1012.2 1020.7,1010.1 1029.7,1008.4 1038.6,1006.8 1047.5,1005.5 1056.5,1004.4 1065.6,1003.5 1075,1002.8 1084.8,1002.4 1094.9,1002.4 1105.4,1003.1 1116,1005.1 1126.1,1009.2 1134.8,1015.8 1141.7,1024.6 1146.9,1034.6 1150.9,1044.9 1154,1055.2 1156.7,1065.1" fill="#cf8a00"/><polygon points="1155.2,1076.3 1157.1,1085.5 1158.8,1094.5 1160.4,1103.5 1161.8,1112.5 1163.1,1121.8 1164.3,1131.2 1165.3,1141.1 1165.9,1151.4 1166,1162.2 1164.8,1173 1161.6,1183.1 1155.8,1191.7 1147.7,1198.3 1138.5,1202.9 1128.8,1206.3 1119.4,1208.8 1110.2,1210.9 1101.3,1212.7 1092.6,1214.3 1084.1,1215.7 1075.5,1217 1066.9,1218.1 1058.1,1219.1 1049.1,1219.9 1039.7,1220.6 1029.8,1220.8 1019.5,1220.4 1009.1,1218.8 999.3,1215 990.8,1208.5 984.2,1199.9 979.4,1190 975.7,1179.8 972.9,1169.7 970.5,1160 968.4,1150.7 966.5,1141.5 964.8,1132.5 963.2,1123.5 961.8,1114.5 960.5,1105.2 959.3,1095.8 958.3,1085.9 957.7,1075.6 957.6,1064.8 958.8,1054 962,1043.9 967.8,1035.3 975.9,1028.7 985.1,1024.1 994.8,1020.7 1004.2,1018.2 1013.4,1016.1 1022.3,1014.3 1031,1012.7 1039.5,1011.3 1048.1,1010 1056.7,1008.9 1065.5,1007.9 1074.5,1007.1 1083.9,1006.4 1093.8,1006.2 1104.1,1006.6 1114.5,1008.2 1124.3,1012 1132.8,1018.5 1139.4,1027.1 1144.2,1037 1147.9,1047.2 1150.7,1057.3 1153.1,1067" fill="#cf7e00"/><polygon points="1150.9,1078.1 1152.6,1086.8 1154.3,1095.4 1155.7,1103.9 1157.1,1112.6 1158.4,1121.4 1159.5,1130.4 1160.5,1139.9 1161.2,1149.7 1161.3,1160 1160.2,1170.3 1157.1,1180 1151.6,1188.2 1143.9,1194.4 1135,1198.9 1125.8,1202 1116.7,1204.4 1107.9,1206.4 1099.5,1208.1 1091.2,1209.6 1083,1211 1074.9,1212.2 1066.7,1213.2 1058.3,1214.2 1049.7,1215 1040.7,1215.6 1031.3,1215.9 1021.5,1215.6 1011.5,1214 1002.1,1210.4 994,1204.3 987.7,1196 983.1,1186.5 979.7,1176.7 977,1167.1 974.7,1157.9 972.7,1148.9 971,1140.2 969.3,1131.6 967.9,1123.1 966.5,1114.4 965.2,1105.6 964.1,1096.6 963.1,1087.1 962.4,1077.3 962.3,1067 963.4,1056.7 966.5,1047 972,1038.8 979.7,1032.6 988.6,1028.1 997.8,1025 1006.9,1022.6 1015.7,1020.6 1024.1,1018.9 1032.4,1017.4 1040.6,1016 1048.7,1014.8 1056.9,1013.8 1065.3,1012.8 1073.9,1012 1082.9,1011.4 1092.3,1011.1 1102.1,1011.4 1112.1,1013 1121.5,1016.6 1129.6,1022.7 1135.9,1031 1140.5,1040.5 1143.9,1050.3 1146.6,1059.9 1148.9,1069.1" fill="#cf7200"/><polygon points="1146.6,1079.7 1148.4,1088 1149.9,1096.2 1151.3,1104.4 1152.6,1112.6 1153.8,1121 1154.9,1129.6 1155.8,1138.6 1156.4,1148 1156.4,1157.7 1155.4,1167.5 1152.4,1176.8 1147.2,1184.6 1139.9,1190.5 1131.4,1194.7 1122.7,1197.8 1114.1,1200.1 1105.7,1202 1097.7,1203.6 1089.8,1205.1 1082,1206.4 1074.3,1207.5 1066.4,1208.5 1058.5,1209.4 1050.2,1210.2 1041.7,1210.7 1032.7,1211 1023.4,1210.6 1014,1209.1 1005,1205.6 997.3,1199.8 991.3,1191.9 986.9,1182.9 983.6,1173.7 981,1164.6 978.9,1155.8 977,1147.3 975.2,1139 973.7,1130.8 972.3,1122.6 971,1114.4 969.8,1106 968.7,1097.4 967.8,1088.4 967.2,1079 967.2,1069.3 968.2,1059.5 971.2,1050.2 976.4,1042.4 983.7,1036.5 992.2,1032.3 1000.9,1029.2 1009.5,1026.9 1017.9,1025 1025.9,1023.4 1033.8,1021.9 1041.6,1020.6 1049.3,1019.5 1057.2,1018.5 1065.1,1017.6 1073.4,1016.8 1081.9,1016.3 1090.9,1016 1100.2,1016.4 1109.6,1017.9 1118.6,1021.4 1126.3,1027.2 1132.3,1035.1 1136.7,1044.1 1140,1053.3 1142.6,1062.4 1144.7,1071.2" fill="#cf6600"/><polygon points="1142.5,1081.4 1144.2,1089.3 1145.7,1097.1 1147,1104.8 1148.2,1112.7 1149.3,1120.6 1150.3,1128.8 1151.1,1137.3 1151.6,1146.2 1151.6,1155.5 1150.5,1164.7 1147.7,1173.5 1142.7,1180.9 1135.8,1186.5 1127.9,1190.6 1119.6,1193.5 1111.5,1195.8 1103.6,1197.7 1095.9,1199.3 1088.4,1200.7 1081,1201.9 1073.7,1203 1066.2,1203.9 1058.6,1204.8 1050.8,1205.4 1042.7,1205.9 1034.2,1206.1 1025.4,1205.7 1016.4,1204.2 1007.9,1200.9 1000.6,1195.3 994.9,1187.9 990.7,1179.4 987.6,1170.7 985,1162 982.9,1153.7 981.1,1145.6 979.4,1137.7 977.9,1129.9 976.6,1122.2 975.4,1114.3 974.3,1106.4 973.3,1098.2 972.5,1089.7 972,1080.8 972,1071.5 973.1,1062.3 975.9,1053.5 980.9,1046.1 987.8,1040.5 995.7,1036.4 1004,1033.5 1012.1,1031.2 1020,1029.3 1027.7,1027.7 1035.2,1026.3 1042.6,1025.1 1049.9,1024 1057.4,1023.1 1065,1022.2 1072.8,1021.6 1080.9,1021.1 1089.4,1020.9 1098.2,1021.3 1107.2,1022.8 1115.7,1026.1 1123,1031.7 1128.7,1039.1 1132.9,1047.6 1136,1056.3 1138.6,1065 1140.7,1073.3" fill="#cf5a00"/><polygon points="1138.4,1083 1140,1090.5 1141.4,1097.9 1142.7,1105.3 1143.8,1112.7 1144.8,1120.3 1145.7,1128 1146.4,1136.1 1146.8,1144.5 1146.7,1153.1 1145.6,1161.9 1142.9,1170.1 1138.2,1177.1 1131.7,1182.4 1124.2,1186.3 1116.5,1189.2 1108.9,1191.4 1101.4,1193.3 1094.2,1194.8 1087.1,1196.2 1080.1,1197.4 1073.1,1198.4 1066,1199.3 1058.8,1200 1051.4,1200.6 1043.7,1201 1035.7,1201.1 1027.4,1200.6 1019,1199.1 1011,1195.9 1004.1,1190.7 998.7,1183.7 994.6,1175.8 991.6,1167.6 989.1,1159.5 987.1,1151.6 985.2,1144 983.6,1136.5 982.2,1129.1 980.9,1121.7 979.8,1114.3 978.8,1106.7 977.9,1099 977.2,1090.9 976.8,1082.5 976.9,1073.9 978,1065.1 980.7,1056.9 985.4,1049.9 991.9,1044.6 999.4,1040.7 1007.1,1037.8 1014.7,1035.6 1022.2,1033.7 1029.4,1032.2 1036.5,1030.8 1043.5,1029.6 1050.5,1028.6 1057.6,1027.7 1064.8,1027 1072.2,1026.4 1079.9,1026 1087.9,1025.9 1096.2,1026.4 1104.6,1027.9 1112.6,1031.1 1119.5,1036.3 1124.9,1043.3 1129,1051.2 1132,1059.4 1134.5,1067.5 1136.5,1075.4" fill="#cf4e00"/><polygon points="1134,1084.8 1135.6,1091.8 1137,1098.8 1138.2,1105.7 1139.2,1112.7 1140.1,1119.9 1140.9,1127.2 1141.4,1134.8 1141.7,1142.6 1141.5,1150.7 1140.4,1158.9 1137.8,1166.5 1133.4,1173.1 1127.4,1178.2 1120.4,1181.9 1113.2,1184.7 1106.1,1186.9 1099.1,1188.7 1092.3,1190.2 1085.7,1191.6 1079,1192.7 1072.4,1193.7 1065.7,1194.5 1059,1195.2 1052,1195.6 1044.8,1195.9 1037.2,1195.9 1029.5,1195.3 1021.6,1193.8 1014.2,1190.8 1007.7,1185.9 1002.6,1179.4 998.7,1172 995.8,1164.3 993.4,1156.8 991.3,1149.4 989.6,1142.2 988,1135.2 986.6,1128.2 985.4,1121.3 984.4,1114.3 983.5,1107.1 982.7,1099.8 982.2,1092.2 981.9,1084.4 982.1,1076.3 983.2,1068.1 985.8,1060.5 990.2,1053.9 996.2,1048.8 1003.2,1045.1 1010.4,1042.3 1017.5,1040.1 1024.5,1038.3 1031.3,1036.8 1037.9,1035.4 1044.6,1034.3 1051.2,1033.3 1057.9,1032.5 1064.6,1031.8 1071.6,1031.4 1078.8,1031.1 1086.4,1031.1 1094.1,1031.7 1102,1033.2 1109.4,1036.2 1115.9,1041.1 1121,1047.6 1124.9,1055 1127.8,1062.7 1130.2,1070.2 1132.3,1077.6" fill="#cf4200"/><polygon points="1129.3,1086.6 1130.8,1093.2 1132.1,1099.7 1133.2,1106.2 1134.2,1112.8 1135,1119.5 1135.6,1126.3 1136,1133.3 1136.1,1140.6 1135.8,1148.1 1134.6,1155.6 1132.2,1162.6 1128.1,1168.7 1122.6,1173.4 1116.2,1177 1109.7,1179.7 1103.1,1181.9 1096.6,1183.7 1090.3,1185.2 1084.1,1186.5 1077.9,1187.6 1071.7,1188.5 1065.5,1189.3 1059.1,1189.8 1052.6,1190.2 1045.9,1190.3 1039,1190.1 1031.8,1189.5 1024.6,1187.9 1017.7,1185 1011.7,1180.5 1006.9,1174.6 1003.3,1167.8 1000.4,1160.8 998,1153.8 996,1147 994.3,1140.4 992.8,1133.8 991.5,1127.3 990.4,1120.8 989.4,1114.2 988.6,1107.5 988,1100.7 987.6,1093.7 987.5,1086.4 987.8,1078.9 989,1071.4 991.4,1064.4 995.5,1058.3 1001,1053.6 1007.4,1050 1013.9,1047.3 1020.5,1045.1 1027,1043.3 1033.3,1041.8 1039.5,1040.5 1045.7,1039.4 1051.9,1038.5 1058.1,1037.7 1064.5,1037.2 1071,1036.8 1077.7,1036.7 1084.6,1036.9 1091.8,1037.5 1099,1039.1 1105.9,1042 1111.9,1046.5 1116.7,1052.4 1120.3,1059.2 1123.2,1066.2 1125.6,1073.2 1127.6,1080" fill="#cf3600"/><polygon points="1123.8,1088.8 1125.3,1094.8 1126.5,1100.8 1127.5,1106.8 1128.4,1112.9 1129,1119 1129.5,1125.2 1129.8,1131.6 1129.7,1138.2 1129.2,1145 1128,1151.7 1125.7,1158.1 1122,1163.6 1117,1168 1111.4,1171.4 1105.5,1174 1099.6,1176.1 1093.8,1177.9 1088,1179.4 1082.3,1180.7 1076.6,1181.7 1070.9,1182.5 1065.2,1183.2 1059.4,1183.6 1053.4,1183.8 1047.3,1183.8 1040.9,1183.5 1034.4,1182.7 1027.9,1181.2 1021.8,1178.5 1016.3,1174.3 1011.9,1169 1008.5,1163 1005.7,1156.7 1003.4,1150.4 1001.5,1144.3 999.8,1138.2 998.3,1132.2 997.1,1126.2 996.1,1120.2 995.2,1114.1 994.6,1108 994.1,1101.8 993.8,1095.4 993.9,1088.8 994.4,1082 995.6,1075.3 997.9,1068.9 1001.6,1063.4 1006.6,1059 1012.2,1055.6 1018.1,1053 1024,1050.9 1029.8,1049.1 1035.6,1047.6 1041.3,1046.3 1047,1045.3 1052.7,1044.5 1058.4,1043.8 1064.2,1043.4 1070.2,1043.2 1076.3,1043.2 1082.7,1043.5 1089.2,1044.3 1095.7,1045.8 1101.8,1048.5 1107.3,1052.7 1111.7,1058 1115.1,1064 1117.9,1070.3 1120.2,1076.6 1122.1,1082.7" fill="#cf2a00"/><polygon points="1117.7,1091.3 1119,1096.7 1120.2,1102.1 1121.1,1107.5 1121.9,1112.9 1122.4,1118.4 1122.7,1124 1122.8,1129.8 1122.6,1135.6 1121.9,1141.6 1120.7,1147.5 1118.5,1153.1 1115.2,1158 1110.9,1162 1106,1165.1 1100.9,1167.6 1095.7,1169.7 1090.5,1171.4 1085.4,1172.9 1080.3,1174.1 1075.2,1175.1 1070.1,1175.8 1064.9,1176.4 1059.6,1176.7 1054.2,1176.7 1048.8,1176.6 1043.1,1176.1 1037.4,1175.2 1031.7,1173.7 1026.2,1171.2 1021.4,1167.5 1017.4,1162.9 1014.2,1157.6 1011.6,1152.1 1009.4,1146.6 1007.6,1141.2 1005.9,1135.7 1004.6,1130.3 1003.4,1124.9 1002.5,1119.5 1001.7,1114.1 1001.2,1108.6 1000.9,1103 1000.8,1097.2 1001,1091.4 1001.7,1085.4 1002.9,1079.5 1005.1,1073.9 1008.4,1069 1012.7,1065 1017.6,1061.9 1022.7,1059.4 1027.9,1057.3 1033.1,1055.6 1038.2,1054.1 1043.3,1052.9 1048.4,1051.9 1053.5,1051.2 1058.7,1050.6 1064,1050.3 1069.4,1050.3 1074.8,1050.4 1080.5,1050.9 1086.2,1051.8 1091.9,1053.3 1097.4,1055.8 1102.2,1059.5 1106.2,1064.1 1109.4,1069.4 1112,1074.9 1114.2,1080.4 1116,1085.8" fill="#cf1e00"/><polygon points="1111.1,1093.9 1112.4,1098.6 1113.5,1103.4 1114.3,1108.2 1114.9,1113 1115.3,1117.9 1115.5,1122.8 1115.4,1127.8 1115,1132.9 1114.3,1138 1113.1,1143.1 1111.1,1147.9 1108.2,1152.2 1104.6,1155.7 1100.4,1158.6 1096.1,1160.9 1091.6,1162.9 1087.1,1164.5 1082.7,1165.9 1078.2,1167.1 1073.7,1168 1069.1,1168.7 1064.5,1169.1 1059.9,1169.3 1055.1,1169.2 1050.3,1169 1045.4,1168.4 1040.5,1167.4 1035.6,1165.9 1030.9,1163.6 1026.7,1160.5 1023.2,1156.5 1020.3,1152 1017.8,1147.4 1015.8,1142.6 1014,1137.9 1012.5,1133.1 1011.2,1128.4 1010.1,1123.6 1009.3,1118.8 1008.7,1114 1008.3,1109.1 1008.1,1104.2 1008.2,1099.2 1008.6,1094.1 1009.3,1089 1010.5,1083.9 1012.5,1079.1 1015.4,1074.8 1019,1071.3 1023.2,1068.4 1027.5,1066.1 1032,1064.1 1036.5,1062.5 1040.9,1061.1 1045.4,1059.9 1049.9,1059 1054.5,1058.3 1059.1,1057.9 1063.7,1057.7 1068.5,1057.8 1073.3,1058 1078.2,1058.6 1083.1,1059.6 1088,1061.1 1092.7,1063.4 1096.9,1066.5 1100.4,1070.5 1103.3,1075 1105.8,1079.6 1107.8,1084.4 1109.6,1089.1" fill="#cf1200"/><polygon points="1104.7,1096.4 1105.9,1100.5 1106.8,1104.7 1107.5,1108.8 1108,1113.1 1108.3,1117.3 1108.4,1121.6 1108.2,1125.9 1107.7,1130.2 1107,1134.6 1105.8,1138.9 1104,1143 1101.5,1146.6 1098.5,1149.7 1095,1152.2 1091.3,1154.4 1087.6,1156.2 1083.8,1157.8 1079.9,1159.1 1076,1160.1 1072.1,1160.9 1068.2,1161.5 1064.2,1161.9 1060.1,1162 1056,1161.9 1051.9,1161.5 1047.7,1160.8 1043.5,1159.9 1039.3,1158.4 1035.4,1156.4 1031.8,1153.7 1028.7,1150.3 1026.1,1146.6 1023.9,1142.7 1022,1138.7 1020.3,1134.6 1018.9,1130.6 1017.7,1126.5 1016.8,1122.3 1016.1,1118.2 1015.6,1113.9 1015.3,1109.7 1015.2,1105.4 1015.4,1101.1 1015.9,1096.8 1016.6,1092.4 1017.8,1088.1 1019.6,1084 1022.1,1080.4 1025.1,1077.3 1028.6,1074.8 1032.3,1072.6 1036,1070.8 1039.8,1069.2 1043.7,1067.9 1047.6,1066.9 1051.5,1066.1 1055.4,1065.5 1059.4,1065.1 1063.5,1065 1067.6,1065.1 1071.7,1065.5 1075.9,1066.2 1080.1,1067.1 1084.3,1068.6 1088.2,1070.6 1091.8,1073.3 1094.9,1076.7 1097.5,1080.4 1099.7,1084.3 1101.6,1088.3 1103.3,1092.4" fill="#cb0600"/><polygon points="1098.2,1099 1099.3,1102.5 1100.1,1106 1100.7,1109.5 1101.1,1113.1 1101.3,1116.7 1101.3,1120.3 1101,1124 1100.5,1127.6 1099.8,1131.2 1098.7,1134.8 1097.1,1138.2 1095.1,1141.2 1092.5,1143.8 1089.7,1146.1 1086.7,1148 1083.6,1149.6 1080.4,1151 1077.2,1152.2 1073.9,1153.1 1070.6,1153.9 1067.2,1154.4 1063.8,1154.6 1060.4,1154.7 1056.9,1154.5 1053.4,1154.1 1049.9,1153.4 1046.4,1152.5 1042.9,1151.2 1039.7,1149.4 1036.7,1147.1 1034,1144.4 1031.8,1141.3 1029.8,1138.1 1028.1,1134.8 1026.6,1131.4 1025.4,1128 1024.3,1124.5 1023.5,1121 1022.9,1117.5 1022.5,1113.9 1022.3,1110.3 1022.3,1106.7 1022.6,1103 1023.1,1099.4 1023.8,1095.8 1024.9,1092.2 1026.5,1088.8 1028.5,1085.8 1031.1,1083.2 1033.9,1080.9 1036.9,1079 1040,1077.4 1043.2,1076 1046.4,1074.8 1049.7,1073.9 1053,1073.1 1056.4,1072.6 1059.8,1072.4 1063.2,1072.3 1066.7,1072.5 1070.2,1072.9 1073.7,1073.6 1077.2,1074.5 1080.7,1075.8 1083.9,1077.6 1086.9,1079.9 1089.6,1082.6 1091.8,1085.7 1093.8,1088.9 1095.5,1092.2 1097,1095.6" fill="#c30000"/><polygon points="1091.6,1101.7 1092.4,1104.5 1093.1,1107.4 1093.7,1110.3 1094,1113.2 1094.1,1116.1 1094,1119.1 1093.7,1122 1093.3,1125 1092.6,1127.9 1091.6,1130.7 1090.3,1133.4 1088.6,1135.8 1086.6,1138 1084.4,1139.9 1082,1141.5 1079.6,1142.9 1077,1144.1 1074.4,1145.1 1071.7,1145.9 1069,1146.5 1066.2,1147 1063.4,1147.2 1060.6,1147.2 1057.8,1147 1055,1146.6 1052.1,1145.9 1049.3,1145.1 1046.6,1143.9 1043.9,1142.5 1041.5,1140.6 1039.4,1138.5 1037.5,1136.1 1035.8,1133.5 1034.4,1130.8 1033.1,1128.1 1032,1125.3 1031.2,1122.5 1030.5,1119.6 1029.9,1116.7 1029.6,1113.8 1029.5,1110.9 1029.6,1107.9 1029.9,1105 1030.3,1102 1031,1099.1 1032,1096.3 1033.3,1093.6 1035,1091.2 1037,1089 1039.2,1087.1 1041.6,1085.5 1044,1084.1 1046.6,1082.9 1049.2,1081.9 1051.9,1081.1 1054.6,1080.5 1057.4,1080 1060.2,1079.8 1063,1079.8 1065.8,1080 1068.6,1080.4 1071.5,1081.1 1074.3,1081.9 1077,1083.1 1079.7,1084.5 1082.1,1086.4 1084.2,1088.5 1086.1,1090.9 1087.8,1093.5 1089.2,1096.2 1090.5,1098.9" fill="#bc0000"/><polygon points="1084.7,1104.4 1085.4,1106.6 1085.9,1108.8 1086.3,1111 1086.6,1113.3 1086.6,1115.5 1086.5,1117.8 1086.3,1120 1085.9,1122.3 1085.3,1124.5 1084.5,1126.6 1083.5,1128.6 1082.2,1130.5 1080.7,1132.2 1079.1,1133.6 1077.3,1134.9 1075.4,1136 1073.5,1137 1071.5,1137.8 1069.4,1138.5 1067.3,1138.9 1065.2,1139.3 1063.1,1139.4 1060.9,1139.4 1058.7,1139.2 1056.6,1138.8 1054.4,1138.3 1052.3,1137.6 1050.2,1136.7 1048.2,1135.5 1046.4,1134.1 1044.7,1132.5 1043.2,1130.7 1041.9,1128.8 1040.8,1126.8 1039.8,1124.7 1038.9,1122.6 1038.2,1120.4 1037.7,1118.2 1037.3,1116 1037,1113.7 1037,1111.5 1037.1,1109.2 1037.3,1107 1037.7,1104.7 1038.3,1102.5 1039.1,1100.4 1040.1,1098.4 1041.4,1096.5 1042.9,1094.8 1044.5,1093.4 1046.3,1092.1 1048.2,1091 1050.1,1090 1052.1,1089.2 1054.2,1088.5 1056.3,1088.1 1058.4,1087.7 1060.5,1087.6 1062.7,1087.6 1064.9,1087.8 1067,1088.2 1069.2,1088.7 1071.3,1089.4 1073.4,1090.3 1075.4,1091.5 1077.2,1092.9 1078.9,1094.5 1080.4,1096.3 1081.7,1098.2 1082.8,1100.2 1083.8,1102.3" fill="#b50000"/><polygon points="1077.6,1107.2 1078.1,1108.7 1078.5,1110.2 1078.7,1111.8 1078.9,1113.3 1078.9,1114.9 1078.8,1116.5 1078.6,1118 1078.3,1119.5 1077.9,1121 1077.3,1122.5 1076.6,1123.8 1075.7,1125.1 1074.7,1126.3 1073.6,1127.3 1072.4,1128.2 1071.2,1129 1069.8,1129.7 1068.5,1130.3 1067.1,1130.7 1065.6,1131.1 1064.2,1131.3 1062.7,1131.4 1061.2,1131.4 1059.7,1131.2 1058.2,1130.9 1056.7,1130.5 1055.3,1130 1053.9,1129.4 1052.5,1128.6 1051.3,1127.6 1050.1,1126.5 1049.1,1125.3 1048.2,1124 1047.3,1122.6 1046.6,1121.2 1046,1119.8 1045.5,1118.3 1045.1,1116.8 1044.9,1115.2 1044.7,1113.7 1044.7,1112.1 1044.8,1110.5 1045,1109 1045.3,1107.5 1045.7,1106 1046.3,1104.5 1047,1103.2 1047.9,1101.9 1048.9,1100.7 1050,1099.7 1051.2,1098.8 1052.4,1098 1053.8,1097.3 1055.1,1096.7 1056.5,1096.3 1058,1095.9 1059.4,1095.7 1060.9,1095.6 1062.4,1095.6 1063.9,1095.8 1065.4,1096.1 1066.9,1096.5 1068.3,1097 1069.7,1097.6 1071.1,1098.4 1072.3,1099.4 1073.5,1100.5 1074.5,1101.7 1075.4,1103 1076.3,1104.4 1077,1105.8" fill="#ad0000"/><polygon points="1070.2,1110.1 1070.5,1110.9 1070.7,1111.8 1070.9,1112.6 1070.9,1113.4 1071,1114.2 1070.9,1115.1 1070.8,1115.9 1070.6,1116.7 1070.4,1117.5 1070.1,1118.3 1069.7,1119 1069.2,1119.7 1068.7,1120.3 1068.1,1120.8 1067.5,1121.3 1066.8,1121.8 1066.1,1122.2 1065.4,1122.5 1064.6,1122.7 1063.8,1122.9 1063.1,1123 1062.3,1123.1 1061.5,1123.1 1060.7,1123 1059.9,1122.8 1059.1,1122.6 1058.3,1122.3 1057.6,1121.9 1056.9,1121.5 1056.2,1121 1055.6,1120.4 1055,1119.8 1054.5,1119.1 1054.1,1118.4 1053.7,1117.6 1053.4,1116.9 1053.1,1116.1 1052.9,1115.2 1052.7,1114.4 1052.7,1113.6 1052.6,1112.8 1052.7,1111.9 1052.8,1111.1 1053,1110.3 1053.2,1109.5 1053.5,1108.7 1053.9,1108 1054.4,1107.3 1054.9,1106.7 1055.5,1106.2 1056.1,1105.7 1056.8,1105.2 1057.5,1104.8 1058.2,1104.5 1059,1104.3 1059.8,1104.1 1060.5,1104 1061.3,1103.9 1062.1,1103.9 1062.9,1104 1063.7,1104.2 1064.5,1104.4 1065.3,1104.7 1066,1105.1 1066.7,1105.5 1067.4,1106 1068,1106.6 1068.6,1107.2 1069.1,1107.9 1069.5,1108.6 1069.9,1109.4" fill="#a60000"/><polygon points="1062.6,1113.2 1062.7,1113.2 1062.7,1113.3 1062.7,1113.4 1062.7,1113.5 1062.7,1113.6 1062.7,1113.7 1062.7,1113.7 1062.7,1113.8 1062.6,1113.9 1062.6,1114 1062.6,1114 1062.5,1114.1 1062.5,1114.2 1062.4,1114.2 1062.4,1114.3 1062.3,1114.3 1062.2,1114.3 1062.2,1114.4 1062.1,1114.4 1062,1114.4 1061.9,1114.4 1061.8,1114.4 1061.8,1114.4 1061.7,1114.4 1061.6,1114.4 1061.5,1114.4 1061.5,1114.4 1061.4,1114.3 1061.3,1114.3 1061.3,1114.2 1061.2,1114.2 1061.1,1114.1 1061.1,1114 1061,1114 1061,1113.9 1061,1113.8 1060.9,1113.8 1060.9,1113.7 1060.9,1113.6 1060.9,1113.5 1060.9,1113.4 1060.9,1113.3 1060.9,1113.3 1060.9,1113.2 1061,1113.1 1061,1113 1061,1113 1061.1,1112.9 1061.1,1112.8 1061.2,1112.8 1061.2,1112.7 1061.3,1112.7 1061.4,1112.7 1061.4,1112.6 1061.5,1112.6 1061.6,1112.6 1061.7,1112.6 1061.8,1112.6 1061.8,1112.6 1061.9,1112.6 1062,1112.6 1062.1,1112.6 1062.1,1112.6 1062.2,1112.7 1062.3,1112.7 1062.3,1112.8 1062.4,1112.8 1062.5,1112.9 1062.5,1113 1062.6,1113 1062.6,1113.1" fill="#9f0000"/>
<defs><linearGradient id="jg" x1="0" y1="0" x2="0" y2="1"><stop offset="0.000" stop-color="#bf0000"/><stop offset="0.031" stop-color="#d10000"/><stop offset="0.062" stop-color="#e30000"/><stop offset="0.094" stop-color="#f60000"/><stop offset="0.125" stop-color="#ff1e00"/><stop offset="0.156" stop-color="#ff3b00"/><stop offset="0.188" stop-color="#ff5900"/><stop offset="0.219" stop-color="#ff7700"/><stop offset="0.250" stop-color="#ff9400"/><stop offset="0.281" stop-color="#ffb200"/><stop offset="0.312" stop-color="#ffd000"/><stop offset="0.344" stop-color="#feed00"/><stop offset="0.375" stop-color="#e4ff13"/><stop offset="0.406" stop-color="#caff2c"/><stop offset="0.438" stop-color="#b1ff46"/><stop offset="0.469" stop-color="#97ff60"/><stop offset="0.500" stop-color="#7dff7a"/><stop offset="0.531" stop-color="#63ff94"/><stop offset="0.562" stop-color="#49ffad"/><stop offset="0.594" stop-color="#30ffc7"/><stop offset="0.625" stop-color="#16ffe1"/><stop offset="0.656" stop-color="#00e0fb"/><stop offset="0.688" stop-color="#00c0ff"/><stop offset="0.719" stop-color="#00a0ff"/><stop offset="0.750" stop-color="#0080ff"/><stop offset="0.781" stop-color="#0060ff"/><stop offset="0.812" stop-color="#0040ff"/><stop offset="0.844" stop-color="#0020ff"/><stop offset="0.875" stop-color="#0000ff"/><stop offset="0.906" stop-color="#0000ed"/><stop offset="0.938" stop-color="#0000c8"/><stop offset="0.969" stop-color="#0000a4"/><stop offset="1.000" stop-color="#000080"/></linearGradient></defs>
<rect x="1420.2" y="889.8" width="21" height="467" fill="url(#jg)"/>
<g stroke="#222" stroke-width="2"><line x1="1435.8" x2="1450.4" y1="890.7" y2="890.7"/><line x1="1435.8" x2="1450.4" y1="955.4" y2="955.4"/><line x1="1435.8" x2="1450.4" y1="1019.6" y2="1019.6"/><line x1="1435.8" x2="1450.4" y1="1084.9" y2="1084.9"/><line x1="1435.8" x2="1450.4" y1="1150.6" y2="1150.6"/><line x1="1435.8" x2="1450.4" y1="1214.8" y2="1214.8"/><line x1="1435.8" x2="1450.4" y1="1280" y2="1280"/><line x1="1435.8" x2="1450.4" y1="1357.2" y2="1357.2"/></g>
<g font-family="'Liberation Serif','Times New Roman',serif" font-weight="bold" font-size="22.5" dominant-baseline="central"><text x="1461" y="883.1">30</text><text x="1461" y="951.4">28</text><text x="1461" y="1019">26</text><text x="1461" y="1087">24</text><text x="1461" y="1155.2">22</text><text x="1461" y="1222.8">20</text><text x="1461" y="1290.4">18</text><text x="1461" y="1358.8">16</text></g>
<text font-family="'Liberation Serif','Times New Roman',serif" font-weight="bold" font-size="34.7" text-anchor="middle" transform="translate(1529 1092.5) rotate(-90)">Velocity (m/s)</text>
<g font-family="'Liberation Serif','Times New Roman',serif" font-weight="bold" font-size="48" text-anchor="middle" fill="#000"><text x="381.2" y="834.6">(a)</text><text x="1360" y="834.6">(b)</text><text x="870.5" y="1465.6">(c)</text></g>
</svg></body></html>
